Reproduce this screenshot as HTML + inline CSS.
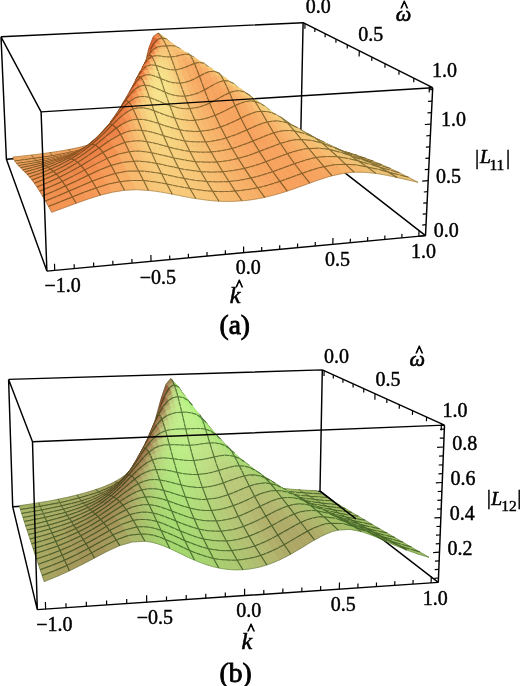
<!DOCTYPE html>
<html><head><meta charset="utf-8"><title>L11 and L12 surface plots</title><style>
html,body{margin:0;padding:0;background:#fff}
svg{display:block}
path{fill:currentColor;stroke:currentColor;stroke-width:.6;stroke-linejoin:round}
path.ma{fill:none;stroke:#3e3206;stroke-opacity:.55;stroke-width:1.05}
path.mb{fill:none;stroke:#16360a;stroke-opacity:.58;stroke-width:1.05}
path.bd{stroke-opacity:.35;stroke-width:.9}
path.bx{fill:none;stroke:#000;stroke-width:1.45}
path.tk{fill:none;stroke:#000;stroke-width:1.2}
text{font-family:"Liberation Serif","Times New Roman",serif;fill:#000;stroke:#000;stroke-width:.45px}
.n{font-size:20px} .ax{font-size:22px;font-style:italic;stroke-width:.6px} .axk{font-size:24px;font-style:italic;stroke-width:.6px}
.h{font-size:15px;stroke-width:.9px} .c{font-size:27.5px;stroke-width:.85px} .br{font-size:21px} .L{font-size:19.5px;font-style:italic;stroke-width:.6px} .s{font-size:15.5px}
</style></head><body>
<svg width="520" height="686" viewBox="0 0 520 686">
<defs><filter id="bl" x="-5%" y="-5%" width="110%" height="110%"><feGaussianBlur stdDeviation="0.45"/></filter></defs>
<path class="bx" d="M6.4 159.3L300.7 138.4M300.7 138.4L425.5 235.6M300.7 138.4L303.1 22.7"/>
<g filter="url(#bl)">
<path d="M77.8 147.7l9.1-2.3 1 1.1-9.2 2.4z" color="#f19b58"/>
<path class="ma" d="M86.9 145.4L87.9 146.5"/>
<path class="ma bd" d="M77.8 147.7L86.9 145.4"/>
<path d="M68.6 149.6l9.2-1.9 .9 1.2-9.2 2z" color="#f19f5b"/>
<path class="ma" d="M68.6 149.6L69.5 150.9"/>
<path class="ma bd" d="M68.6 149.6L77.8 147.7"/>
<path d="M59.4 151.2l9.2-1.6 .9 1.3-9.2 1.6z" color="#f1a25d"/>
<path class="ma" d="M68.6 149.6L69.5 150.9"/>
<path class="ma bd" d="M59.4 151.2L68.6 149.6"/>
<path d="M50.2 152.6l9.2-1.4 .9 1.3-9.3 1.5z" color="#f1a45e"/>
<path class="ma" d="M50.2 152.6L51 154"/>
<path class="ma bd" d="M50.2 152.6L59.4 151.2"/>
<path d="M40.9 153.9l9.3-1.3 .8 1.4-9.3 1.3z" color="#f1a660"/>
<path class="ma" d="M50.2 152.6L51 154"/>
<path class="ma bd" d="M40.9 153.9L50.2 152.6"/>
<path d="M31.6 155l9.3-1.1 .8 1.4-9.4 1.1z" color="#f1a760"/>
<path class="ma" d="M31.6 155L32.3 156.4"/>
<path class="ma bd" d="M31.6 155L40.9 153.9"/>
<path d="M22.2 156.1l9.4-1.1 .7 1.4-9.4 1.1z" color="#f1a861"/>
<path class="ma" d="M31.6 155L32.3 156.4"/>
<path class="ma bd" d="M22.2 156.1L31.6 155"/>
<path d="M12.8 157.1l9.4-1 .7 1.4-9.4 1.1z" color="#f1a861"/>
<path class="ma bd" d="M12.8 157.1L13.5 158.6M12.8 157.1L22.2 156.1"/>
<path d="M78.7 148.9l9.2-2.4 1 .5-9.2 2.6z" color="#ea9554"/>
<path class="ma" d="M87.9 146.5L88.9 147"/>
<path d="M69.5 150.9l9.2-2 1 .7-9.3 2.1z" color="#eb9a57"/>
<path class="ma" d="M69.5 150.9L70.4 151.7"/>
<path d="M60.3 152.5l9.2-1.6 .9 .8-9.3 1.8z" color="#ec9e5a"/>
<path class="ma" d="M69.5 150.9L70.4 151.7"/>
<path d="M51 154l9.3-1.5 .8 1-9.3 1.5z" color="#eca05c"/>
<path class="ma" d="M51 154L51.8 155"/>
<path d="M144.7 65.5l4.3-18 1.3 0-4.3 17.1z" color="#d75a2a"/>
<path class="ma bd" d="M144.7 65.5L149 47.5"/>
<path d="M41.7 155.3l9.3-1.3 .8 1-9.4 1.3z" color="#eda25d"/>
<path class="ma" d="M51 154L51.8 155"/>
<path d="M158 33l4.5 3 1.4 .9-4.6-2.6z" color="#e5d581"/>
<path class="ma" d="M158 33L159.3 34.3"/>
<path class="ma bd" d="M158 33L162.5 36"/>
<path d="M32.3 156.4l9.4-1.1 .7 1-9.4 1.3z" color="#eda45e"/>
<path class="ma" d="M32.3 156.4L33 157.6"/>
<path d="M149 47.5l4.4-11.1 1.4 1-4.5 10.1z" color="#dd612f"/>
<path class="ma bd" d="M149 47.5L153.4 36.4"/>
<path d="M153.4 36.4l4.6-3.4 1.3 1.3-4.5 3.1z" color="#ee8347"/>
<path class="ma" d="M158 33L159.3 34.3"/>
<path class="ma bd" d="M153.4 36.4L158 33"/>
<path d="M22.9 157.5l9.4-1.1 .7 1.2-9.4 1.1z" color="#eea55f"/>
<path class="ma" d="M32.3 156.4L33 157.6"/>
<path d="M13.5 158.6l9.4-1.1 .7 1.2-9.5 1.1z" color="#eea660"/>
<path class="ma bd" d="M13.5 158.6L14.1 159.8"/>
<path d="M79.7 149.6l9.2-2.6 1 .1-9.3 2.8z" color="#e58f4f"/>
<path class="ma" d="M88.9 147L89.9 147.1M80.6 149.9L89.9 147.1"/>
<path d="M70.4 151.7l9.3-2.1 .9 .3-9.3 2.3z" color="#e69554"/>
<path class="ma" d="M70.4 151.7L71.3 152.2M71.3 152.2L80.6 149.9"/>
<path d="M61.1 153.5l9.3-1.8 .9 .5-9.3 1.9z" color="#e89a57"/>
<path class="ma" d="M70.4 151.7L71.3 152.2M62 154.1L71.3 152.2"/>
<path d="M51.8 155l9.3-1.5 .9 .6-9.4 1.7z" color="#e99d59"/>
<path class="ma" d="M51.8 155L52.6 155.8M52.6 155.8L62 154.1"/>
<path d="M146 64.6l4.3-17.1 1.3-1.4-4.4 14.5z" color="#ce5527"/>
<path d="M42.4 156.3l9.4-1.3 .8 .8-9.4 1.4z" color="#ea9f5b"/>
<path class="ma" d="M51.8 155L52.6 155.8M43.2 157.2L52.6 155.8"/>
<path d="M159.3 34.3l4.6 2.6 1.4 .9-4.6-1.9z" color="#e9d17e"/>
<path class="ma" d="M159.3 34.3L160.7 35.9"/>
<path d="M33 157.6l9.4-1.3 .8 .9-9.4 1.3z" color="#eaa15c"/>
<path class="ma" d="M33 157.6L33.8 158.5M33.8 158.5L43.2 157.2"/>
<path d="M150.3 47.5l4.5-10.1 1.3 .8-4.5 7.9z" color="#da602e"/>
<path d="M154.8 37.4l4.5-3.1 1.4 1.6-4.6 2.3z" color="#f18b4d"/>
<path class="ma" d="M159.3 34.3L160.7 35.9"/>
<path d="M23.6 158.7l9.4-1.1 .8 .9-9.5 1.3z" color="#eba35d"/>
<path class="ma" d="M33 157.6L33.8 158.5M24.3 159.8L33.8 158.5"/>
<path d="M14.1 159.8l9.5-1.1 .7 1.1-9.5 1.1z" color="#eca45e"/>
<path class="ma" d="M14.8 160.9L24.3 159.8"/>
<path class="ma bd" d="M14.1 159.8L14.8 160.9"/>
<path d="M71.3 152.2l9.3-2.3 1 0-9.4 2.5z" color="#e39151"/>
<path class="ma" d="M71.3 152.2L72.2 152.4M71.3 152.2L80.6 149.9"/>
<path d="M62 154.1l9.3-1.9 .9 .2-9.4 2.1z" color="#e59654"/>
<path class="ma" d="M71.3 152.2L72.2 152.4M62 154.1L71.3 152.2"/>
<path d="M52.6 155.8l9.4-1.7 .8 .4-9.4 1.8z" color="#e79a57"/>
<path class="ma" d="M52.6 155.8L53.4 156.3M52.6 155.8L62 154.1"/>
<path d="M43.2 157.2l9.4-1.4 .8 .5-9.4 1.6z" color="#e89d59"/>
<path class="ma" d="M52.6 155.8L53.4 156.3M43.2 157.2L52.6 155.8"/>
<path d="M160.7 35.9l4.6 1.9 1.4 1.2-4.6-1.1z" color="#f1cc7b"/>
<path class="ma" d="M160.7 35.9L162.1 37.9M162.1 37.9L166.7 39"/>
<path d="M147.2 60.6l4.4-14.5 1.3-1.2-4.5 11.1z" color="#cc5526"/>
<path class="ma" d="M148.4 56L152.9 44.9"/>
<path d="M33.8 158.5l9.4-1.3 .8 .7-9.5 1.4z" color="#e99f5b"/>
<path class="ma" d="M33.8 158.5L34.5 159.3M33.8 158.5L43.2 157.2"/>
<path d="M156.1 38.2l4.6-2.3 1.4 2-4.6 1.6z" color="#f69756"/>
<path class="ma" d="M160.7 35.9L162.1 37.9M157.5 39.5L162.1 37.9"/>
<path d="M151.6 46.1l4.5-7.9 1.4 1.3-4.6 5.4z" color="#dd6733"/>
<path class="ma" d="M152.9 44.9L157.5 39.5"/>
<path d="M24.3 159.8l9.5-1.3 .7 .8-9.5 1.3z" color="#e9a15c"/>
<path class="ma" d="M33.8 158.5L34.5 159.3M24.3 159.8L33.8 158.5"/>
<path d="M14.8 160.9l9.5-1.1 .7 .8-9.6 1.2z" color="#eaa25d"/>
<path class="ma" d="M14.8 160.9L24.3 159.8"/>
<path class="ma bd" d="M14.8 160.9L15.4 161.8"/>
<path d="M72.2 152.4l9.4-2.5 .9-.2-9.4 2.8z" color="#e28e4e"/>
<path class="ma" d="M72.2 152.4L73.1 152.5"/>
<path d="M166.7 39l4.7 4.9 1.4-.2-4.7-2.9z" color="#d26d37"/>
<path class="ma" d="M166.7 39L171.4 43.9"/>
<path d="M62.8 154.5l9.4-2.1 .9 .1-9.4 2.3z" color="#e49352"/>
<path class="ma" d="M72.2 152.4L73.1 152.5"/>
<path d="M53.4 156.3l9.4-1.8 .9 .3-9.4 2z" color="#e59755"/>
<path class="ma" d="M53.4 156.3L54.3 156.8"/>
<path d="M162.1 37.9l4.6 1.1 1.4 1.8-4.6-.6z" color="#f7c777"/>
<path class="ma" d="M162.1 37.9L163.5 40.2M162.1 37.9L166.7 39"/>
<path d="M44 157.9l9.4-1.6 .9 .5-9.5 1.7z" color="#e69b57"/>
<path class="ma" d="M53.4 156.3L54.3 156.8"/>
<path d="M157.5 39.5l4.6-1.6 1.4 2.3-4.6 1z" color="#f7a660"/>
<path class="ma" d="M162.1 37.9L163.5 40.2M157.5 39.5L162.1 37.9"/>
<path d="M34.5 159.3l9.5-1.4 .8 .6-9.6 1.5z" color="#e79d59"/>
<path class="ma" d="M34.5 159.3L35.2 160"/>
<path d="M148.4 56l4.5-11.1 1.4-.3-4.6 7.7z" color="#cf5a2a"/>
<path class="ma" d="M148.4 56L152.9 44.9"/>
<path d="M152.9 44.9l4.6-5.4 1.4 1.7-4.6 3.4z" color="#e9773f"/>
<path class="ma" d="M152.9 44.9L157.5 39.5"/>
<path d="M25 160.6l9.5-1.3 .7 .7-9.5 1.4z" color="#e89f5b"/>
<path class="ma" d="M34.5 159.3L35.2 160"/>
<path d="M15.4 161.8l9.6-1.2 .7 .8-9.7 1.3z" color="#e9a15c"/>
<path class="ma bd" d="M15.4 161.8L16 162.7"/>
<path d="M73.1 152.5l9.4-2.8 1-.3-9.5 3.1z" color="#e18b4c"/>
<path class="ma" d="M73.1 152.5L74 152.5M74 152.5L83.5 149.4"/>
<path d="M168.1 40.8l4.7 2.9 1.4 .8-4.6-1.4z" color="#ecd37f"/>
<path d="M63.7 154.8l9.4-2.3 .9 0-9.4 2.5z" color="#e39150"/>
<path class="ma" d="M73.1 152.5L74 152.5M64.6 155L74 152.5"/>
<path d="M163.5 40.2l4.6 .6 1.5 2.3-4.7-.2z" color="#f7c375"/>
<path class="ma" d="M163.5 40.2L164.9 42.9"/>
<path d="M54.3 156.8l9.4-2 .9 .2-9.5 2.2z" color="#e49554"/>
<path class="ma" d="M54.3 156.8L55.1 157.2M55.1 157.2L64.6 155"/>
<path d="M44.8 158.5l9.5-1.7 .8 .4-9.6 1.8z" color="#e59956"/>
<path class="ma" d="M54.3 156.8L55.1 157.2M45.5 159L55.1 157.2"/>
<path d="M158.9 41.2l4.6-1 1.4 2.7-4.6 .6z" color="#f7b168"/>
<path class="ma" d="M163.5 40.2L164.9 42.9"/>
<path d="M145.2 65.3l4.5-13 1.3-1.9-4.6 9.7z" color="#dbf396"/>
<path class="ma" d="M145.2 65.3L146.4 60.1"/>
<path d="M35.2 160l9.6-1.5 .7 .5-9.5 1.7z" color="#e69b58"/>
<path class="ma" d="M35.2 160L36 160.7M36 160.7L45.5 159"/>
<path d="M154.3 44.6l4.6-3.4 1.4 2.3-4.7 2z" color="#f28e4f"/>
<path d="M149.7 52.3l4.6-7.7 1.3 .9-4.6 4.9z" color="#d96532"/>
<path d="M25.7 161.4l9.5-1.4 .8 .7-9.7 1.5z" color="#e79e5a"/>
<path class="ma" d="M35.2 160L36 160.7M26.3 162.2L36 160.7"/>
<path d="M16 162.7l9.7-1.3 .6 .8-9.6 1.3z" color="#e89f5b"/>
<path class="ma" d="M16.7 163.5L26.3 162.2"/>
<path class="ma bd" d="M16 162.7L16.7 163.5"/>
<path d="M169.6 43.1l4.6 1.4 1.5 1.8-4.7-.5z" color="#f7c979"/>
<path class="ma" d="M171 45.8L175.7 46.3"/>
<path d="M164.9 42.9l4.7 .2 1.4 2.7-4.6 .2z" color="#f7c173"/>
<path class="ma" d="M164.9 42.9L166.4 46M166.4 46L171 45.8"/>
<path d="M64.6 155l9.4-2.5 1-.1-9.5 2.7z" color="#e28e4f"/>
<path class="ma" d="M74 152.5L75 152.4M64.6 155L74 152.5"/>
<path d="M55.1 157.2l9.5-2.2 .9 .1-9.6 2.4z" color="#e39352"/>
<path class="ma" d="M55.1 157.2L55.9 157.5M55.1 157.2L64.6 155"/>
<path d="M160.3 43.5l4.6-.6 1.5 3.1-4.7 .3z" color="#f7ba6f"/>
<path class="ma" d="M164.9 42.9L166.4 46M161.7 46.3L166.4 46"/>
<path d="M45.5 159l9.6-1.8 .8 .3-9.6 2z" color="#e59755"/>
<path class="ma" d="M55.1 157.2L55.9 157.5M45.5 159L55.1 157.2"/>
<path d="M155.6 45.5l4.7-2 1.4 2.8-4.7 .9z" color="#f7a560"/>
<path class="ma" d="M157 47.2L161.7 46.3"/>
<path d="M146.4 60.1l4.6-9.7 1.3-.3-4.6 6.6z" color="#cf5c2b"/>
<path class="ma" d="M146.4 60.1L147.7 56.7M147.7 56.7L152.3 50.1"/>
<path d="M36 160.7l9.5-1.7 .8 .5-9.6 1.8z" color="#e69a57"/>
<path class="ma" d="M36 160.7L36.7 161.3M36 160.7L45.5 159"/>
<path d="M151 50.4l4.6-4.9 1.4 1.7-4.7 2.9z" color="#ea7a41"/>
<path class="ma" d="M152.3 50.1L157 47.2"/>
<path d="M26.3 162.2l9.7-1.5 .7 .6-9.7 1.5z" color="#e79c59"/>
<path class="ma" d="M36 160.7L36.7 161.3M26.3 162.2L36 160.7"/>
<path d="M175.7 46.3l4.7 2.3 1.5 1-4.7-.9z" color="#f1cd7b"/>
<path class="ma" d="M175.7 46.3L180.4 48.6"/>
<path d="M16.7 163.5l9.6-1.3 .7 .6-9.7 1.5z" color="#e89e5a"/>
<path class="ma" d="M16.7 163.5L26.3 162.2"/>
<path class="ma bd" d="M16.7 163.5L17.3 164.3"/>
<path d="M171 45.8l4.7 .5 1.5 2.4-4.7 .3z" color="#f7c174"/>
<path class="ma" d="M171 45.8L175.7 46.3"/>
<path d="M166.4 46l4.6-.2 1.5 3.2-4.7 .4z" color="#f7c073"/>
<path class="ma" d="M166.4 46L167.8 49.4M166.4 46L171 45.8"/>
<path d="M65.5 155.1l9.5-2.7 .9-.2-9.6 3z" color="#e18c4d"/>
<path class="ma" d="M75 152.4L75.9 152.2"/>
<path d="M161.7 46.3l4.7-.3 1.4 3.4-4.7 .1z" color="#f7c173"/>
<path class="ma" d="M166.4 46L167.8 49.4M161.7 46.3L166.4 46"/>
<path d="M55.9 157.5l9.6-2.4 .8 .1-9.6 2.5z" color="#e39151"/>
<path class="ma" d="M55.9 157.5L56.7 157.7"/>
<path d="M157 47.2l4.7-.9 1.4 3.2-4.7 .2z" color="#f7b86d"/>
<path class="ma" d="M157 47.2L161.7 46.3"/>
<path d="M181.9 49.6l4.7 3.6 1.5 .1-4.7-1.8z" color="#e4d27f"/>
<path class="ma" d="M186.6 53.2L188.1 53.3"/>
<path d="M46.3 159.5l9.6-2 .8 .2-9.6 2.2z" color="#e49554"/>
<path class="ma" d="M55.9 157.5L56.7 157.7"/>
<path d="M143.2 67.8l4.5-11.1 1.3-1.5-4.6 8.3z" color="#dbf194"/>
<path class="ma" d="M147.7 56.7L149 55.2M143.2 67.8L147.7 56.7"/>
<path d="M152.3 50.1l4.7-2.9 1.4 2.5-4.7 1.3z" color="#f69655"/>
<path class="ma" d="M152.3 50.1L157 47.2"/>
<path d="M36.7 161.3l9.6-1.8 .8 .4-9.7 1.9z" color="#e59956"/>
<path class="ma" d="M36.7 161.3L37.4 161.8"/>
<path d="M147.7 56.7l4.6-6.6 1.4 .9-4.7 4.2z" color="#dc6b36"/>
<path class="ma" d="M147.7 56.7L149 55.2M147.7 56.7L152.3 50.1"/>
<path d="M177.2 48.7l4.7 .9 1.5 1.9-4.7 .3z" color="#f7c374"/>
<path d="M27 162.8l9.7-1.5 .7 .5-9.7 1.7z" color="#e69b58"/>
<path class="ma" d="M36.7 161.3L37.4 161.8"/>
<path d="M17.3 164.3l9.7-1.5 .7 .7-9.7 1.5z" color="#e79d59"/>
<path class="ma bd" d="M17.3 164.3L18 165"/>
<path d="M172.5 49l4.7-.3 1.5 3.1-4.7 .8z" color="#f7bc70"/>
<path d="M167.8 49.4l4.7-.4 1.5 3.6-4.7 .5z" color="#f7c072"/>
<path class="ma" d="M167.8 49.4L169.3 53.1"/>
<path d="M163.1 49.5l4.7-.1 1.5 3.7-4.7-.1z" color="#f7c677"/>
<path class="ma" d="M167.8 49.4L169.3 53.1"/>
<path d="M66.3 155.2l9.6-3 .9-.3-9.6 3.3z" color="#e18a4c"/>
<path class="ma" d="M75.9 152.2L76.8 151.9M67.2 155.2L76.8 151.9"/>
<path d="M158.4 49.7l4.7-.2 1.5 3.5-4.8-.3z" color="#f7c576"/>
<path d="M56.7 157.7l9.6-2.5 .9 0-9.6 2.7z" color="#e38f4f"/>
<path class="ma" d="M56.7 157.7L57.6 157.9M57.6 157.9L67.2 155.2"/>
<path d="M183.4 51.5l4.7 1.8 1.5 1.3-4.7-.3z" color="#f7c878"/>
<path class="ma" d="M188.1 53.3L189.6 54.6M184.9 54.3L189.6 54.6"/>
<path d="M153.7 51l4.7-1.3 1.4 3-4.7 .3z" color="#f7b168"/>
<path d="M47.1 159.9l9.6-2.2 .9 .2-9.7 2.3z" color="#e49453"/>
<path class="ma" d="M56.7 157.7L57.6 157.9M47.9 160.2L57.6 157.9"/>
<path d="M178.7 51.8l4.7-.3 1.5 2.8-4.7 1z" color="#f7b96e"/>
<path class="ma" d="M180.2 55.3L184.9 54.3"/>
<path d="M149 55.2l4.7-4.2 1.4 2-4.7 2.2z" color="#ee8347"/>
<path class="ma" d="M149 55.2L150.4 55.2"/>
<path d="M144.4 63.5l4.6-8.3 1.4 0-4.7 5.7z" color="#d3602e"/>
<path class="ma" d="M149 55.2L150.4 55.2"/>
<path d="M37.4 161.8l9.7-1.9 .8 .3-9.7 2.1z" color="#e59755"/>
<path class="ma" d="M37.4 161.8L38.2 162.3M38.2 162.3L47.9 160.2"/>
<path d="M27.7 163.5l9.7-1.7 .8 .5-9.8 1.8z" color="#e69a57"/>
<path class="ma" d="M37.4 161.8L38.2 162.3M28.4 164.1L38.2 162.3"/>
<path d="M174 52.6l4.7-.8 1.5 3.5-4.7 1.1z" color="#f7b86d"/>
<path class="ma" d="M175.5 56.4L180.2 55.3"/>
<path d="M18 165l9.7-1.5 .7 .6-9.8 1.7z" color="#e79c59"/>
<path class="ma" d="M18.6 165.8L28.4 164.1"/>
<path class="ma bd" d="M18 165L18.6 165.8"/>
<path d="M169.3 53.1l4.7-.5 1.5 3.8-4.7 .6z" color="#f7c073"/>
<path class="ma" d="M169.3 53.1L170.8 57M170.8 57L175.5 56.4"/>
<path d="M164.6 53l4.7 .1 1.5 3.9-4.8-.1z" color="#f7c979"/>
<path class="ma" d="M169.3 53.1L170.8 57M166 56.9L170.8 57"/>
<path d="M189.6 54.6l4.8 2.9 1.5 .6-4.7-1.2z" color="#eacf7d"/>
<path class="ma" d="M189.6 54.6L191.2 56.9M189.6 54.6L194.4 57.5"/>
<path d="M159.8 52.7l4.8 .3 1.4 3.9-4.7-.6z" color="#f7cd7c"/>
<path class="ma" d="M161.3 56.3L166 56.9"/>
<path d="M184.9 54.3l4.7 .3 1.6 2.3-4.7 .7z" color="#f7bc70"/>
<path class="ma" d="M189.6 54.6L191.2 56.9M184.9 54.3L189.6 54.6"/>
<path d="M67.2 155.2l9.6-3.3 1-.4-9.7 3.6z" color="#df884a"/>
<path class="ma" d="M76.8 151.9L77.8 151.5M67.2 155.2L76.8 151.9"/>
<path d="M155.1 53l4.7-.3 1.5 3.6-4.8-.5z" color="#f7c476"/>
<path class="ma" d="M156.5 55.8L161.3 56.3"/>
<path d="M57.6 157.9l9.6-2.7 .9-.1-9.7 2.9z" color="#e28e4e"/>
<path class="ma" d="M57.6 157.9L58.4 158M57.6 157.9L67.2 155.2"/>
<path d="M180.2 55.3l4.7-1 1.6 3.3-4.7 1.6z" color="#f7b36a"/>
<path class="ma" d="M180.2 55.3L184.9 54.3"/>
<path d="M47.9 160.2l9.7-2.3 .8 .1-9.7 2.6z" color="#e49251"/>
<path class="ma" d="M57.6 157.9L58.4 158M47.9 160.2L57.6 157.9"/>
<path d="M150.4 55.2l4.7-2.2 1.4 2.8-4.7 .7z" color="#f7a25d"/>
<path class="ma" d="M150.4 55.2L151.8 56.5M151.8 56.5L156.5 55.8"/>
<path d="M141.1 70.6l4.6-9.7 1.3-.9-4.7 7.2z" color="#cd5b2a"/>
<path class="ma" d="M142.3 67.2L147 60"/>
<path d="M145.7 60.9l4.7-5.7 1.4 1.3-4.8 3.5z" color="#e2723b"/>
<path class="ma" d="M150.4 55.2L151.8 56.5M147 60L151.8 56.5"/>
<path d="M175.5 56.4l4.7-1.1 1.6 3.9-4.8 1.3z" color="#f7b66c"/>
<path class="ma" d="M175.5 56.4L180.2 55.3"/>
<path d="M38.2 162.3l9.7-2.1 .8 .4-9.7 2.1z" color="#e59654"/>
<path class="ma" d="M38.2 162.3L39 162.7M38.2 162.3L47.9 160.2"/>
<path d="M28.4 164.1l9.8-1.8 .8 .4-9.8 2z" color="#e69956"/>
<path class="ma" d="M38.2 162.3L39 162.7M28.4 164.1L38.2 162.3"/>
<path d="M170.8 57l4.7-.6 1.5 4.1-4.7 .7z" color="#f7c073"/>
<path class="ma" d="M170.8 57L172.3 61.2M170.8 57L175.5 56.4"/>
<path d="M18.6 165.8l9.8-1.7 .8 .6-9.9 1.8z" color="#e79b58"/>
<path class="ma" d="M18.6 165.8L28.4 164.1"/>
<path class="ma bd" d="M18.6 165.8L19.3 166.5"/>
<path d="M166 56.9l4.8 .1 1.5 4.2-4.8-.2z" color="#f7cb7b"/>
<path class="ma" d="M170.8 57L172.3 61.2M166 56.9L170.8 57"/>
<path d="M191.2 56.9l4.7 1.2 1.7 1.7-4.8 .1z" color="#f7c475"/>
<path class="ma" d="M191.2 56.9L192.8 59.9"/>
<path d="M161.3 56.3l4.7 .6 1.5 4.1-4.7-.8z" color="#f7d280"/>
<path class="ma" d="M161.3 56.3L166 56.9"/>
<path d="M186.5 57.6l4.7-.7 1.6 3-4.7 1.5z" color="#f7b36a"/>
<path class="ma" d="M191.2 56.9L192.8 59.9"/>
<path d="M156.5 55.8l4.8 .5 1.5 3.9-4.8-1.1z" color="#f7d07e"/>
<path class="ma" d="M156.5 55.8L161.3 56.3"/>
<path d="M181.8 59.2l4.7-1.6 1.6 3.8-4.8 1.9z" color="#f7af67"/>
<path d="M68.1 155.1l9.7-3.6 .9-.4-9.7 3.8z" color="#de8548"/>
<path class="ma" d="M77.8 151.5L78.7 151.1"/>
<path d="M58.4 158l9.7-2.9 .9-.2-9.7 3.2z" color="#e28c4d"/>
<path class="ma" d="M58.4 158L59.3 158.1"/>
<path d="M151.8 56.5l4.7-.7 1.5 3.3-4.8-.2z" color="#f7bc70"/>
<path class="ma" d="M151.8 56.5L153.2 58.9M151.8 56.5L156.5 55.8"/>
<path d="M177 60.5l4.8-1.3 1.5 4.1-4.7 1.5z" color="#f7b56b"/>
<path d="M48.7 160.6l9.7-2.6 .9 .1-9.8 2.7z" color="#e49150"/>
<path class="ma" d="M58.4 158L59.3 158.1"/>
<path d="M147 60l4.8-3.5 1.4 2.4-4.8 1.7z" color="#f28e4f"/>
<path class="ma" d="M151.8 56.5L153.2 58.9M147 60L151.8 56.5"/>
<path d="M142.3 67.2l4.7-7.2 1.4 .6-4.8 4.9z" color="#d96633"/>
<path class="ma" d="M142.3 67.2L147 60"/>
<path d="M172.3 61.2l4.7-.7 1.6 4.3-4.8 .7z" color="#f7c073"/>
<path class="ma" d="M172.3 61.2L173.8 65.5"/>
<path d="M39 162.7l9.7-2.1 .8 .2-9.8 2.4z" color="#e59553"/>
<path class="ma" d="M39 162.7L39.7 163.2"/>
<path d="M197.6 59.8l4.7 2.4 1.6 1-4.7-.8z" color="#f1cd7b"/>
<path class="ma" d="M199.2 62.4L203.9 63.2"/>
<path d="M29.2 164.7l9.8-2 .7 .5-9.8 2.1z" color="#e69855"/>
<path class="ma" d="M39 162.7L39.7 163.2"/>
<path d="M167.5 61l4.8 .2 1.5 4.3-4.8-.2z" color="#f7cd7c"/>
<path class="ma" d="M172.3 61.2L173.8 65.5"/>
<path d="M19.3 166.5l9.9-1.8 .7 .6-9.9 1.8z" color="#e79a57"/>
<path class="ma bd" d="M19.3 166.5L20 167.1"/>
<path d="M192.8 59.9l4.8-.1 1.6 2.6-4.8 1.1z" color="#f7b86d"/>
<path class="ma" d="M192.8 59.9L194.4 63.5M194.4 63.5L199.2 62.4"/>
<path d="M162.8 60.2l4.7 .8 1.5 4.3-4.8-1z" color="#f7d582"/>
<path d="M188.1 61.4l4.7-1.5 1.6 3.6-4.7 2.1z" color="#f7ad66"/>
<path class="ma" d="M192.8 59.9L194.4 63.5M189.7 65.6L194.4 63.5"/>
<path d="M158 59.1l4.8 1.1 1.4 4.1-4.8-1.3z" color="#f7d783"/>
<path d="M183.3 63.3l4.8-1.9 1.6 4.2-4.8 2z" color="#f7ad66"/>
<path class="ma" d="M184.9 67.6L189.7 65.6"/>
<path d="M178.6 64.8l4.7-1.5 1.6 4.3-4.8 1.5z" color="#f7b56b"/>
<path class="ma" d="M180.1 69.1L184.9 67.6"/>
<path d="M153.2 58.9l4.8 .2 1.4 3.9-4.8-1.1z" color="#f7cd7c"/>
<path class="ma" d="M153.2 58.9L154.6 61.9"/>
<path d="M69 154.9l9.7-3.8 1-.5-9.8 4.2z" color="#dd8347"/>
<path class="ma" d="M78.7 151.1L79.7 150.6M69.9 154.8L79.7 150.6"/>
<path d="M134.3 84.7l4.6-10.8 1.3-2.4-4.7 9.3z" color="#dcf295"/>
<path class="ma" d="M134.3 84.7L135.5 80.8"/>
<path d="M173.8 65.5l4.8-.7 1.5 4.3-4.8 .8z" color="#f7c173"/>
<path class="ma" d="M173.8 65.5L175.3 69.9M175.3 69.9L180.1 69.1"/>
<path d="M59.3 158.1l9.7-3.2 .9-.1-9.7 3.4z" color="#e28a4c"/>
<path class="ma" d="M59.3 158.1L60.2 158.2M60.2 158.2L69.9 154.8"/>
<path d="M148.4 60.6l4.8-1.7 1.4 3-4.8 .4z" color="#f7ac64"/>
<path class="ma" d="M153.2 58.9L154.6 61.9"/>
<path d="M49.5 160.8l9.8-2.7 .9 .1-9.8 2.9z" color="#e48f4f"/>
<path class="ma" d="M59.3 158.1L60.2 158.2M50.4 161.1L60.2 158.2"/>
<path d="M138.9 73.9l4.7-8.4 1.4-.3-4.8 6.3z" color="#d25f2e"/>
<path d="M143.6 65.5l4.8-4.9 1.4 1.7-4.8 2.9z" color="#e97b41"/>
<path d="M203.9 63.2l4.8 3.7 2.5 1-4.8-1.2z" color="#e9d37f"/>
<path class="ma" d="M203.9 63.2L208.7 66.9"/>
<path d="M169 65.3l4.8 .2 1.5 4.4-4.8-.2z" color="#f7cd7c"/>
<path class="ma" d="M173.8 65.5L175.3 69.9M170.5 69.7L175.3 69.9"/>
<path d="M39.7 163.2l9.8-2.4 .9 .3-9.9 2.5z" color="#e59352"/>
<path class="ma" d="M39.7 163.2L40.5 163.6M40.5 163.6L50.4 161.1"/>
<path d="M29.9 165.3l9.8-2.1 .8 .4-9.9 2.2z" color="#e69755"/>
<path class="ma" d="M39.7 163.2L40.5 163.6M30.6 165.8L40.5 163.6"/>
<path d="M164.2 64.3l4.8 1 1.5 4.4-4.8-1z" color="#f7d783"/>
<path class="ma" d="M165.7 68.7L170.5 69.7"/>
<path d="M20 167.1l9.9-1.8 .7 .5-9.9 2z" color="#e79957"/>
<path class="ma" d="M20.7 167.8L30.6 165.8"/>
<path class="ma bd" d="M20 167.1L20.7 167.8"/>
<path d="M199.2 62.4l4.7 .8 2.5 3.5-4.7 .9z" color="#f7bf72"/>
<path class="ma" d="M199.2 62.4L203.9 63.2"/>
<path d="M194.4 63.5l4.8-1.1 2.5 5.2-4.8 2.1z" color="#f7af67"/>
<path class="ma" d="M194.4 63.5L196.9 69.7M194.4 63.5L199.2 62.4"/>
<path d="M159.4 63l4.8 1.3 1.5 4.4-4.8-1.6z" color="#f7db86"/>
<path class="ma" d="M160.9 67.1L165.7 68.7"/>
<path d="M189.7 65.6l4.7-2.1 2.5 6.2-4.8 2.4z" color="#f7a963"/>
<path class="ma" d="M194.4 63.5L196.9 69.7M189.7 65.6L194.4 63.5"/>
<path d="M154.6 61.9l4.8 1.1 1.5 4.1-4.9-1.5z" color="#f7d883"/>
<path class="ma" d="M154.6 61.9L156 65.6M156 65.6L160.9 67.1"/>
<path d="M184.9 67.6l4.8-2 2.4 6.5-4.8 2.2z" color="#f7ac65"/>
<path class="ma" d="M184.9 67.6L189.7 65.6"/>
<path d="M180.1 69.1l4.8-1.5 2.4 6.7-4.8 1.5z" color="#f7b56b"/>
<path class="ma" d="M180.1 69.1L184.9 67.6"/>
<path d="M149.8 62.3l4.8-.4 1.4 3.7-4.8-.6z" color="#f7c475"/>
<path class="ma" d="M154.6 61.9L156 65.6M151.2 65L156 65.6"/>
<path d="M135.5 80.8l4.7-9.3 1.3-.9-4.7 7.4z" color="#cf5c2b"/>
<path class="ma" d="M135.5 80.8L136.8 78M136.8 78L141.5 70.6"/>
<path d="M175.3 69.9l4.8-.8 2.4 6.7-4.8 .7z" color="#f7c173"/>
<path class="ma" d="M175.3 69.9L177.7 76.5M175.3 69.9L180.1 69.1"/>
<path d="M145 65.2l4.8-2.9 1.4 2.7-4.9 1.3z" color="#f69755"/>
<path class="ma" d="M146.3 66.3L151.2 65"/>
<path d="M140.2 71.5l4.8-6.3 1.3 1.1-4.8 4.3z" color="#df6d38"/>
<path class="ma" d="M141.5 70.6L146.3 66.3"/>
<path d="M170.5 69.7l4.8 .2 2.4 6.6-4.9-.1z" color="#f7cd7c"/>
<path class="ma" d="M175.3 69.9L177.7 76.5M170.5 69.7L175.3 69.9"/>
<path d="M69.9 154.8l9.8-4.2 1.4-.9-9.8 4.7z" color="#dc8145"/>
<path class="ma" d="M79.7 150.6L81.1 149.7M69.9 154.8L79.7 150.6"/>
<path d="M211.2 67.9l4.8 4 2.6 1-4.8-1.7z" color="#e6d681"/>
<path class="ma" d="M216 71.9L218.6 72.9M213.8 71.2L218.6 72.9"/>
<path d="M60.2 158.2l9.7-3.4 1.4-.4-9.8 3.8z" color="#e0884a"/>
<path class="ma" d="M60.2 158.2L61.5 158.2M60.2 158.2L69.9 154.8"/>
<path d="M50.4 161.1l9.8-2.9 1.3 0-9.9 3.3z" color="#e48d4e"/>
<path class="ma" d="M60.2 158.2L61.5 158.2M50.4 161.1L60.2 158.2"/>
<path d="M165.7 68.7l4.8 1 2.3 6.7-4.8-1z" color="#f7d783"/>
<path class="ma" d="M165.7 68.7L170.5 69.7"/>
<path d="M40.5 163.6l9.9-2.5 1.2 .4-9.9 2.7z" color="#e59251"/>
<path class="ma" d="M40.5 163.6L41.7 164.2M40.5 163.6L50.4 161.1"/>
<path d="M337 150.2l9.3 1.8 3.7 1.1-9.3-2z" color="#e1b76b"/>
<path class="ma" d="M340.7 151.1L350 153.1"/>
<path class="ma bd" d="M346.3 152L350 153.1"/>
<path d="M30.6 165.8l9.9-2.2 1.2 .6-10 2.5z" color="#e69554"/>
<path class="ma" d="M40.5 163.6L41.7 164.2M30.6 165.8L40.5 163.6"/>
<path d="M206.4 66.7l4.8 1.2 2.6 3.3-4.8 .5z" color="#f7c475"/>
<path class="ma" d="M209 71.7L213.8 71.2"/>
<path d="M20.7 167.8l9.9-2 1.1 .9-10 2.1z" color="#e79856"/>
<path class="ma" d="M20.7 167.8L30.6 165.8"/>
<path class="ma bd" d="M20.7 167.8L21.7 168.8"/>
<path d="M160.9 67.1l4.8 1.6 2.3 6.7-4.9-1.7z" color="#f7de87"/>
<path class="ma" d="M160.9 67.1L165.7 68.7"/>
<path d="M201.7 67.6l4.7-.9 2.6 5-4.8 2z" color="#f7b168"/>
<path class="ma" d="M204.2 73.7L209 71.7"/>
<path d="M196.9 69.7l4.8-2.1 2.5 6.1-4.8 2.6z" color="#f7a862"/>
<path class="ma" d="M196.9 69.7L199.4 76.3M199.4 76.3L204.2 73.7"/>
<path d="M156 65.6l4.9 1.5 2.2 6.6-4.9-1.9z" color="#f7de88"/>
<path class="ma" d="M156 65.6L158.2 71.8M156 65.6L160.9 67.1"/>
<path d="M192.1 72.1l4.8-2.4 2.5 6.6-4.9 2.6z" color="#f7a762"/>
<path class="ma" d="M196.9 69.7L199.4 76.3M194.5 78.9L199.4 76.3"/>
<path d="M151.2 65l4.8 .6 2.2 6.2-4.9-1.6z" color="#f7d581"/>
<path class="ma" d="M156 65.6L158.2 71.8M151.2 65L156 65.6"/>
<path d="M187.3 74.3l4.8-2.2 2.4 6.8-4.8 2.1z" color="#f7ac65"/>
<path class="ma" d="M189.7 81L194.5 78.9"/>
<path d="M182.5 75.8l4.8-1.5 2.4 6.7-4.8 1.5z" color="#f7b56b"/>
<path class="ma" d="M184.9 82.5L189.7 81"/>
<path d="M146.3 66.3l4.9-1.3 2.1 5.2-4.9-.4z" color="#f7b96d"/>
<path class="ma" d="M146.3 66.3L151.2 65"/>
<path d="M132.1 87.6l4.7-9.6 1.9-1.8-4.8 7.4z" color="#ce5b2b"/>
<path class="ma" d="M136.8 78L138.7 76.2M132.1 87.6L136.8 78"/>
<path d="M141.5 70.6l4.8-4.3 2.1 3.5-4.8 1.8z" color="#f0894b"/>
<path class="ma" d="M141.5 70.6L146.3 66.3"/>
<path d="M177.7 76.5l4.8-.7 2.4 6.7-4.9 .7z" color="#f7c173"/>
<path class="ma" d="M177.7 76.5L180 83.2M180 83.2L184.9 82.5"/>
<path d="M136.8 78l4.7-7.4 2.1 1-4.9 4.6z" color="#db6834"/>
<path class="ma" d="M136.8 78L138.7 76.2M136.8 78L141.5 70.6"/>
<path d="M218.6 72.9l4.7 4.2 2.7 1-4.8-2.1z" color="#e4d782"/>
<path class="ma" d="M218.6 72.9L221.2 76M218.6 72.9L223.3 77.1"/>
<path d="M172.8 76.4l4.9 .1 2.3 6.7-4.8-.1z" color="#f7cd7c"/>
<path class="ma" d="M177.7 76.5L180 83.2M175.2 83.1L180 83.2"/>
<path d="M213.8 71.2l4.8 1.7 2.6 3.1-4.8 .1z" color="#f7c979"/>
<path class="ma" d="M218.6 72.9L221.2 76M213.8 71.2L218.6 72.9"/>
<path d="M168 75.4l4.8 1 2.4 6.7-4.9-.9z" color="#f7d783"/>
<path class="ma" d="M170.3 82.2L175.2 83.1"/>
<path d="M61.5 158.2l9.8-3.8 1.5-.4-10 4.2z" color="#df8548"/>
<path class="ma" d="M61.5 158.2L62.8 158.2M62.8 158.2L72.8 154"/>
<path d="M209 71.7l4.8-.5 2.6 4.9-4.8 1.7z" color="#f7b56b"/>
<path class="ma" d="M209 71.7L213.8 71.2"/>
<path d="M163.1 73.7l4.9 1.7 2.3 6.8-4.9-1.6z" color="#f7de88"/>
<path class="ma" d="M165.4 80.6L170.3 82.2"/>
<path d="M51.6 161.5l9.9-3.3 1.3 0-9.9 3.6z" color="#e38b4c"/>
<path class="ma" d="M61.5 158.2L62.8 158.2M52.9 161.8L62.8 158.2"/>
<path d="M41.7 164.2l9.9-2.7 1.3 .3-10 3z" color="#e59050"/>
<path class="ma" d="M41.7 164.2L42.9 164.8M42.9 164.8L52.9 161.8"/>
<path d="M204.2 73.7l4.8-2 2.6 6.1-4.9 2.6z" color="#f7a963"/>
<path class="ma" d="M204.2 73.7L209 71.7"/>
<path d="M31.7 166.7l10-2.5 1.2 .6-10.1 2.7z" color="#e69453"/>
<path class="ma" d="M41.7 164.2L42.9 164.8M32.8 167.5L42.9 164.8"/>
<path d="M199.4 76.3l4.8-2.6 2.5 6.7-4.8 2.7z" color="#f7a560"/>
<path class="ma" d="M199.4 76.3L201.9 83.1M199.4 76.3L204.2 73.7"/>
<path d="M158.2 71.8l4.9 1.9 2.3 6.9-4.9-2.1z" color="#f7e18a"/>
<path class="ma" d="M158.2 71.8L160.5 78.5M160.5 78.5L165.4 80.6"/>
<path d="M21.7 168.8l10-2.1 1.1 .8-10.1 2.4z" color="#e79755"/>
<path class="ma" d="M22.7 169.9L32.8 167.5"/>
<path class="ma bd" d="M21.7 168.8L22.7 169.9"/>
<path d="M194.5 78.9l4.9-2.6 2.5 6.8-4.9 2.6z" color="#f7a761"/>
<path class="ma" d="M199.4 76.3L201.9 83.1M194.5 78.9L199.4 76.3"/>
<path d="M189.7 81l4.8-2.1 2.5 6.8-4.8 2z" color="#f7ad65"/>
<path class="ma" d="M189.7 81L194.5 78.9"/>
<path d="M153.3 70.2l4.9 1.6 2.3 6.7-5-2.1z" color="#f7df88"/>
<path class="ma" d="M158.2 71.8L160.5 78.5M155.5 76.4L160.5 78.5"/>
<path d="M184.9 82.5l4.8-1.5 2.5 6.7-4.9 1.4z" color="#f7b66c"/>
<path class="ma" d="M184.9 82.5L189.7 81"/>
<path d="M226 78.1l4.8 4.4 2.8 1-4.9-2.4z" color="#e3d983"/>
<path class="ma" d="M228.7 81.1L233.6 83.5"/>
<path d="M148.4 69.8l4.9 .4 2.2 6.2-4.9-1.4z" color="#f7d27f"/>
<path class="ma" d="M150.6 75L155.5 76.4"/>
<path d="M180 83.2l4.9-.7 2.4 6.6-4.9 .7z" color="#f7c073"/>
<path class="ma" d="M180 83.2L182.4 89.8M180 83.2L184.9 82.5"/>
<path d="M340.7 151.1l9.3 2 7.5 2.4-9.4-2.3z" color="#e1b96d"/>
<path class="ma" d="M340.7 151.1L350 153.1M348.1 153.2L357.5 155.5"/>
<path class="ma bd" d="M350 153.1L357.5 155.5"/>
<path d="M129.2 92.6l4.7-9 2-1.5-4.9 7.2z" color="#d05d2c"/>
<path class="ma" d="M131 89.3L135.9 82.1"/>
<path d="M143.6 71.6l4.8-1.8 2.2 5.2-4.9 0z" color="#f7b168"/>
<path class="ma" d="M145.7 75L150.6 75"/>
<path d="M175.2 83.1l4.8 .1 2.4 6.6-4.9-.1z" color="#f7cb7b"/>
<path class="ma" d="M180 83.2L182.4 89.8M175.2 83.1L180 83.2"/>
<path d="M221.2 76l4.8 2.1 2.7 3-4.8-.3z" color="#f7cd7c"/>
<path class="ma" d="M221.2 76L223.9 80.8M223.9 80.8L228.7 81.1"/>
<path d="M133.9 83.6l4.8-7.4 2.1 1-4.9 4.9z" color="#dc6834"/>
<path class="ma" d="M138.7 76.2L140.8 77.2M135.9 82.1L140.8 77.2"/>
<path d="M138.7 76.2l4.9-4.6 2.1 3.4-4.9 2.2z" color="#ee8448"/>
<path class="ma" d="M138.7 76.2L140.8 77.2M140.8 77.2L145.7 75"/>
<path d="M170.3 82.2l4.9 .9 2.3 6.6-4.9-.8z" color="#f7d582"/>
<path class="ma" d="M170.3 82.2L175.2 83.1"/>
<path d="M216.4 76.1l4.8-.1 2.7 4.8-4.9 1.3z" color="#f7ba6f"/>
<path class="ma" d="M221.2 76L223.9 80.8M219 82.1L223.9 80.8"/>
<path d="M211.6 77.8l4.8-1.7 2.6 6-4.8 2.3z" color="#f7ac65"/>
<path class="ma" d="M214.2 84.4L219 82.1"/>
<path d="M165.4 80.6l4.9 1.6 2.3 6.7-4.9-1.5z" color="#f7dd87"/>
<path class="ma" d="M165.4 80.6L170.3 82.2"/>
<path d="M206.7 80.4l4.9-2.6 2.6 6.6-4.9 2.8z" color="#f7a560"/>
<path class="ma" d="M209.3 87.2L214.2 84.4"/>
<path d="M72.8 154l9.8-5.3 1.5-1-9.9 5.8z" color="#da7b41"/>
<path class="ma" d="M82.6 148.7L84.1 147.7M72.8 154L82.6 148.7"/>
<path d="M201.9 83.1l4.8-2.7 2.6 6.8-4.9 2.8z" color="#f7a45f"/>
<path class="ma" d="M201.9 83.1L204.4 90M204.4 90L209.3 87.2"/>
<path d="M62.8 158.2l10-4.2 1.4-.5-10 4.7z" color="#df8246"/>
<path class="ma" d="M62.8 158.2L64.2 158.2M62.8 158.2L72.8 154"/>
<path d="M160.5 78.5l4.9 2.1 2.3 6.8-5-2z" color="#f7e28a"/>
<path class="ma" d="M160.5 78.5L162.7 85.4M160.5 78.5L165.4 80.6"/>
<path d="M52.9 161.8l9.9-3.6 1.4 0-10 3.9z" color="#e3894b"/>
<path class="ma" d="M62.8 158.2L64.2 158.2M52.9 161.8L62.8 158.2"/>
<path d="M197 85.7l4.9-2.6 2.5 6.9-4.9 2.4z" color="#f7a862"/>
<path class="ma" d="M201.9 83.1L204.4 90M199.5 92.4L204.4 90"/>
<path d="M42.9 164.8l10-3 1.3 .3-10.1 3.3z" color="#e68e4f"/>
<path class="ma" d="M42.9 164.8L44.1 165.4M42.9 164.8L52.9 161.8"/>
<path d="M32.8 167.5l10.1-2.7 1.2 .6-10.1 2.9z" color="#e79251"/>
<path class="ma" d="M42.9 164.8L44.1 165.4M32.8 167.5L42.9 164.8"/>
<path d="M233.6 83.5l4.8 4.4 2.8 1.2-4.8-2.6z" color="#e2d984"/>
<path class="ma" d="M233.6 83.5L238.4 87.9"/>
<path d="M192.2 87.7l4.8-2 2.5 6.7-4.9 1.9z" color="#f7ae66"/>
<path class="ma" d="M194.6 94.3L199.5 92.4"/>
<path d="M155.5 76.4l5 2.1 2.2 6.9-4.9-2.2z" color="#f7e28b"/>
<path class="ma" d="M160.5 78.5L162.7 85.4M155.5 76.4L160.5 78.5"/>
<path d="M22.7 169.9l10.1-2.4 1.2 .8-10.2 2.6z" color="#e89654"/>
<path class="ma" d="M22.7 169.9L32.8 167.5"/>
<path class="ma bd" d="M22.7 169.9L23.8 170.9"/>
<path d="M187.3 89.1l4.9-1.4 2.4 6.6-4.9 1.3z" color="#f7b66c"/>
<path class="ma" d="M189.7 95.6L194.6 94.3"/>
<path d="M150.6 75l4.9 1.4 2.3 6.8-5-2z" color="#f7dd87"/>
<path class="ma" d="M150.6 75L155.5 76.4"/>
<path d="M182.4 89.8l4.9-.7 2.4 6.5-4.9 .6z" color="#f7c073"/>
<path class="ma" d="M182.4 89.8L184.8 96.2M184.8 96.2L189.7 95.6"/>
<path d="M228.7 81.1l4.9 2.4 2.8 3-4.9-.8z" color="#f6d17e"/>
<path class="ma" d="M228.7 81.1L233.6 83.5"/>
<path d="M177.5 89.7l4.9 .1 2.4 6.4-4.9 0z" color="#f7ca7a"/>
<path class="ma" d="M182.4 89.8L184.8 96.2M179.9 96.2L184.8 96.2"/>
<path d="M121.4 106.3l4.8-8.6 1.9-2.7-4.9 7.8z" color="#cd5b2b"/>
<path class="ma" d="M121.4 106.3L123.2 102.8M121.4 106.3L126.2 97.7"/>
<path d="M145.7 75l4.9 0 2.2 6.2-5-1.2z" color="#f7cd7c"/>
<path class="ma" d="M145.7 75L150.6 75"/>
<path d="M223.9 80.8l4.8 .3 2.8 4.6-4.9 .8z" color="#f7c072"/>
<path class="ma" d="M223.9 80.8L226.6 86.5M223.9 80.8L228.7 81.1"/>
<path d="M126.2 97.7l4.8-8.4 2-1.1-4.9 6.8z" color="#d25f2d"/>
<path class="ma" d="M126.2 97.7L131 89.3"/>
<path d="M140.8 77.2l4.9-2.2 2.1 5-5 .5z" color="#f7aa63"/>
<path class="ma" d="M140.8 77.2L142.8 80.5M140.8 77.2L145.7 75"/>
<path d="M172.6 88.9l4.9 .8 2.4 6.5-4.9-.7z" color="#f7d380"/>
<path class="ma" d="M175 95.5L179.9 96.2"/>
<path d="M131 89.3l4.9-7.2 2 1-4.9 5.1z" color="#dc6935"/>
<path class="ma" d="M131 89.3L135.9 82.1"/>
<path d="M135.9 82.1l4.9-4.9 2 3.3-4.9 2.6z" color="#ec8146"/>
<path class="ma" d="M140.8 77.2L142.8 80.5M135.9 82.1L140.8 77.2"/>
<path d="M219 82.1l4.9-1.3 2.7 5.7-4.9 2z" color="#f7b067"/>
<path class="ma" d="M223.9 80.8L226.6 86.5M219 82.1L223.9 80.8"/>
<path d="M214.2 84.4l4.8-2.3 2.7 6.4-4.9 2.7z" color="#f7a761"/>
<path class="ma" d="M214.2 84.4L219 82.1"/>
<path d="M167.7 87.4l4.9 1.5 2.4 6.6-5-1.3z" color="#f7db85"/>
<path class="ma" d="M170 94.2L175 95.5"/>
<path d="M209.3 87.2l4.9-2.8 2.6 6.8-4.9 2.8z" color="#f7a45f"/>
<path class="ma" d="M209.3 87.2L214.2 84.4"/>
<path d="M204.4 90l4.9-2.8 2.6 6.8-4.9 2.7z" color="#f7a55f"/>
<path class="ma" d="M204.4 90L207 96.7M204.4 90L209.3 87.2"/>
<path d="M241.2 89.1l4.8 4.3 2.9 1.4-4.8-2.8z" color="#cf6e38"/>
<path class="ma" d="M246 93.4L248.9 94.8M244.1 92L248.9 94.8"/>
<path d="M162.7 85.4l5 2 2.3 6.8-5-1.9z" color="#f7e089"/>
<path class="ma" d="M162.7 85.4L165 92.3M165 92.3L170 94.2"/>
<path d="M199.5 92.4l4.9-2.4 2.6 6.7-4.9 2.2z" color="#f7a862"/>
<path class="ma" d="M204.4 90L207 96.7M199.5 92.4L204.4 90"/>
<path d="M194.6 94.3l4.9-1.9 2.6 6.5-4.9 1.8z" color="#f7af67"/>
<path class="ma" d="M194.6 94.3L199.5 92.4"/>
<path d="M157.8 83.2l4.9 2.2 2.3 6.9-5-2.2z" color="#f7e38b"/>
<path class="ma" d="M162.7 85.4L165 92.3M160 90.1L165 92.3"/>
<path d="M74.2 153.5l9.9-5.8 1.5-1-10 6.3z" color="#d9783f"/>
<path class="ma" d="M84.1 147.7L85.6 146.7M75.6 153L85.6 146.7"/>
<path d="M64.2 158.2l10-4.7 1.4-.5-10 5.2z" color="#de8045"/>
<path class="ma" d="M64.2 158.2L65.6 158.2M65.6 158.2L75.6 153"/>
<path d="M236.4 86.5l4.8 2.6 2.9 2.9-4.9-1.2z" color="#f3d380"/>
<path class="ma" d="M239.2 90.8L244.1 92"/>
<path d="M54.2 162.1l10-3.9 1.4 0-10.1 4.2z" color="#e28749"/>
<path class="ma" d="M64.2 158.2L65.6 158.2M55.5 162.4L65.6 158.2"/>
<path d="M189.7 95.6l4.9-1.3 2.6 6.4-5 1.2z" color="#f7b66c"/>
<path class="ma" d="M189.7 95.6L194.6 94.3"/>
<path d="M44.1 165.4l10.1-3.3 1.3 .3-10.2 3.7z" color="#e68c4d"/>
<path class="ma" d="M44.1 165.4L45.3 166.1M45.3 166.1L55.5 162.4"/>
<path d="M34 168.3l10.1-2.9 1.2 .7-10.2 3.1z" color="#e79150"/>
<path class="ma" d="M44.1 165.4L45.3 166.1M35.1 169.2L45.3 166.1"/>
<path d="M184.8 96.2l4.9-.6 2.5 6.3-4.9 .6z" color="#f7bf72"/>
<path class="ma" d="M184.8 96.2L187.3 102.5M184.8 96.2L189.7 95.6"/>
<path d="M152.8 81.2l5 2 2.2 6.9-5-2.2z" color="#f7e28a"/>
<path class="ma" d="M155 87.9L160 90.1"/>
<path d="M23.8 170.9l10.2-2.6 1.1 .9-10.2 2.8z" color="#e89453"/>
<path class="ma" d="M24.9 172L35.1 169.2"/>
<path class="ma bd" d="M23.8 170.9L24.9 172"/>
<path d="M231.5 85.7l4.9 .8 2.8 4.3-4.9 .4z" color="#f7c576"/>
<path class="ma" d="M234.3 91.2L239.2 90.8"/>
<path d="M179.9 96.2l4.9 0 2.5 6.3-5 0z" color="#f7c879"/>
<path class="ma" d="M184.8 96.2L187.3 102.5M179.9 96.2L184.8 96.2"/>
<path d="M147.8 80l5 1.2 2.2 6.7-5-1.8z" color="#f7da85"/>
<path class="ma" d="M150 86.1L155 87.9"/>
<path d="M226.6 86.5l4.9-.8 2.8 5.5-4.9 1.6z" color="#f7b56b"/>
<path class="ma" d="M226.6 86.5L229.4 92.8M229.4 92.8L234.3 91.2"/>
<path d="M348.1 153.2l9.4 2.3 7.9 2.7-9.6-2.5z" color="#e2bc6f"/>
<path class="ma" d="M348.1 153.2L357.5 155.5M355.8 155.7L365.4 158.2"/>
<path class="ma bd" d="M357.5 155.5L365.4 158.2"/>
<path d="M175 95.5l4.9 .7 2.4 6.3-5-.6z" color="#f7d17e"/>
<path class="ma" d="M175 95.5L179.9 96.2"/>
<path d="M118.4 110.8l4.8-8 1.9-1.9-4.9 7.2z" color="#d05e2d"/>
<path class="ma" d="M123.2 102.8L125.1 100.9M120.2 108.1L125.1 100.9"/>
<path d="M221.7 88.5l4.9-2 2.8 6.3-5 2.4z" color="#f7aa63"/>
<path class="ma" d="M226.6 86.5L229.4 92.8M224.4 95.2L229.4 92.8"/>
<path d="M142.8 80.5l5-.5 2.2 6.1-5-.8z" color="#f7c677"/>
<path class="ma" d="M142.8 80.5L145 85.3M145 85.3L150 86.1"/>
<path d="M123.2 102.8l4.9-7.8 1.9-.7-4.9 6.6z" color="#d5622f"/>
<path class="ma" d="M123.2 102.8L125.1 100.9M125.1 100.9L130 94.3"/>
<path d="M216.8 91.2l4.9-2.7 2.7 6.7-4.9 2.7z" color="#f7a45f"/>
<path class="ma" d="M219.5 97.9L224.4 95.2"/>
<path d="M137.9 83.1l4.9-2.6 2.2 4.8-5 1z" color="#f7a25d"/>
<path class="ma" d="M142.8 80.5L145 85.3M140 86.3L145 85.3"/>
<path d="M170 94.2l5 1.3 2.3 6.4-4.9-1.1z" color="#f7d884"/>
<path class="ma" d="M170 94.2L175 95.5"/>
<path d="M248.9 94.8l4.9 4.1 3 1.6-4.9-2.9z" color="#e2d983"/>
<path class="ma" d="M248.9 94.8L251.9 97.6M248.9 94.8L253.8 98.9"/>
<path d="M128.1 95l4.9-6.8 2 1.1-5 5z" color="#de6b36"/>
<path class="ma" d="M130 94.3L135 89.3"/>
<path d="M133 88.2l4.9-5.1 2.1 3.2-5 3z" color="#ec7f44"/>
<path class="ma" d="M135 89.3L140 86.3"/>
<path d="M211.9 94l4.9-2.8 2.7 6.7-4.9 2.8z" color="#f7a35f"/>
<path class="ma" d="M214.6 100.7L219.5 97.9"/>
<path d="M207 96.7l4.9-2.7 2.7 6.7-5 2.5z" color="#f7a560"/>
<path class="ma" d="M207 96.7L209.6 103.2M209.6 103.2L214.6 100.7"/>
<path d="M165 92.3l5 1.9 2.4 6.6-5-1.7z" color="#f7de88"/>
<path class="ma" d="M165 92.3L167.4 99.1M165 92.3L170 94.2"/>
<path d="M202.1 98.9l4.9-2.2 2.6 6.5-4.9 2.1z" color="#f7a963"/>
<path class="ma" d="M207 96.7L209.6 103.2M204.7 105.3L209.6 103.2"/>
<path d="M244.1 92l4.8 2.8 3 2.8-4.9-1.5z" color="#f1d480"/>
<path class="ma" d="M248.9 94.8L251.9 97.6M244.1 92L248.9 94.8"/>
<path d="M197.2 100.7l4.9-1.8 2.6 6.4-5 1.6z" color="#f7af67"/>
<path class="ma" d="M199.7 106.9L204.7 105.3"/>
<path d="M160 90.1l5 2.2 2.4 6.8-5.1-2.1z" color="#f7e28a"/>
<path class="ma" d="M165 92.3L167.4 99.1M160 90.1L165 92.3"/>
<path d="M192.2 101.9l5-1.2 2.5 6.2-5 1.1z" color="#f7b76c"/>
<path class="ma" d="M194.7 108L199.7 106.9"/>
<path d="M239.2 90.8l4.9 1.2 2.9 4.1-4.9-.1z" color="#f7c979"/>
<path class="ma" d="M239.2 90.8L244.1 92"/>
<path d="M155 87.9l5 2.2 2.3 6.9-5-2.3z" color="#f7e38b"/>
<path class="ma" d="M155 87.9L160 90.1"/>
<path d="M187.3 102.5l4.9-.6 2.5 6.1-4.9 .6z" color="#f7be72"/>
<path class="ma" d="M187.3 102.5L189.8 108.6M189.8 108.6L194.7 108"/>
<path d="M65.6 158.2l10-5.2 1.5-.4-10.1 5.6z" color="#de7e43"/>
<path class="ma" d="M65.6 158.2L67 158.2M65.6 158.2L75.6 153"/>
<path d="M75.6 153l10-6.3 1.6-1-10.1 6.9z" color="#d9763e"/>
<path class="ma" d="M85.6 146.7L87.2 145.7M75.6 153L85.6 146.7"/>
<path d="M234.3 91.2l4.9-.4 2.9 5.2-5 1.2z" color="#f7ba6e"/>
<path class="ma" d="M234.3 91.2L239.2 90.8"/>
<path d="M55.5 162.4l10.1-4.2 1.4 0-10.2 4.6z" color="#e28548"/>
<path class="ma" d="M65.6 158.2L67 158.2M55.5 162.4L65.6 158.2"/>
<path d="M45.3 166.1l10.2-3.7 1.3 .4-10.2 3.9z" color="#e58b4c"/>
<path class="ma" d="M45.3 166.1L46.6 166.7M45.3 166.1L55.5 162.4"/>
<path d="M85.6 146.7l10-8.1 1.6-1.5-10 8.6z" color="#d56e38"/>
<path class="ma" d="M85.6 146.7L87.2 145.7M85.6 146.7L95.6 138.6"/>
<path d="M182.3 102.5l5 0 2.5 6.1-5 .1z" color="#f7c777"/>
<path class="ma" d="M187.3 102.5L189.8 108.6M184.8 108.7L189.8 108.6"/>
<path d="M35.1 169.2l10.2-3.1 1.3 .6-10.3 3.5z" color="#e88f50"/>
<path class="ma" d="M45.3 166.1L46.6 166.7M35.1 169.2L45.3 166.1"/>
<path d="M150 86.1l5 1.8 2.3 6.8-5.1-2.1z" color="#f7e089"/>
<path class="ma" d="M150 86.1L155 87.9"/>
<path d="M24.9 172l10.2-2.8 1.2 1-10.3 3z" color="#e99352"/>
<path class="ma" d="M24.9 172L35.1 169.2"/>
<path class="ma bd" d="M24.9 172L26 173.2"/>
<path d="M95.6 138.6l9.9-10.3 1.7-2-10 10.8z" color="#dae189"/>
<path class="ma" d="M105.5 128.3L107.2 126.3M95.6 138.6L105.5 128.3"/>
<path d="M229.4 92.8l4.9-1.6 2.8 6-4.9 2z" color="#f7ae66"/>
<path class="ma" d="M229.4 92.8L232.2 99.2M229.4 92.8L234.3 91.2"/>
<path d="M256.8 100.5l4.8 3.9 3.1 1.7-4.9-2.9z" color="#e3d883"/>
<path class="ma" d="M259.8 103.2L264.7 106.1"/>
<path d="M177.3 101.9l5 .6 2.5 6.2-5-.5z" color="#f7ce7d"/>
<path class="ma" d="M179.8 108.2L184.8 108.7"/>
<path d="M224.4 95.2l5-2.4 2.8 6.4-5 2.6z" color="#f7a661"/>
<path class="ma" d="M229.4 92.8L232.2 99.2M224.4 95.2L229.4 92.8"/>
<path d="M145 85.3l5 .8 2.2 6.5-5-1.4z" color="#f7d582"/>
<path class="ma" d="M145 85.3L147.2 91.2M145 85.3L150 86.1"/>
<path d="M110.4 122.1l4.9-6.8 1.8-1.9-4.9 6.6z" color="#d1612f"/>
<path class="ma" d="M110.4 122.1L115.3 115.3"/>
<path d="M219.5 97.9l4.9-2.7 2.8 6.6-5 2.7z" color="#f7a35f"/>
<path class="ma" d="M219.5 97.9L224.4 95.2"/>
<path d="M172.4 100.8l4.9 1.1 2.5 6.3-5.1-1.1z" color="#f7d582"/>
<path class="ma" d="M174.7 107.1L179.8 108.2"/>
<path d="M115.3 115.3l4.9-7.2 1.9-1.3-5 6.6z" color="#d3612f"/>
<path class="ma" d="M115.3 115.3L120.2 108.1"/>
<path d="M140 86.3l5-1 2.2 5.9-5.1-.3z" color="#f7be71"/>
<path class="ma" d="M145 85.3L147.2 91.2M140 86.3L145 85.3"/>
<path d="M214.6 100.7l4.9-2.8 2.7 6.6-4.9 2.6z" color="#f7a45f"/>
<path class="ma" d="M214.6 100.7L219.5 97.9"/>
<path d="M251.9 97.6l4.9 2.9 3 2.7-4.9-1.7z" color="#efd581"/>
<path class="ma" d="M251.9 97.6L254.9 101.5M254.9 101.5L259.8 103.2"/>
<path d="M120.2 108.1l4.9-7.2 1.9-.3-4.9 6.2z" color="#d76531"/>
<path class="ma" d="M125.1 100.9L127 100.6M120.2 108.1L125.1 100.9"/>
<path d="M135 89.3l5-3 2.1 4.6-5 1.4z" color="#f79c59"/>
<path class="ma" d="M135 89.3L140 86.3"/>
<path d="M209.6 103.2l5-2.5 2.7 6.4-5 2.3z" color="#f7a661"/>
<path class="ma" d="M209.6 103.2L212.3 109.4M209.6 103.2L214.6 100.7"/>
<path d="M125.1 100.9l4.9-6.6 2 1.3-5 5z" color="#e06d37"/>
<path class="ma" d="M125.1 100.9L127 100.6M125.1 100.9L130 94.3"/>
<path d="M130 94.3l5-5 2.1 3-5.1 3.3z" color="#eb7e43"/>
<path class="ma" d="M130 94.3L135 89.3"/>
<path d="M167.4 99.1l5 1.7 2.3 6.3-5-1.5z" color="#f7db86"/>
<path class="ma" d="M167.4 99.1L169.7 105.6M169.7 105.6L174.7 107.1"/>
<path d="M204.7 105.3l4.9-2.1 2.7 6.2-5 2z" color="#f7aa64"/>
<path class="ma" d="M209.6 103.2L212.3 109.4M204.7 105.3L209.6 103.2"/>
<path d="M247 96.1l4.9 1.5 3 3.9-5-.5z" color="#f7cc7b"/>
<path class="ma" d="M251.9 97.6L254.9 101.5M249.9 101L254.9 101.5"/>
<path d="M199.7 106.9l5-1.6 2.6 6.1-5 1.5z" color="#f7b067"/>
<path class="ma" d="M199.7 106.9L204.7 105.3"/>
<path d="M162.3 97l5.1 2.1 2.3 6.5-5-1.9z" color="#f7e089"/>
<path class="ma" d="M167.4 99.1L169.7 105.6M164.7 103.7L169.7 105.6"/>
<path d="M194.7 108l5-1.1 2.6 6-5 1.1z" color="#f7b76c"/>
<path class="ma" d="M194.7 108L199.7 106.9"/>
<path d="M242.1 96l4.9 .1 2.9 4.9-4.9 .7z" color="#f7bf72"/>
<path class="ma" d="M245 101.7L249.9 101"/>
<path d="M157.3 94.7l5 2.3 2.4 6.7-5.1-2.1z" color="#f7e28a"/>
<path class="ma" d="M159.6 101.6L164.7 103.7"/>
<path d="M189.8 108.6l4.9-.6 2.6 6-5 .5z" color="#f7be71"/>
<path class="ma" d="M189.8 108.6L192.3 114.5M189.8 108.6L194.7 108"/>
<path d="M237.1 97.2l5-1.2 2.9 5.7-5 1.7z" color="#f7b269"/>
<path class="ma" d="M240 103.4L245 101.7"/>
<path d="M184.8 108.7l5-.1 2.5 5.9-5 .1z" color="#f7c576"/>
<path class="ma" d="M189.8 108.6L192.3 114.5M184.8 108.7L189.8 108.6"/>
<path d="M152.2 92.6l5.1 2.1 2.3 6.9-5.1-2.2z" color="#f7e18a"/>
<path class="ma" d="M154.5 99.4L159.6 101.6"/>
<path d="M232.2 99.2l4.9-2 2.9 6.2-5 2.3z" color="#f7a963"/>
<path class="ma" d="M232.2 99.2L235 105.7M235 105.7L240 103.4"/>
<path d="M67 158.2l10.1-5.6 1.6-.3-10.2 6z" color="#de7d42"/>
<path class="ma" d="M67 158.2L68.5 158.3M68.5 158.3L78.7 152.3"/>
<path d="M56.8 162.8l10.2-4.6 1.5 .1-10.3 5z" color="#e28447"/>
<path class="ma" d="M67 158.2L68.5 158.3M58.2 163.3L68.5 158.3"/>
<path d="M179.8 108.2l5 .5 2.5 5.9-5.1-.4z" color="#f7cc7b"/>
<path class="ma" d="M179.8 108.2L184.8 108.7"/>
<path d="M227.2 101.8l5-2.6 2.8 6.5-5 2.6z" color="#f7a560"/>
<path class="ma" d="M232.2 99.2L235 105.7M230 108.3L235 105.7"/>
<path d="M77.1 152.6l10.1-6.9 1.6-.8-10.1 7.4z" color="#da753d"/>
<path class="ma" d="M87.2 145.7L88.8 144.9M78.7 152.3L88.8 144.9"/>
<path d="M46.6 166.7l10.2-3.9 1.4 .5-10.3 4.2z" color="#e5894b"/>
<path class="ma" d="M46.6 166.7L47.9 167.5M47.9 167.5L58.2 163.3"/>
<path d="M36.3 170.2l10.3-3.5 1.3 .8-10.4 3.7z" color="#e88e4f"/>
<path class="ma" d="M46.6 166.7L47.9 167.5M37.5 171.2L47.9 167.5"/>
<path d="M87.2 145.7l10-8.6 1.7-1.3-10.1 9.1z" color="#d66d37"/>
<path class="ma" d="M87.2 145.7L88.8 144.9M88.8 144.9L98.9 135.8"/>
<path d="M147.2 91.2l5 1.4 2.3 6.8-5.1-1.8z" color="#f7dc86"/>
<path class="ma" d="M147.2 91.2L149.4 97.6M149.4 97.6L154.5 99.4"/>
<path d="M26 173.2l10.3-3 1.2 1-10.4 3.2z" color="#e99252"/>
<path class="ma" d="M27.1 174.4L37.5 171.2"/>
<path class="ma bd" d="M26 173.2L27.1 174.4"/>
<path d="M222.2 104.5l5-2.7 2.8 6.5-5 2.6z" color="#f7a35e"/>
<path class="ma" d="M225 110.9L230 108.3"/>
<path d="M355.8 155.7l9.6 2.5 8 3.1-9.7-2.7z" color="#e2be70"/>
<path class="ma" d="M355.8 155.7L365.4 158.2M363.7 158.6L373.4 161.3"/>
<path class="ma bd" d="M365.4 158.2L373.4 161.3"/>
<path d="M97.2 137.1l10-10.8 1.7-1.4-10 10.9z" color="#d46733"/>
<path class="ma" d="M107.2 126.3L108.9 124.9M98.9 135.8L108.9 124.9"/>
<path d="M174.7 107.1l5.1 1.1 2.4 6-5-.9z" color="#f7d380"/>
<path class="ma" d="M174.7 107.1L179.8 108.2"/>
<path d="M217.3 107.1l4.9-2.6 2.8 6.4-5 2.4z" color="#f7a45f"/>
<path class="ma" d="M220 113.3L225 110.9"/>
<path d="M142.1 90.9l5.1 .3 2.2 6.4-5.1-1z" color="#f7cf7d"/>
<path class="ma" d="M147.2 91.2L149.4 97.6M144.3 96.6L149.4 97.6"/>
<path d="M107.2 126.3l5-6.3 1.8-1.2-5.1 6.1z" color="#d46531"/>
<path class="ma" d="M107.2 126.3L108.9 124.9M108.9 124.9L114 118.8"/>
<path d="M212.3 109.4l5-2.3 2.7 6.2-5 2.2z" color="#f7a761"/>
<path class="ma" d="M212.3 109.4L215 115.5M215 115.5L220 113.3"/>
<path d="M112.2 120l4.9-6.6 1.9-.7-5 6.1z" color="#d66532"/>
<path class="ma" d="M114 118.8L119 112.7"/>
<path d="M169.7 105.6l5 1.5 2.5 6.2-5.1-1.3z" color="#f7d884"/>
<path class="ma" d="M169.7 105.6L172.1 112M169.7 105.6L174.7 107.1"/>
<path d="M264.7 106.1l4.8 3.7 6.4 4.6-4.9-2z" color="#e8d681"/>
<path class="ma" d="M264.7 106.1L269.5 109.8M271 112.4L275.9 114.4"/>
<path d="M137.1 92.3l5-1.4 2.2 5.7-5.1 .2z" color="#f7b66b"/>
<path class="ma" d="M139.2 96.8L144.3 96.6"/>
<path d="M207.3 111.4l5-2 2.7 6.1-5.1 1.8z" color="#f7ab64"/>
<path class="ma" d="M212.3 109.4L215 115.5M209.9 117.3L215 115.5"/>
<path d="M117.1 113.4l5-6.6 1.9 .1-5 5.8z" color="#da6834"/>
<path class="ma" d="M119 112.7L124 106.9"/>
<path d="M132 95.6l5.1-3.3 2.1 4.5-5.1 1.8z" color="#f59655"/>
<path class="ma" d="M134.1 98.6L139.2 96.8"/>
<path d="M122.1 106.8l4.9-6.2 2 1.5-5 4.8z" color="#e26f39"/>
<path class="ma" d="M127 100.6L129 102.1M124 106.9L129 102.1"/>
<path d="M127 100.6l5-5 2.1 3-5.1 3.5z" color="#eb7d43"/>
<path class="ma" d="M127 100.6L129 102.1M129 102.1L134.1 98.6"/>
<path d="M202.3 112.9l5-1.5 2.6 5.9-5 1.4z" color="#f7b068"/>
<path class="ma" d="M204.9 118.7L209.9 117.3"/>
<path d="M164.7 103.7l5 1.9 2.4 6.4-5.1-1.7z" color="#f7dd87"/>
<path class="ma" d="M169.7 105.6L172.1 112M164.7 103.7L169.7 105.6"/>
<path d="M259.8 103.2l4.9 2.9 6.3 6.3-5-1z" color="#f2d27f"/>
<path class="ma" d="M259.8 103.2L264.7 106.1M266 111.4L271 112.4"/>
<path d="M197.3 114l5-1.1 2.6 5.8-5 1z" color="#f7b66c"/>
<path class="ma" d="M199.9 119.7L204.9 118.7"/>
<path d="M346.2 152.6l9.6 3.1 7.9 2.9-9.7-3.2z" color="#e1c072"/>
<path class="ma" d="M346.2 152.6L354 155.4M346.2 152.6L355.8 155.7M354 155.4L363.7 158.6"/>
<path d="M159.6 101.6l5.1 2.1 2.3 6.6-5.1-2z" color="#f7e089"/>
<path class="ma" d="M159.6 101.6L164.7 103.7"/>
<path d="M192.3 114.5l5-.5 2.6 5.7-5.1 .6z" color="#f7bd70"/>
<path class="ma" d="M192.3 114.5L194.8 120.3M194.8 120.3L199.9 119.7"/>
<path d="M254.9 101.5l4.9 1.7 6.2 8.2-5-.1z" color="#f7cb7a"/>
<path class="ma" d="M254.9 101.5L261 111.3M254.9 101.5L259.8 103.2M261 111.3L266 111.4"/>
<path d="M187.3 114.6l5-.1 2.5 5.8-5 .1z" color="#f7c375"/>
<path class="ma" d="M192.3 114.5L194.8 120.3M189.8 120.4L194.8 120.3"/>
<path d="M154.5 99.4l5.1 2.2 2.3 6.7-5.1-2.1z" color="#f7e18a"/>
<path class="ma" d="M154.5 99.4L159.6 101.6"/>
<path d="M249.9 101l5 .5 6.1 9.8-5.1 .8z" color="#f7c072"/>
<path class="ma" d="M254.9 101.5L261 111.3M249.9 101L254.9 101.5M255.9 112.1L261 111.3"/>
<path d="M182.2 114.2l5.1 .4 2.5 5.8-5.1-.3z" color="#f7ca7a"/>
<path class="ma" d="M184.7 120.1L189.8 120.4"/>
<path d="M149.4 97.6l5.1 1.8 2.3 6.8-5.1-2z" color="#f7de88"/>
<path class="ma" d="M149.4 97.6L151.7 104.2M149.4 97.6L154.5 99.4"/>
<path d="M245 101.7l4.9-.7 6 11.1-5 1.6z" color="#f7b46b"/>
<path class="ma" d="M245 101.7L249.9 101M250.9 113.7L255.9 112.1"/>
<path d="M177.2 113.3l5 .9 2.5 5.9-5.1-.8z" color="#f7d07e"/>
<path class="ma" d="M179.6 119.3L184.7 120.1"/>
<path d="M58.2 163.3l10.3-5 1.4 .2-10.3 5.3z" color="#e28246"/>
<path class="ma" d="M68.5 158.3L69.9 158.5M58.2 163.3L68.5 158.3"/>
<path d="M68.5 158.3l10.2-6 1.5-.2-10.3 6.4z" color="#df7c42"/>
<path class="ma" d="M68.5 158.3L69.9 158.5M68.5 158.3L78.7 152.3"/>
<path d="M47.9 167.5l10.3-4.2 1.4 .5-10.4 4.5z" color="#e6884a"/>
<path class="ma" d="M47.9 167.5L49.2 168.3M47.9 167.5L58.2 163.3"/>
<path d="M78.7 152.3l10.1-7.4 1.6-.5-10.2 7.7z" color="#db743c"/>
<path class="ma" d="M88.8 144.9L90.4 144.4M78.7 152.3L88.8 144.9"/>
<path d="M37.5 171.2l10.4-3.7 1.3 .8-10.4 3.9z" color="#e88d4e"/>
<path class="ma" d="M47.9 167.5L49.2 168.3M37.5 171.2L47.9 167.5"/>
<path d="M144.3 96.6l5.1 1 2.3 6.6-5.2-1.5z" color="#f7d783"/>
<path class="ma" d="M149.4 97.6L151.7 104.2M144.3 96.6L149.4 97.6"/>
<path d="M27.1 174.4l10.4-3.2 1.3 1-10.5 3.5z" color="#ea9151"/>
<path class="ma" d="M27.1 174.4L37.5 171.2"/>
<path class="ma bd" d="M27.1 174.4L28.3 175.7"/>
<path d="M240 103.4l5-1.7 5.9 12-5.1 2.1z" color="#f7ac64"/>
<path class="ma" d="M240 103.4L245 101.7M245.8 115.8L250.9 113.7"/>
<path d="M88.8 144.9l10.1-9.1 1.7-.8-10.2 9.4z" color="#d86e38"/>
<path class="ma" d="M88.8 144.9L90.4 144.4M88.8 144.9L98.9 135.8"/>
<path d="M172.1 112l5.1 1.3 2.4 6-5.1-1.2z" color="#f7d582"/>
<path class="ma" d="M172.1 112L174.5 118.1M174.5 118.1L179.6 119.3"/>
<path d="M98.9 135.8l10-10.9 1.9-.6-10.2 10.7z" color="#d86935"/>
<path class="ma" d="M108.9 124.9L110.8 124.3M98.9 135.8L108.9 124.9"/>
<path d="M139.2 96.8l5.1-.2 2.2 6.1-5.1-.5z" color="#f7c778"/>
<path class="ma" d="M139.2 96.8L144.3 96.6"/>
<path d="M235 105.7l5-2.3 5.8 12.4-5 2.4z" color="#f7a661"/>
<path class="ma" d="M235 105.7L240.8 118.2M235 105.7L240 103.4M240.8 118.2L245.8 115.8"/>
<path d="M108.9 124.9l5.1-6.1 1.8-.2-5 5.7z" color="#d96935"/>
<path class="ma" d="M108.9 124.9L110.8 124.3M108.9 124.9L114 118.8"/>
<path d="M230 108.3l5-2.6 5.8 12.5-5.1 2.5z" color="#f7a45f"/>
<path class="ma" d="M235 105.7L240.8 118.2M230 108.3L235 105.7M235.7 120.7L240.8 118.2"/>
<path d="M134.1 98.6l5.1-1.8 2.2 5.4-5.2 .7z" color="#f7ae66"/>
<path class="ma" d="M134.1 98.6L139.2 96.8"/>
<path d="M167 110.3l5.1 1.7 2.4 6.1-5.1-1.5z" color="#f7da85"/>
<path class="ma" d="M172.1 112L174.5 118.1M169.4 116.6L174.5 118.1"/>
<path d="M114 118.8l5-6.1 1.9 .6-5.1 5.3z" color="#dd6c36"/>
<path class="ma" d="M114 118.8L119 112.7"/>
<path d="M129 102.1l5.1-3.5 2.1 4.3-5.1 2.1z" color="#f39252"/>
<path class="ma" d="M129 102.1L131.1 105M129 102.1L134.1 98.6"/>
<path d="M119 112.7l5-5.8 2 1.7-5.1 4.7z" color="#e4723b"/>
<path class="ma" d="M119 112.7L124 106.9"/>
<path d="M124 106.9l5-4.8 2.1 2.9-5.1 3.6z" color="#eb7e44"/>
<path class="ma" d="M129 102.1L131.1 105M124 106.9L129 102.1"/>
<path d="M225 110.9l5-2.6 5.7 12.4-5.1 2.3z" color="#f7a45f"/>
<path class="ma" d="M225 110.9L230 108.3M230.6 123L235.7 120.7"/>
<path d="M220 113.3l5-2.4 5.6 12.1-5 2.2z" color="#f7a560"/>
<path class="ma" d="M220 113.3L225 110.9M225.6 125.2L230.6 123"/>
<path d="M161.9 108.3l5.1 2 2.4 6.3-5.1-1.8z" color="#f7dd87"/>
<path class="ma" d="M164.3 114.8L169.4 116.6"/>
<path d="M215 115.5l5-2.2 5.6 11.9-5.1 1.9z" color="#f7a862"/>
<path class="ma" d="M215 115.5L220.5 127.1M215 115.5L220 113.3M220.5 127.1L225.6 125.2"/>
<path d="M280.8 117.2l9.8 6.7 6.8 3.8-9.9-4.6z" color="#e5d380"/>
<path class="ma" d="M280.8 117.2L287.5 123.1M280.8 117.2L290.6 123.9M287.5 123.1L297.4 127.7"/>
<path d="M209.9 117.3l5.1-1.8 5.5 11.6-5.1 1.6z" color="#f7ac65"/>
<path class="ma" d="M215 115.5L220.5 127.1M209.9 117.3L215 115.5M215.4 128.7L220.5 127.1"/>
<path d="M156.8 106.2l5.1 2.1 2.4 6.5-5.2-2z" color="#f7df88"/>
<path class="ma" d="M159.1 112.8L164.3 114.8"/>
<path d="M204.9 118.7l5-1.4 5.5 11.4-5.1 1.2z" color="#f7b168"/>
<path class="ma" d="M204.9 118.7L209.9 117.3M210.3 129.9L215.4 128.7"/>
<path d="M151.7 104.2l5.1 2 2.3 6.6-5.2-2z" color="#f7de88"/>
<path class="ma" d="M151.7 104.2L153.9 110.8M153.9 110.8L159.1 112.8"/>
<path d="M199.9 119.7l5-1 5.4 11.2-5.1 .9z" color="#f7b66c"/>
<path class="ma" d="M199.9 119.7L204.9 118.7M205.2 130.8L210.3 129.9"/>
<path d="M275.9 114.4l4.9 2.8 6.7 5.9-5.1-1.4z" color="#eed17e"/>
<path class="ma" d="M280.8 117.2L287.5 123.1M275.9 114.4L280.8 117.2M282.4 121.7L287.5 123.1"/>
<path d="M194.8 120.3l5.1-.6 5.3 11.1-5.1 .5z" color="#f7bc6f"/>
<path class="ma" d="M194.8 120.3L200.1 131.3M194.8 120.3L199.9 119.7M200.1 131.3L205.2 130.8"/>
<path d="M146.5 102.7l5.2 1.5 2.2 6.6-5.1-1.7z" color="#f7da85"/>
<path class="ma" d="M151.7 104.2L153.9 110.8M148.8 109.1L153.9 110.8"/>
<path d="M363.7 158.6l9.7 2.7 8.4 3.4-9.9-2.8z" color="#e3bf71"/>
<path class="ma" d="M363.7 158.6L373.4 161.3M371.9 161.9L381.8 164.7"/>
<path class="ma bd" d="M373.4 161.3L381.8 164.7"/>
<path d="M189.8 120.4l5-.1 5.3 11-5.2 .2z" color="#f7c173"/>
<path class="ma" d="M194.8 120.3L200.1 131.3M189.8 120.4L194.8 120.3M194.9 131.5L200.1 131.3"/>
<path d="M59.6 163.8l10.3-5.3 1.5 .3-10.4 5.6z" color="#e38146"/>
<path class="ma" d="M69.9 158.5L71.4 158.8M61 164.4L71.4 158.8"/>
<path d="M49.2 168.3l10.4-4.5 1.4 .6-10.5 4.8z" color="#e6874a"/>
<path class="ma" d="M49.2 168.3L50.5 169.2M50.5 169.2L61 164.4"/>
<path d="M69.9 158.5l10.3-6.4 1.6 0-10.4 6.7z" color="#e07b41"/>
<path class="ma" d="M69.9 158.5L71.4 158.8M71.4 158.8L81.8 152.1"/>
<path d="M141.4 102.2l5.1 .5 2.3 6.4-5.2-1z" color="#f7d17e"/>
<path class="ma" d="M143.6 108.1L148.8 109.1"/>
<path d="M38.8 172.2l10.4-3.9 1.3 .9-10.5 4.2z" color="#e98c4d"/>
<path class="ma" d="M49.2 168.3L50.5 169.2M40 173.4L50.5 169.2"/>
<path d="M80.2 152.1l10.2-7.7 1.7-.2-10.3 7.9z" color="#dd753d"/>
<path class="ma" d="M90.4 144.4L92.1 144.2M81.8 152.1L92.1 144.2"/>
<path d="M28.3 175.7l10.5-3.5 1.2 1.2-10.5 3.6z" color="#eb9050"/>
<path class="ma" d="M29.5 177L40 173.4"/>
<path class="ma bd" d="M28.3 175.7L29.5 177"/>
<path d="M271 112.4l4.9 2 6.5 7.3-5-.6z" color="#f7cd7b"/>
<path class="ma" d="M271 112.4L275.9 114.4M277.4 121.1L282.4 121.7"/>
<path d="M90.4 144.4l10.2-9.4 1.8-.2-10.3 9.4z" color="#db6f39"/>
<path class="ma" d="M90.4 144.4L92.1 144.2M92.1 144.2L102.4 134.8"/>
<path d="M184.7 120.1l5.1 .3 5.1 11.1-5.1-.2z" color="#f7c777"/>
<path class="ma" d="M184.7 120.1L189.8 120.4M189.8 131.3L194.9 131.5"/>
<path d="M136.2 102.9l5.2-.7 2.2 5.9-5.2-.1z" color="#f7bf72"/>
<path class="ma" d="M138.4 108L143.6 108.1"/>
<path d="M100.6 135l10.2-10.7 1.8 .3-10.2 10.2z" color="#dc6d37"/>
<path class="ma" d="M110.8 124.3L112.6 124.6M102.4 134.8L112.6 124.6"/>
<path d="M131.1 105l5.1-2.1 2.2 5.1-5.2 1.1z" color="#f7a761"/>
<path class="ma" d="M131.1 105L133.2 109.1M133.2 109.1L138.4 108"/>
<path d="M110.8 124.3l5-5.7 2 1-5.2 5z" color="#e06f39"/>
<path class="ma" d="M110.8 124.3L112.6 124.6M112.6 124.6L117.8 119.6"/>
<path d="M266 111.4l5 1 6.4 8.7-5.1 .1z" color="#f7c576"/>
<path class="ma" d="M266 111.4L271 112.4M272.3 121.2L277.4 121.1"/>
<path d="M126 108.6l5.1-3.6 2.1 4.1-5.2 2.4z" color="#f29050"/>
<path class="ma" d="M131.1 105L133.2 109.1M128 111.5L133.2 109.1"/>
<path d="M115.8 118.6l5.1-5.3 2 1.8-5.1 4.5z" color="#e6753d"/>
<path class="ma" d="M117.8 119.6L122.9 115.1"/>
<path d="M179.6 119.3l5.1 .8 5.1 11.2-5.2-.6z" color="#f7cc7b"/>
<path class="ma" d="M179.6 119.3L184.7 120.1M184.6 130.7L189.8 131.3"/>
<path d="M120.9 113.3l5.1-4.7 2 2.9-5.1 3.6z" color="#ec7f44"/>
<path class="ma" d="M122.9 115.1L128 111.5"/>
<path d="M354 155.4l9.7 3.2 8.2 3.3-9.9-3.2z" color="#e2c273"/>
<path class="ma" d="M354 155.4L362 158.7M354 155.4L363.7 158.6M362 158.7L371.9 161.9"/>
<path d="M261 111.3l5 .1 6.3 9.8-5.1 .9z" color="#f7bc70"/>
<path class="ma" d="M261 111.3L267.2 122.1M261 111.3L266 111.4M267.2 122.1L272.3 121.2"/>
<path d="M174.5 118.1l5.1 1.2 5 11.4-5.1-.9z" color="#f7d17f"/>
<path class="ma" d="M174.5 118.1L179.5 129.8M174.5 118.1L179.6 119.3M179.5 129.8L184.6 130.7"/>
<path d="M307.3 133.4l9.8 5.8 7.3 3.2-9.9-4.8z" color="#d57940"/>
<path class="ma" d="M307.3 133.4L314.5 137.6M307.3 133.4L317.1 139.2M314.5 137.6L324.4 142.4"/>
<path d="M255.9 112.1l5.1-.8 6.2 10.8-5.1 1.5z" color="#f7b369"/>
<path class="ma" d="M261 111.3L267.2 122.1M255.9 112.1L261 111.3M262.1 123.6L267.2 122.1"/>
<path d="M169.4 116.6l5.1 1.5 5 11.7-5.2-1.2z" color="#f7d682"/>
<path class="ma" d="M174.5 118.1L179.5 129.8M169.4 116.6L174.5 118.1M174.3 128.6L179.5 129.8"/>
<path d="M250.9 113.7l5-1.6 6.2 11.5-5.1 1.9z" color="#f7ac64"/>
<path class="ma" d="M250.9 113.7L255.9 112.1M257 125.5L262.1 123.6"/>
<path d="M164.3 114.8l5.1 1.8 4.9 12-5.2-1.5z" color="#f7d984"/>
<path class="ma" d="M164.3 114.8L169.4 116.6M169.1 127.1L174.3 128.6"/>
<path d="M245.8 115.8l5.1-2.1 6.1 11.8-5.1 2.2z" color="#f7a761"/>
<path class="ma" d="M245.8 115.8L250.9 113.7M251.9 127.7L257 125.5"/>
<path d="M344.2 151.6l9.8 3.8 8 3.3-9.9-3.7z" color="#e2c575"/>
<path class="ma" d="M354 155.4L362 158.7M344.2 151.6L354 155.4M352.1 155L362 158.7"/>
<path d="M240.8 118.2l5-2.4 6.1 11.9-5.1 2.3z" color="#f7a45f"/>
<path class="ma" d="M240.8 118.2L246.8 130M240.8 118.2L245.8 115.8M246.8 130L251.9 127.7"/>
<path d="M159.1 112.8l5.2 2 4.8 12.3-5.2-1.7z" color="#f7dc86"/>
<path class="ma" d="M159.1 112.8L164.3 114.8M163.9 125.4L169.1 127.1"/>
<path d="M297.4 127.7l9.9 5.7 7.2 4.2-10.1-4.2z" color="#e6d07d"/>
<path class="ma" d="M307.3 133.4L314.5 137.6M297.4 127.7L307.3 133.4M304.4 133.4L314.5 137.6"/>
<path d="M235.7 120.7l5.1-2.5 6 11.8-5.2 2.2z" color="#f7a45f"/>
<path class="ma" d="M240.8 118.2L246.8 130M235.7 120.7L240.8 118.2M241.6 132.2L246.8 130"/>
<path d="M230.6 123l5.1-2.3 5.9 11.5-5.1 2.2z" color="#f7a45f"/>
<path class="ma" d="M230.6 123L235.7 120.7M236.5 134.4L241.6 132.2"/>
<path d="M153.9 110.8l5.2 2 4.8 12.6-5.3-1.8z" color="#f7dc86"/>
<path class="ma" d="M153.9 110.8L158.6 123.6M153.9 110.8L159.1 112.8M158.6 123.6L163.9 125.4"/>
<path d="M225.6 125.2l5-2.2 5.9 11.4-5.2 1.9z" color="#f7a660"/>
<path class="ma" d="M225.6 125.2L230.6 123M231.3 136.3L236.5 134.4"/>
<path d="M148.8 109.1l5.1 1.7 4.7 12.8-5.2-1.7z" color="#f7db85"/>
<path class="ma" d="M153.9 110.8L158.6 123.6M148.8 109.1L153.9 110.8M153.4 121.9L158.6 123.6"/>
<path d="M220.5 127.1l5.1-1.9 5.7 11.1-5.1 1.7z" color="#f7a963"/>
<path class="ma" d="M220.5 127.1L226.2 138M220.5 127.1L225.6 125.2M226.2 138L231.3 136.3"/>
<path d="M215.4 128.7l5.1-1.6 5.7 10.9-5.2 1.4z" color="#f7ad65"/>
<path class="ma" d="M220.5 127.1L226.2 138M215.4 128.7L220.5 127.1M221 139.4L226.2 138"/>
<path d="M143.6 108.1l5.2 1 4.6 12.8-5.3-1.5z" color="#f7d682"/>
<path class="ma" d="M143.6 108.1L148.8 109.1M148.1 120.4L153.4 121.9"/>
<path d="M334.3 147.2l9.9 4.4 7.9 3.4-10-4z" color="#e2c877"/>
<path class="ma" d="M334.3 147.2L342.1 151M334.3 147.2L344.2 151.6M342.1 151L352.1 155"/>
<path d="M287.5 123.1l9.9 4.6 7 5.7-10.1-2.5z" color="#efcd7c"/>
<path class="ma" d="M287.5 123.1L294.3 130.9M287.5 123.1L297.4 127.7M294.3 130.9L304.4 133.4"/>
<path d="M210.3 129.9l5.1-1.2 5.6 10.7-5.2 1.2z" color="#f7b168"/>
<path class="ma" d="M210.3 129.9L215.4 128.7M215.8 140.6L221 139.4"/>
<path d="M138.4 108l5.2 .1 4.5 12.3-5.3-1z" color="#f7cc7b"/>
<path class="ma" d="M138.4 108L143.6 108.1M142.8 119.4L148.1 120.4"/>
<path d="M205.2 130.8l5.1-.9 5.5 10.7-5.2 .8z" color="#f7b56b"/>
<path class="ma" d="M205.2 130.8L210.3 129.9M210.6 141.4L215.8 140.6"/>
<path d="M50.5 169.2l10.5-4.8 2.9 1.8-10.6 5.2z" color="#e78649"/>
<path class="ma" d="M50.5 169.2L53.3 171.4M50.5 169.2L61 164.4M53.3 171.4L63.9 166.2"/>
<path d="M61 164.4l10.4-5.6 3.1 1.3-10.6 6.1z" color="#e48146"/>
<path class="ma" d="M71.4 158.8L74.5 160.1M61 164.4L71.4 158.8M63.9 166.2L74.5 160.1"/>
<path d="M40 173.4l10.5-4.2 2.8 2.2-10.7 4.6z" color="#e98b4d"/>
<path class="ma" d="M50.5 169.2L53.3 171.4M40 173.4L50.5 169.2M42.6 176L53.3 171.4"/>
<path d="M71.4 158.8l10.4-6.7 3.3 1-10.6 7z" color="#e27b42"/>
<path class="ma" d="M71.4 158.8L74.5 160.1M71.4 158.8L81.8 152.1M74.5 160.1L85.1 153.1"/>
<path d="M133.2 109.1l5.2-1.1 4.4 11.4-5.2-.2z" color="#f7bc70"/>
<path class="ma" d="M133.2 109.1L137.6 119.2M133.2 109.1L138.4 108M137.6 119.2L142.8 119.4"/>
<path d="M29.5 177l10.5-3.6 2.6 2.6-10.7 4z" color="#eb8f50"/>
<path class="ma" d="M29.5 177L40 173.4M31.9 180L42.6 176"/>
<path class="ma bd" d="M29.5 177L31.9 180"/>
<path d="M81.8 152.1l10.3-7.9 3.5 .9-10.5 8z" color="#e0773e"/>
<path class="ma" d="M92.1 144.2L95.6 145.1M81.8 152.1L92.1 144.2M85.1 153.1L95.6 145.1"/>
<path d="M200.1 131.3l5.1-.5 5.4 10.6-5.1 .5z" color="#f7ba6e"/>
<path class="ma" d="M200.1 131.3L205.5 141.9M200.1 131.3L205.2 130.8M205.5 141.9L210.6 141.4"/>
<path d="M92.1 144.2l10.3-9.4 3.6 1.6-10.4 8.7z" color="#e0743c"/>
<path class="ma" d="M92.1 144.2L95.6 145.1M92.1 144.2L102.4 134.8M95.6 145.1L106 136.4"/>
<path d="M128 111.5l5.2-2.4 4.4 10.1-5.3 .8z" color="#f7a861"/>
<path class="ma" d="M133.2 109.1L137.6 119.2M128 111.5L133.2 109.1M132.3 120L137.6 119.2"/>
<path d="M282.4 121.7l5.1 1.4 6.8 7.8-5.1-.4z" color="#f7c777"/>
<path class="ma" d="M287.5 123.1L294.3 130.9M282.4 121.7L287.5 123.1M289.2 130.5L294.3 130.9"/>
<path d="M102.4 134.8l10.2-10.2 3.9 3.4-10.5 8.4z" color="#e5753e"/>
<path class="ma" d="M112.6 124.6L116.5 128M102.4 134.8L112.6 124.6M106 136.4L116.5 128"/>
<path d="M122.9 115.1l5.1-3.6 4.3 8.5-5.3 1.8z" color="#f49554"/>
<path class="ma" d="M122.9 115.1L128 111.5M127 121.8L132.3 120"/>
<path d="M117.8 119.6l5.1-4.5 4.1 6.7-5.2 2.7z" color="#ee8649"/>
<path class="ma" d="M117.8 119.6L122.9 115.1M121.8 124.5L127 121.8"/>
<path d="M112.6 124.6l5.2-5 4 4.9-5.3 3.5z" color="#eb7c42"/>
<path class="ma" d="M112.6 124.6L116.5 128M112.6 124.6L117.8 119.6M116.5 128L121.8 124.5"/>
<path d="M371.9 161.9l9.9 2.8 8.6 3.8-10-2.7z" color="#e4c072"/>
<path class="ma" d="M371.9 161.9L381.8 164.7M380.4 165.8L390.4 168.5"/>
<path class="ma bd" d="M381.8 164.7L390.4 168.5"/>
<path d="M194.9 131.5l5.2-.2 5.4 10.6-5.2 .2z" color="#f7bf72"/>
<path class="ma" d="M200.1 131.3L205.5 141.9M194.9 131.5L200.1 131.3M200.3 142.1L205.5 141.9"/>
<path d="M324.4 142.4l9.9 4.8 7.8 3.8-10.1-4.1z" color="#e3cb79"/>
<path class="ma" d="M334.3 147.2L342.1 151M324.4 142.4L334.3 147.2M332 146.9L342.1 151"/>
<path d="M277.4 121.1l5 .6 6.8 8.8-5.2 .2z" color="#f7c173"/>
<path class="ma" d="M277.4 121.1L282.4 121.7M284 130.7L289.2 130.5"/>
<path d="M189.8 131.3l5.1 .2 5.4 10.6-5.3-.1z" color="#f7c375"/>
<path class="ma" d="M189.8 131.3L194.9 131.5M195 142L200.3 142.1"/>
<path d="M272.3 121.2l5.1-.1 6.6 9.6-5.1 .9z" color="#f7b96e"/>
<path class="ma" d="M272.3 121.2L277.4 121.1M278.9 131.6L284 130.7"/>
<path d="M184.6 130.7l5.2 .6 5.2 10.7-5.2-.4z" color="#f7c878"/>
<path class="ma" d="M184.6 130.7L189.8 131.3M189.8 141.6L195 142"/>
<path d="M267.2 122.1l5.1-.9 6.6 10.4-5.2 1.4z" color="#f7b268"/>
<path class="ma" d="M267.2 122.1L273.7 133M267.2 122.1L272.3 121.2M273.7 133L278.9 131.6"/>
<path d="M179.5 129.8l5.1 .9 5.2 10.9-5.2-.7z" color="#f7cc7b"/>
<path class="ma" d="M179.5 129.8L184.6 140.9M179.5 129.8L184.6 130.7M184.6 140.9L189.8 141.6"/>
<path d="M362 158.7l9.9 3.2 8.5 3.9-10.1-3.2z" color="#e4c273"/>
<path class="ma" d="M362 158.7L370.3 162.6M362 158.7L371.9 161.9M370.3 162.6L380.4 165.8"/>
<path d="M262.1 123.6l5.1-1.5 6.5 10.9-5.2 1.7z" color="#f7ac64"/>
<path class="ma" d="M267.2 122.1L273.7 133M262.1 123.6L267.2 122.1M268.5 134.7L273.7 133"/>
<path d="M314.5 137.6l9.9 4.8 7.6 4.5-10.1-3.8z" color="#e7cc7a"/>
<path class="ma" d="M314.5 137.6L321.9 143.1M314.5 137.6L324.4 142.4M321.9 143.1L332 146.9"/>
<path d="M174.3 128.6l5.2 1.2 5.1 11.1-5.3-1z" color="#f7d07e"/>
<path class="ma" d="M179.5 129.8L184.6 140.9M174.3 128.6L179.5 129.8M179.3 139.9L184.6 140.9"/>
<path d="M257 125.5l5.1-1.9 6.4 11.1-5.1 2.1z" color="#f7a761"/>
<path class="ma" d="M257 125.5L262.1 123.6M263.4 136.8L268.5 134.7"/>
<path d="M169.1 127.1l5.2 1.5 5 11.3-5.3-1.2z" color="#f7d480"/>
<path class="ma" d="M169.1 127.1L174.3 128.6M174 138.7L179.3 139.9"/>
<path d="M251.9 127.7l5.1-2.2 6.4 11.3-5.2 2.1z" color="#f7a55f"/>
<path class="ma" d="M251.9 127.7L257 125.5M258.2 138.9L263.4 136.8"/>
<path d="M246.8 130l5.1-2.3 6.3 11.2-5.3 2.2z" color="#f7a35f"/>
<path class="ma" d="M246.8 130L252.9 141.1M246.8 130L251.9 127.7M252.9 141.1L258.2 138.9"/>
<path d="M163.9 125.4l5.2 1.7 4.9 11.6-5.3-1.4z" color="#f7d782"/>
<path class="ma" d="M163.9 125.4L169.1 127.1M168.7 137.3L174 138.7"/>
<path d="M241.6 132.2l5.2-2.2 6.1 11.1-5.2 2.1z" color="#f7a45f"/>
<path class="ma" d="M246.8 130L252.9 141.1M241.6 132.2L246.8 130M247.7 143.2L252.9 141.1"/>
<path d="M352.1 155l9.9 3.7 8.3 3.9-10.1-3.4z" color="#e4c575"/>
<path class="ma" d="M362 158.7L370.3 162.6M352.1 155L362 158.7M360.2 159.2L370.3 162.6"/>
<path d="M304.4 133.4l10.1 4.2 7.4 5.5-10.3-2.7z" color="#edcb7a"/>
<path class="ma" d="M314.5 137.6L321.9 143.1M304.4 133.4L314.5 137.6M311.6 140.4L321.9 143.1"/>
<path d="M236.5 134.4l5.1-2.2 6.1 11-5.2 1.9z" color="#f7a560"/>
<path class="ma" d="M236.5 134.4L241.6 132.2M242.5 145.1L247.7 143.2"/>
<path d="M158.6 123.6l5.3 1.8 4.8 11.9-5.3-1.6z" color="#f7d883"/>
<path class="ma" d="M158.6 123.6L163.4 135.7M158.6 123.6L163.9 125.4M163.4 135.7L168.7 137.3"/>
<path d="M231.3 136.3l5.2-1.9 6 10.7-5.2 1.8z" color="#f7a761"/>
<path class="ma" d="M231.3 136.3L236.5 134.4M237.3 146.9L242.5 145.1"/>
<path d="M153.4 121.9l5.2 1.7 4.8 12.1-5.3-1.6z" color="#f7d884"/>
<path class="ma" d="M158.6 123.6L163.4 135.7M153.4 121.9L158.6 123.6M158.1 134.1L163.4 135.7"/>
<path d="M226.2 138l5.1-1.7 6 10.6-5.3 1.5z" color="#f7aa63"/>
<path class="ma" d="M226.2 138L232 148.4M226.2 138L231.3 136.3M232 148.4L237.3 146.9"/>
<path d="M221 139.4l5.2-1.4 5.8 10.4-5.2 1.3z" color="#f7ad65"/>
<path class="ma" d="M226.2 138L232 148.4M221 139.4L226.2 138M226.8 149.7L232 148.4"/>
<path d="M148.1 120.4l5.3 1.5 4.7 12.2-5.3-1.6z" color="#f7d782"/>
<path class="ma" d="M148.1 120.4L153.4 121.9M152.8 132.5L158.1 134.1"/>
<path d="M294.3 130.9l10.1 2.5 7.2 7-10.3-.9z" color="#f6c576"/>
<path class="ma" d="M294.3 130.9L301.3 139.5M294.3 130.9L304.4 133.4M301.3 139.5L311.6 140.4"/>
<path d="M215.8 140.6l5.2-1.2 5.8 10.3-5.3 1.1z" color="#f7b168"/>
<path class="ma" d="M215.8 140.6L221 139.4M221.5 150.8L226.8 149.7"/>
<path d="M342.1 151l10 4 8.1 4.2-10.1-3.6z" color="#e5c777"/>
<path class="ma" d="M342.1 151L350.1 155.6M342.1 151L352.1 155M350.1 155.6L360.2 159.2"/>
<path d="M142.8 119.4l5.3 1 4.7 12.1-5.4-1.2z" color="#f7d27f"/>
<path class="ma" d="M142.8 119.4L148.1 120.4M147.4 131.3L152.8 132.5"/>
<path d="M210.6 141.4l5.2-.8 5.7 10.2-5.2 .8z" color="#f7b46a"/>
<path class="ma" d="M210.6 141.4L215.8 140.6M216.3 151.6L221.5 150.8"/>
<path d="M137.6 119.2l5.2 .2 4.6 11.9-5.4-.8z" color="#f7ca79"/>
<path class="ma" d="M137.6 119.2L142 130.5M137.6 119.2L142.8 119.4M142 130.5L147.4 131.3"/>
<path d="M205.5 141.9l5.1-.5 5.7 10.2-5.3 .5z" color="#f7b86d"/>
<path class="ma" d="M205.5 141.9L211 152.1M205.5 141.9L210.6 141.4M211 152.1L216.3 151.6"/>
<path d="M289.2 130.5l5.1 .4 7 8.6-5.2 .3z" color="#f7bd70"/>
<path class="ma" d="M294.3 130.9L301.3 139.5M289.2 130.5L294.3 130.9M296.1 139.8L301.3 139.5"/>
<path d="M132.3 120l5.3-.8 4.4 11.3-5.3-.2z" color="#f7be71"/>
<path class="ma" d="M137.6 119.2L142 130.5M132.3 120L137.6 119.2M136.7 130.3L142 130.5"/>
<path d="M200.3 142.1l5.2-.2 5.5 10.2-5.3 .2z" color="#f7bd70"/>
<path class="ma" d="M205.5 141.9L211 152.1M200.3 142.1L205.5 141.9M205.7 152.3L211 152.1"/>
<path d="M127 121.8l5.3-1.8 4.4 10.3-5.4 .5z" color="#f7ae66"/>
<path class="ma" d="M127 121.8L132.3 120M131.3 130.8L136.7 130.3"/>
<path d="M53.3 171.4l10.6-5.2 3.1 2.5-10.8 5.5z" color="#e88649"/>
<path class="ma" d="M53.3 171.4L56.2 174.2M53.3 171.4L63.9 166.2M56.2 174.2L67 168.7"/>
<path d="M42.6 176l10.7-4.6 2.9 2.8-10.9 4.8z" color="#ea8b4c"/>
<path class="ma" d="M53.3 171.4L56.2 174.2M42.6 176L53.3 171.4M45.3 179L56.2 174.2"/>
<path d="M63.9 166.2l10.6-6.1 3.3 2.3-10.8 6.3z" color="#e78246"/>
<path class="ma" d="M74.5 160.1L77.8 162.4M63.9 166.2L74.5 160.1M67 168.7L77.8 162.4"/>
<path d="M380.4 165.8l10 2.7 8.9 4.2-10.2-2.7z" color="#e5c072"/>
<path class="ma" d="M380.4 165.8L390.4 168.5M389.1 170L399.3 172.7"/>
<path class="ma bd" d="M390.4 168.5L399.3 172.7"/>
<path d="M31.9 180l10.7-4 2.7 3-10.9 4.3z" color="#ec8f4f"/>
<path class="ma" d="M31.9 180L42.6 176M34.4 183.3L45.3 179"/>
<path class="ma bd" d="M31.9 180L34.4 183.3"/>
<path d="M74.5 160.1l10.6-7 3.4 2.3-10.7 7z" color="#e67e43"/>
<path class="ma" d="M74.5 160.1L77.8 162.4M74.5 160.1L85.1 153.1M77.8 162.4L88.5 155.4"/>
<path d="M284 130.7l5.2-.2 6.9 9.3-5.2 .8z" color="#f7b76c"/>
<path class="ma" d="M284 130.7L289.2 130.5M290.9 140.6L296.1 139.8"/>
<path d="M121.8 124.5l5.2-2.7 4.3 9-5.4 1.4z" color="#f79f5b"/>
<path class="ma" d="M121.8 124.5L127 121.8M125.9 132.2L131.3 130.8"/>
<path d="M85.1 153.1l10.5-8 3.6 2.8-10.7 7.5z" color="#e67b42"/>
<path class="ma" d="M95.6 145.1L99.2 147.9M85.1 153.1L95.6 145.1M88.5 155.4L99.2 147.9"/>
<path d="M116.5 128l5.3-3.5 4.1 7.7-5.3 2.2z" color="#f39151"/>
<path class="ma" d="M116.5 128L120.6 134.4M116.5 128L121.8 124.5M120.6 134.4L125.9 132.2"/>
<path d="M95.6 145.1l10.4-8.7 3.9 4.1-10.7 7.4z" color="#e97c42"/>
<path class="ma" d="M95.6 145.1L99.2 147.9M95.6 145.1L106 136.4M99.2 147.9L109.9 140.5"/>
<path d="M195 142l5.3 .1 5.4 10.2-5.3 0z" color="#f7c173"/>
<path class="ma" d="M195 142L200.3 142.1M200.4 152.3L205.7 152.3"/>
<path d="M106 136.4l10.5-8.4 4.1 6.4-10.7 6.1z" color="#ee8448"/>
<path class="ma" d="M116.5 128L120.6 134.4M106 136.4L116.5 128M109.9 140.5L120.6 134.4"/>
<path d="M332 146.9l10.1 4.1 8 4.6-10.3-3.3z" color="#e7c978"/>
<path class="ma" d="M342.1 151L350.1 155.6M332 146.9L342.1 151M339.8 152.3L350.1 155.6"/>
<path d="M278.9 131.6l5.1-.9 6.9 9.9-5.2 1.3z" color="#f7b168"/>
<path class="ma" d="M278.9 131.6L284 130.7M285.7 141.9L290.9 140.6"/>
<path d="M189.8 141.6l5.2 .4 5.4 10.3-5.3-.3z" color="#f7c576"/>
<path class="ma" d="M189.8 141.6L195 142M195.1 152L200.4 152.3"/>
<path d="M273.7 133l5.2-1.4 6.8 10.3-5.3 1.6z" color="#f7ab64"/>
<path class="ma" d="M273.7 133L280.4 143.5M273.7 133L278.9 131.6M280.4 143.5L285.7 141.9"/>
<path d="M184.6 140.9l5.2 .7 5.3 10.4-5.3-.5z" color="#f7c878"/>
<path class="ma" d="M184.6 140.9L189.8 151.5M184.6 140.9L189.8 141.6M189.8 151.5L195.1 152"/>
<path d="M268.5 134.7l5.2-1.7 6.7 10.5-5.2 1.9z" color="#f7a761"/>
<path class="ma" d="M273.7 133L280.4 143.5M268.5 134.7L273.7 133M275.2 145.4L280.4 143.5"/>
<path d="M370.3 162.6l10.1 3.2 8.7 4.2-10.2-2.9z" color="#e5c273"/>
<path class="ma" d="M370.3 162.6L378.9 167.1M370.3 162.6L380.4 165.8M378.9 167.1L389.1 170"/>
<path d="M179.3 139.9l5.3 1 5.2 10.6-5.3-.8z" color="#f7cc7b"/>
<path class="ma" d="M184.6 140.9L189.8 151.5M179.3 139.9L184.6 140.9M184.5 150.7L189.8 151.5"/>
<path d="M263.4 136.8l5.1-2.1 6.7 10.7-5.3 2.1z" color="#f7a55f"/>
<path class="ma" d="M263.4 136.8L268.5 134.7M269.9 147.5L275.2 145.4"/>
<path d="M321.9 143.1l10.1 3.8 7.8 5.4-10.3-2.7z" color="#ecc878"/>
<path class="ma" d="M321.9 143.1L329.5 149.6M321.9 143.1L332 146.9M329.5 149.6L339.8 152.3"/>
<path d="M258.2 138.9l5.2-2.1 6.5 10.7-5.3 2.1z" color="#f7a35e"/>
<path class="ma" d="M258.2 138.9L263.4 136.8M264.6 149.6L269.9 147.5"/>
<path d="M174 138.7l5.3 1.2 5.2 10.8-5.4-1.1z" color="#f7cf7d"/>
<path class="ma" d="M174 138.7L179.3 139.9M179.1 149.6L184.5 150.7"/>
<path d="M252.9 141.1l5.3-2.2 6.4 10.7-5.3 2z" color="#f7a35e"/>
<path class="ma" d="M252.9 141.1L259.3 151.6M252.9 141.1L258.2 138.9M259.3 151.6L264.6 149.6"/>
<path d="M168.7 137.3l5.3 1.4 5.1 10.9-5.3-1.2z" color="#f7d27f"/>
<path class="ma" d="M168.7 137.3L174 138.7M173.8 148.4L179.1 149.6"/>
<path d="M247.7 143.2l5.2-2.1 6.4 10.5-5.3 2z" color="#f7a45f"/>
<path class="ma" d="M252.9 141.1L259.3 151.6M247.7 143.2L252.9 141.1M254 153.6L259.3 151.6"/>
<path d="M242.5 145.1l5.2-1.9 6.3 10.4-5.3 1.8z" color="#f7a560"/>
<path class="ma" d="M242.5 145.1L247.7 143.2M248.7 155.4L254 153.6"/>
<path d="M163.4 135.7l5.3 1.6 5.1 11.1-5.4-1.4z" color="#f7d480"/>
<path class="ma" d="M163.4 135.7L168.4 147M163.4 135.7L168.7 137.3M168.4 147L173.8 148.4"/>
<path d="M360.2 159.2l10.1 3.4 8.6 4.5-10.2-3.1z" color="#e6c475"/>
<path class="ma" d="M370.3 162.6L378.9 167.1M360.2 159.2L370.3 162.6M368.7 164L378.9 167.1"/>
<path d="M311.6 140.4l10.3 2.7 7.6 6.5-10.4-1.4z" color="#f2c575"/>
<path class="ma" d="M321.9 143.1L329.5 149.6M311.6 140.4L321.9 143.1M319.1 148.2L329.5 149.6"/>
<path d="M237.3 146.9l5.2-1.8 6.2 10.3-5.3 1.7z" color="#f7a761"/>
<path class="ma" d="M237.3 146.9L242.5 145.1M243.4 157.1L248.7 155.4"/>
<path d="M158.1 134.1l5.3 1.6 5 11.3-5.4-1.4z" color="#f7d581"/>
<path class="ma" d="M163.4 135.7L168.4 147M158.1 134.1L163.4 135.7M163 145.6L168.4 147"/>
<path d="M232 148.4l5.3-1.5 6.1 10.2-5.3 1.4z" color="#f7aa63"/>
<path class="ma" d="M232 148.4L238.1 158.5M232 148.4L237.3 146.9M238.1 158.5L243.4 157.1"/>
<path d="M226.8 149.7l5.2-1.3 6.1 10.1-5.3 1.2z" color="#f7ad65"/>
<path class="ma" d="M232 148.4L238.1 158.5M226.8 149.7L232 148.4M232.8 159.7L238.1 158.5"/>
<path d="M152.8 132.5l5.3 1.6 4.9 11.5-5.4-1.5z" color="#f7d481"/>
<path class="ma" d="M152.8 132.5L158.1 134.1M157.6 144.1L163 145.6"/>
<path d="M221.5 150.8l5.3-1.1 6 10-5.3 1z" color="#f7b067"/>
<path class="ma" d="M221.5 150.8L226.8 149.7M227.5 160.7L232.8 159.7"/>
<path d="M301.3 139.5l10.3 .9 7.5 7.8-10.5 .2z" color="#f7bd70"/>
<path class="ma" d="M301.3 139.5L308.6 148.4M301.3 139.5L311.6 140.4M308.6 148.4L319.1 148.2"/>
<path d="M147.4 131.3l5.4 1.2 4.8 11.6-5.5-1.3z" color="#f7d27f"/>
<path class="ma" d="M147.4 131.3L152.8 132.5M152.1 142.8L157.6 144.1"/>
<path d="M350.1 155.6l10.1 3.6 8.5 4.8-10.4-3z" color="#e8c676"/>
<path class="ma" d="M350.1 155.6L358.3 161M350.1 155.6L360.2 159.2M358.3 161L368.7 164"/>
<path d="M216.3 151.6l5.2-.8 6 9.9-5.4 .8z" color="#f7b46a"/>
<path class="ma" d="M216.3 151.6L221.5 150.8M222.1 161.5L227.5 160.7"/>
<path d="M142 130.5l5.4 .8 4.7 11.5-5.4-1z" color="#f7ce7c"/>
<path class="ma" d="M142 130.5L146.7 141.8M142 130.5L147.4 131.3M146.7 141.8L152.1 142.8"/>
<path d="M211 152.1l5.3-.5 5.8 9.9-5.3 .5z" color="#f7b76c"/>
<path class="ma" d="M211 152.1L216.8 162M211 152.1L216.3 151.6M216.8 162L222.1 161.5"/>
<path d="M296.1 139.8l5.2-.3 7.3 8.9-5.3 .9z" color="#f7b56b"/>
<path class="ma" d="M301.3 139.5L308.6 148.4M296.1 139.8L301.3 139.5M303.3 149.3L308.6 148.4"/>
<path d="M136.7 130.3l5.3 .2 4.7 11.3-5.5-.7z" color="#f7c777"/>
<path class="ma" d="M142 130.5L146.7 141.8M136.7 130.3L142 130.5M141.2 141.1L146.7 141.8"/>
<path d="M205.7 152.3l5.3-.2 5.8 9.9-5.4 .3z" color="#f7bb6f"/>
<path class="ma" d="M211 152.1L216.8 162M205.7 152.3L211 152.1M211.4 162.3L216.8 162"/>
<path d="M290.9 140.6l5.2-.8 7.2 9.5-5.3 1.2z" color="#f7b067"/>
<path class="ma" d="M290.9 140.6L296.1 139.8M298 150.5L303.3 149.3"/>
<path d="M131.3 130.8l5.4-.5 4.5 10.8-5.4-.1z" color="#f7bd71"/>
<path class="ma" d="M131.3 130.8L136.7 130.3M135.8 141L141.2 141.1"/>
<path d="M389.1 170l10.2 2.7 9.2 4.6-10.3-2.6z" color="#e6c072"/>
<path class="ma" d="M389.1 170L399.3 172.7M398.2 174.7L408.5 177.3"/>
<path class="ma bd" d="M399.3 172.7L408.5 177.3"/>
<path d="M200.4 152.3l5.3 0 5.7 10-5.4 0z" color="#f7be71"/>
<path class="ma" d="M200.4 152.3L205.7 152.3M206 162.3L211.4 162.3"/>
<path d="M125.9 132.2l5.4-1.4 4.5 10.2-5.5 .4z" color="#f7b168"/>
<path class="ma" d="M125.9 132.2L131.3 130.8M130.3 141.4L135.8 141"/>
<path d="M285.7 141.9l5.2-1.3 7.1 9.9-5.3 1.5z" color="#f7ab64"/>
<path class="ma" d="M285.7 141.9L290.9 140.6M292.7 152L298 150.5"/>
<path d="M339.8 152.3l10.3 3.3 8.2 5.4-10.4-2.6z" color="#ebc676"/>
<path class="ma" d="M350.1 155.6L358.3 161M339.8 152.3L350.1 155.6M347.9 158.4L358.3 161"/>
<path d="M120.6 134.4l5.3-2.2 4.4 9.2-5.5 1.2z" color="#f7a55f"/>
<path class="ma" d="M120.6 134.4L124.8 142.6M120.6 134.4L125.9 132.2M124.8 142.6L130.3 141.4"/>
<path d="M195.1 152l5.3 .3 5.6 10-5.4-.2z" color="#f7c274"/>
<path class="ma" d="M195.1 152L200.4 152.3M200.6 162.1L206 162.3"/>
<path d="M109.9 140.5l10.7-6.1 4.2 8.2-10.9 4.1z" color="#f59554"/>
<path class="ma" d="M120.6 134.4L124.8 142.6M109.9 140.5L120.6 134.4M113.9 146.7L124.8 142.6"/>
<path d="M56.2 174.2l10.8-5.5 3.2 3.2-11 5.6z" color="#ea874a"/>
<path class="ma" d="M56.2 174.2L59.2 177.5M56.2 174.2L67 168.7M59.2 177.5L70.2 171.9"/>
<path d="M45.3 179l10.9-4.8 3 3.3-11.1 5.1z" color="#ec8b4c"/>
<path class="ma" d="M56.2 174.2L59.2 177.5M45.3 179L56.2 174.2M48.1 182.6L59.2 177.5"/>
<path d="M67 168.7l10.8-6.3 3.3 3.3-10.9 6.2z" color="#ea8448"/>
<path class="ma" d="M77.8 162.4L81.1 165.7M67 168.7L77.8 162.4M70.2 171.9L81.1 165.7"/>
<path d="M34.4 183.3l10.9-4.3 2.8 3.6-11.1 4.5z" color="#ed8e4f"/>
<path class="ma" d="M34.4 183.3L45.3 179M37 187.1L48.1 182.6"/>
<path class="ma bd" d="M34.4 183.3L37 187.1"/>
<path d="M77.8 162.4l10.7-7 3.6 3.7-11 6.6z" color="#ea8246"/>
<path class="ma" d="M77.8 162.4L81.1 165.7M77.8 162.4L88.5 155.4M81.1 165.7L92.1 159.1"/>
<path d="M280.4 143.5l5.3-1.6 7 10.1-5.3 1.8z" color="#f7a761"/>
<path class="ma" d="M280.4 143.5L287.4 153.8M280.4 143.5L285.7 141.9M287.4 153.8L292.7 152"/>
<path d="M99.2 147.9l10.7-7.4 4 6.2-10.9 5.8z" color="#f0884a"/>
<path class="ma" d="M99.2 147.9L103 152.5M99.2 147.9L109.9 140.5M103 152.5L113.9 146.7"/>
<path d="M88.5 155.4l10.7-7.5 3.8 4.6-10.9 6.6z" color="#ec8247"/>
<path class="ma" d="M99.2 147.9L103 152.5M88.5 155.4L99.2 147.9M92.1 159.1L103 152.5"/>
<path d="M189.8 151.5l5.3 .5 5.5 10.1-5.4-.4z" color="#f7c576"/>
<path class="ma" d="M189.8 151.5L195.2 161.7M189.8 151.5L195.1 152M195.2 161.7L200.6 162.1"/>
<path d="M275.2 145.4l5.2-1.9 7 10.3-5.4 1.9z" color="#f7a55f"/>
<path class="ma" d="M280.4 143.5L287.4 153.8M275.2 145.4L280.4 143.5M282 155.7L287.4 153.8"/>
<path d="M269.9 147.5l5.3-2.1 6.8 10.3-5.3 2.1z" color="#f7a35e"/>
<path class="ma" d="M269.9 147.5L275.2 145.4M276.7 157.8L282 155.7"/>
<path d="M184.5 150.7l5.3 .8 5.4 10.2-5.4-.7z" color="#f7c978"/>
<path class="ma" d="M189.8 151.5L195.2 161.7M184.5 150.7L189.8 151.5M189.8 161L195.2 161.7"/>
<path d="M378.9 167.1l10.2 2.9 9.1 4.7-10.4-2.7z" color="#e7c273"/>
<path class="ma" d="M378.9 167.1L387.8 172M378.9 167.1L389.1 170M387.8 172L398.2 174.7"/>
<path d="M329.5 149.6l10.3 2.7 8.1 6.1-10.5-1.7z" color="#f0c374"/>
<path class="ma" d="M329.5 149.6L337.4 156.7M329.5 149.6L339.8 152.3M337.4 156.7L347.9 158.4"/>
<path d="M264.6 149.6l5.3-2.1 6.8 10.3-5.4 2z" color="#f7a35e"/>
<path class="ma" d="M264.6 149.6L269.9 147.5M271.3 159.8L276.7 157.8"/>
<path d="M179.1 149.6l5.4 1.1 5.3 10.3-5.4-.9z" color="#f7cb7a"/>
<path class="ma" d="M179.1 149.6L184.5 150.7M184.4 160.1L189.8 161"/>
<path d="M259.3 151.6l5.3-2 6.7 10.2-5.4 2z" color="#f7a35e"/>
<path class="ma" d="M259.3 151.6L265.9 161.8M259.3 151.6L264.6 149.6M265.9 161.8L271.3 159.8"/>
<path d="M173.8 148.4l5.3 1.2 5.3 10.5-5.5-1z" color="#f7ce7c"/>
<path class="ma" d="M173.8 148.4L179.1 149.6M178.9 159.1L184.4 160.1"/>
<path d="M254 153.6l5.3-2 6.6 10.2-5.3 1.9z" color="#f7a45f"/>
<path class="ma" d="M259.3 151.6L265.9 161.8M254 153.6L259.3 151.6M260.6 163.7L265.9 161.8"/>
<path d="M248.7 155.4l5.3-1.8 6.6 10.1-5.4 1.7z" color="#f7a660"/>
<path class="ma" d="M248.7 155.4L254 153.6M255.2 165.4L260.6 163.7"/>
<path d="M168.4 147l5.4 1.4 5.1 10.7-5.4-1.2z" color="#f7d07e"/>
<path class="ma" d="M168.4 147L173.5 157.9M168.4 147L173.8 148.4M173.5 157.9L178.9 159.1"/>
<path d="M319.1 148.2l10.4 1.4 7.9 7.1-10.6-.3z" color="#f6be71"/>
<path class="ma" d="M329.5 149.6L337.4 156.7M319.1 148.2L329.5 149.6M326.8 156.4L337.4 156.7"/>
<path d="M243.4 157.1l5.3-1.7 6.5 10-5.4 1.6z" color="#f7a861"/>
<path class="ma" d="M243.4 157.1L248.7 155.4M249.8 167L255.2 165.4"/>
<path d="M368.7 164l10.2 3.1 8.9 4.9-10.4-2.7z" color="#e8c374"/>
<path class="ma" d="M378.9 167.1L387.8 172M368.7 164L378.9 167.1M377.4 169.3L387.8 172"/>
<path d="M163 145.6l5.4 1.4 5.1 10.9-5.5-1.3z" color="#f7d17e"/>
<path class="ma" d="M168.4 147L173.5 157.9M163 145.6L168.4 147M168 156.6L173.5 157.9"/>
<path d="M238.1 158.5l5.3-1.4 6.4 9.9-5.4 1.4z" color="#f7aa63"/>
<path class="ma" d="M238.1 158.5L244.4 168.4M238.1 158.5L243.4 157.1M244.4 168.4L249.8 167"/>
<path d="M232.8 159.7l5.3-1.2 6.3 9.9-5.4 1.1z" color="#f7ad65"/>
<path class="ma" d="M238.1 158.5L244.4 168.4M232.8 159.7L238.1 158.5M239 169.5L244.4 168.4"/>
<path d="M157.6 144.1l5.4 1.5 5 11-5.5-1.4z" color="#f7d27f"/>
<path class="ma" d="M157.6 144.1L163 145.6M162.5 155.2L168 156.6"/>
<path d="M227.5 160.7l5.3-1 6.2 9.8-5.4 1z" color="#f7b067"/>
<path class="ma" d="M227.5 160.7L232.8 159.7M233.6 170.5L239 169.5"/>
<path d="M308.6 148.4l10.5-.2 7.7 8.2-10.7 1.1z" color="#f7b66b"/>
<path class="ma" d="M308.6 148.4L316.1 157.5M308.6 148.4L319.1 148.2M316.1 157.5L326.8 156.4"/>
<path d="M152.1 142.8l5.5 1.3 4.9 11.1-5.5-1.3z" color="#f7d17e"/>
<path class="ma" d="M152.1 142.8L157.6 144.1M157 153.9L162.5 155.2"/>
<path d="M222.1 161.5l5.4-.8 6.1 9.8-5.5 .8z" color="#f7b369"/>
<path class="ma" d="M222.1 161.5L227.5 160.7M228.1 171.3L233.6 170.5"/>
<path d="M358.3 161l10.4 3 8.7 5.3-10.5-2.4z" color="#eac374"/>
<path class="ma" d="M358.3 161L366.9 166.9M358.3 161L368.7 164M366.9 166.9L377.4 169.3"/>
<path d="M146.7 141.8l5.4 1 4.9 11.1-5.5-1.1z" color="#f7ce7d"/>
<path class="ma" d="M146.7 141.8L151.5 152.8M146.7 141.8L152.1 142.8M151.5 152.8L157 153.9"/>
<path d="M216.8 162l5.3-.5 6 9.8-5.4 .5z" color="#f7b66b"/>
<path class="ma" d="M216.8 162L222.7 171.8M216.8 162L222.1 161.5M222.7 171.8L228.1 171.3"/>
<path d="M303.3 149.3l5.3-.9 7.5 9.1-5.4 1.2z" color="#f7af66"/>
<path class="ma" d="M308.6 148.4L316.1 157.5M303.3 149.3L308.6 148.4M310.7 158.7L316.1 157.5"/>
<path d="M141.2 141.1l5.5 .7 4.8 11-5.6-.9z" color="#f7ca7a"/>
<path class="ma" d="M146.7 141.8L151.5 152.8M141.2 141.1L146.7 141.8M145.9 151.9L151.5 152.8"/>
<path d="M211.4 162.3l5.4-.3 5.9 9.8-5.4 .3z" color="#f7b96e"/>
<path class="ma" d="M216.8 162L222.7 171.8M211.4 162.3L216.8 162M217.3 172.1L222.7 171.8"/>
<path d="M298 150.5l5.3-1.2 7.4 9.4-5.4 1.5z" color="#f7ab63"/>
<path class="ma" d="M298 150.5L303.3 149.3M305.3 160.2L310.7 158.7"/>
<path d="M135.8 141l5.4 .1 4.7 10.8-5.5-.6z" color="#f7c475"/>
<path class="ma" d="M135.8 141L141.2 141.1M140.4 151.3L145.9 151.9"/>
<path d="M206 162.3l5.4 0 5.9 9.8-5.5 .1z" color="#f7bd70"/>
<path class="ma" d="M206 162.3L211.4 162.3M211.8 172.2L217.3 172.1"/>
<path d="M398.2 174.7l10.3 2.6 9.6 5-10.5-2.4z" color="#e8c072"/>
<path class="ma" d="M398.2 174.7L408.5 177.3"/>
<path class="ma bd" d="M408.5 177.3L418.1 182.3M407.6 179.9L418.1 182.3"/>
<path d="M292.7 152l5.3-1.5 7.3 9.7-5.4 1.7z" color="#f7a761"/>
<path class="ma" d="M292.7 152L298 150.5M299.9 161.9L305.3 160.2"/>
<path d="M130.3 141.4l5.5-.4 4.6 10.3-5.6-.1z" color="#f7bc6f"/>
<path class="ma" d="M130.3 141.4L135.8 141M134.8 151.2L140.4 151.3"/>
<path d="M347.9 158.4l10.4 2.6 8.6 5.9-10.6-1.8z" color="#eec273"/>
<path class="ma" d="M358.3 161L366.9 166.9M347.9 158.4L358.3 161M356.3 165.1L366.9 166.9"/>
<path d="M200.6 162.1l5.4 .2 5.8 9.9-5.5-.2z" color="#f7c072"/>
<path class="ma" d="M200.6 162.1L206 162.3M206.3 172L211.8 172.2"/>
<path d="M124.8 142.6l5.5-1.2 4.5 9.8-5.6 .5z" color="#f7b269"/>
<path class="ma" d="M124.8 142.6L129.2 151.7M124.8 142.6L130.3 141.4M129.2 151.7L134.8 151.2"/>
<path d="M287.4 153.8l5.3-1.8 7.2 9.9-5.4 1.8z" color="#f7a55f"/>
<path class="ma" d="M287.4 153.8L294.5 163.7M287.4 153.8L292.7 152M294.5 163.7L299.9 161.9"/>
<path d="M113.9 146.7l10.9-4.1 4.4 9.1-11.1 2.5z" color="#f7a35e"/>
<path class="ma" d="M124.8 142.6L129.2 151.7M113.9 146.7L124.8 142.6M118.1 154.2L129.2 151.7"/>
<path d="M282 155.7l5.4-1.9 7.1 9.9-5.4 2z" color="#f7a35e"/>
<path class="ma" d="M287.4 153.8L294.5 163.7M282 155.7L287.4 153.8M289.1 165.7L294.5 163.7"/>
<path d="M195.2 161.7l5.4 .4 5.7 9.9-5.5-.3z" color="#f7c374"/>
<path class="ma" d="M195.2 161.7L200.8 171.7M195.2 161.7L200.6 162.1M200.8 171.7L206.3 172"/>
<path d="M103 152.5l10.9-5.8 4.2 7.5-11.1 4.4z" color="#f59353"/>
<path class="ma" d="M103 152.5L107 158.6M103 152.5L113.9 146.7M107 158.6L118.1 154.2"/>
<path d="M92.1 159.1l10.9-6.6 4 6.1-11.2 5.5z" color="#f28b4d"/>
<path class="ma" d="M103 152.5L107 158.6M92.1 159.1L103 152.5M95.8 164.1L107 158.6"/>
<path d="M276.7 157.8l5.3-2.1 7.1 10-5.4 2z" color="#f7a25d"/>
<path class="ma" d="M276.7 157.8L282 155.7M283.7 167.7L289.1 165.7"/>
<path d="M81.1 165.7l11-6.6 3.7 5-11.1 6z" color="#ef874a"/>
<path class="ma" d="M81.1 165.7L84.7 170.1M81.1 165.7L92.1 159.1M84.7 170.1L95.8 164.1"/>
<path d="M70.2 171.9l10.9-6.2 3.6 4.4-11.2 5.8z" color="#ed874a"/>
<path class="ma" d="M81.1 165.7L84.7 170.1M70.2 171.9L81.1 165.7M73.5 175.9L84.7 170.1"/>
<path d="M59.2 177.5l11-5.6 3.3 4-11.2 5.6z" color="#ed894b"/>
<path class="ma" d="M59.2 177.5L62.3 181.5M59.2 177.5L70.2 171.9M62.3 181.5L73.5 175.9"/>
<path d="M48.1 182.6l11.1-5.1 3.1 4-11.3 5.1z" color="#ed8c4d"/>
<path class="ma" d="M59.2 177.5L62.3 181.5M48.1 182.6L59.2 177.5M51 186.6L62.3 181.5"/>
<path d="M37 187.1l11.1-4.5 2.9 4-11.3 4.6z" color="#ee8f4f"/>
<path class="ma" d="M37 187.1L48.1 182.6M39.7 191.2L51 186.6"/>
<path class="ma bd" d="M37 187.1L39.7 191.2"/>
<path d="M189.8 161l5.4 .7 5.6 10-5.5-.6z" color="#f7c676"/>
<path class="ma" d="M195.2 161.7L200.8 171.7M189.8 161L195.2 161.7M195.3 171.1L200.8 171.7"/>
<path d="M271.3 159.8l5.4-2 7 9.9-5.5 2z" color="#f7a25d"/>
<path class="ma" d="M271.3 159.8L276.7 157.8M278.2 169.7L283.7 167.7"/>
<path d="M387.8 172l10.4 2.7 9.4 5.2-10.6-2.4z" color="#e8c172"/>
<path class="ma" d="M387.8 172L397 177.5M387.8 172L398.2 174.7"/>
<path class="ma bd" d="M397 177.5L407.6 179.9"/>
<path d="M337.4 156.7l10.5 1.7 8.4 6.7-10.7-.8z" color="#f3be71"/>
<path class="ma" d="M337.4 156.7L345.6 164.3M337.4 156.7L347.9 158.4M345.6 164.3L356.3 165.1"/>
<path d="M184.4 160.1l5.4 .9 5.5 10.1-5.5-.8z" color="#f7c878"/>
<path class="ma" d="M184.4 160.1L189.8 161M189.8 170.3L195.3 171.1"/>
<path d="M265.9 161.8l5.4-2 6.9 9.9-5.4 2z" color="#f7a35e"/>
<path class="ma" d="M265.9 161.8L272.8 171.7M265.9 161.8L271.3 159.8M272.8 171.7L278.2 169.7"/>
<path d="M260.6 163.7l5.3-1.9 6.9 9.9-5.5 1.8z" color="#f7a45f"/>
<path class="ma" d="M265.9 161.8L272.8 171.7M260.6 163.7L265.9 161.8M267.3 173.5L272.8 171.7"/>
<path d="M178.9 159.1l5.5 1 5.4 10.2-5.5-.9z" color="#f7cb7a"/>
<path class="ma" d="M178.9 159.1L184.4 160.1M184.3 169.4L189.8 170.3"/>
<path d="M255.2 165.4l5.4-1.7 6.7 9.8-5.5 1.7z" color="#f7a660"/>
<path class="ma" d="M255.2 165.4L260.6 163.7M261.8 175.2L267.3 173.5"/>
<path d="M173.5 157.9l5.4 1.2 5.4 10.3-5.6-1.1z" color="#f7cd7b"/>
<path class="ma" d="M173.5 157.9L178.7 168.3M173.5 157.9L178.9 159.1M178.7 168.3L184.3 169.4"/>
<path d="M326.8 156.4l10.6 .3 8.2 7.6-10.8 .5z" color="#f7b86d"/>
<path class="ma" d="M337.4 156.7L345.6 164.3M326.8 156.4L337.4 156.7M334.8 164.8L345.6 164.3"/>
<path d="M249.8 167l5.4-1.6 6.6 9.8-5.4 1.5z" color="#f7a861"/>
<path class="ma" d="M249.8 167L255.2 165.4M256.4 176.7L261.8 175.2"/>
<path d="M377.4 169.3l10.4 2.7 9.2 5.5-10.6-2.3z" color="#eac173"/>
<path class="ma" d="M387.8 172L397 177.5M377.4 169.3L387.8 172"/>
<path class="ma bd" d="M386.4 175.2L397 177.5"/>
<path d="M168 156.6l5.5 1.3 5.2 10.4-5.5-1.2z" color="#f7ce7c"/>
<path class="ma" d="M173.5 157.9L178.7 168.3M168 156.6L173.5 157.9M173.2 167.1L178.7 168.3"/>
<path d="M244.4 168.4l5.4-1.4 6.6 9.7-5.5 1.4z" color="#f7aa63"/>
<path class="ma" d="M244.4 168.4L250.9 178.1M244.4 168.4L249.8 167M250.9 178.1L256.4 176.7"/>
<path d="M239 169.5l5.4-1.1 6.5 9.7-5.5 1.1z" color="#f7ac65"/>
<path class="ma" d="M244.4 168.4L250.9 178.1M239 169.5L244.4 168.4M245.4 179.2L250.9 178.1"/>
<path d="M162.5 155.2l5.5 1.4 5.2 10.5-5.6-1.2z" color="#f7cf7d"/>
<path class="ma" d="M162.5 155.2L168 156.6M167.6 165.9L173.2 167.1"/>
<path d="M316.1 157.5l10.7-1.1 8 8.4-10.9 1.9z" color="#f7b067"/>
<path class="ma" d="M316.1 157.5L323.9 166.7M316.1 157.5L326.8 156.4M323.9 166.7L334.8 164.8"/>
<path d="M233.6 170.5l5.4-1 6.4 9.7-5.5 1z" color="#f7af67"/>
<path class="ma" d="M233.6 170.5L239 169.5M239.9 180.2L245.4 179.2"/>
<path d="M157 153.9l5.5 1.3 5.1 10.7-5.6-1.3z" color="#f7cf7d"/>
<path class="ma" d="M157 153.9L162.5 155.2M162 164.6L167.6 165.9"/>
<path d="M228.1 171.3l5.5-.8 6.3 9.7-5.5 .7z" color="#f7b269"/>
<path class="ma" d="M228.1 171.3L233.6 170.5M234.4 180.9L239.9 180.2"/>
<path d="M366.9 166.9l10.5 2.4 9 5.9-10.7-1.8z" color="#ecc072"/>
<path class="ma" d="M366.9 166.9L375.7 173.4M366.9 166.9L377.4 169.3"/>
<path class="ma bd" d="M375.7 173.4L386.4 175.2"/>
<path d="M151.5 152.8l5.5 1.1 5 10.7-5.6-1.2z" color="#f7cd7c"/>
<path class="ma" d="M151.5 152.8L156.4 163.4M151.5 152.8L157 153.9M156.4 163.4L162 164.6"/>
<path d="M310.7 158.7l5.4-1.2 7.8 9.2-5.5 1.4z" color="#f7aa63"/>
<path class="ma" d="M316.1 157.5L323.9 166.7M310.7 158.7L316.1 157.5M318.4 168.1L323.9 166.7"/>
<path d="M222.7 171.8l5.4-.5 6.3 9.6-5.5 .6z" color="#f7b56b"/>
<path class="ma" d="M222.7 171.8L228.9 181.5M222.7 171.8L228.1 171.3M228.9 181.5L234.4 180.9"/>
<path d="M145.9 151.9l5.6 .9 4.9 10.6-5.6-1z" color="#f7cb7a"/>
<path class="ma" d="M151.5 152.8L156.4 163.4M145.9 151.9L151.5 152.8M150.8 162.4L156.4 163.4"/>
<path d="M305.3 160.2l5.4-1.5 7.7 9.4-5.4 1.6z" color="#f7a761"/>
<path class="ma" d="M305.3 160.2L310.7 158.7M313 169.7L318.4 168.1"/>
<path d="M217.3 172.1l5.4-.3 6.2 9.7-5.6 .3z" color="#f7b86d"/>
<path class="ma" d="M222.7 171.8L228.9 181.5M217.3 172.1L222.7 171.8M223.3 181.8L228.9 181.5"/>
<path d="M140.4 151.3l5.5 .6 4.9 10.5-5.7-.7z" color="#f7c777"/>
<path class="ma" d="M140.4 151.3L145.9 151.9M145.1 161.7L150.8 162.4"/>
<path d="M299.9 161.9l5.4-1.7 7.7 9.5-5.5 1.8z" color="#f7a55f"/>
<path class="ma" d="M299.9 161.9L305.3 160.2M307.5 171.5L313 169.7"/>
<path d="M211.8 172.2l5.5-.1 6 9.7-5.5 .1z" color="#f7bb6f"/>
<path class="ma" d="M211.8 172.2L217.3 172.1M217.8 181.9L223.3 181.8"/>
<path d="M134.8 151.2l5.6 .1 4.7 10.4-5.6-.5z" color="#f7c173"/>
<path class="ma" d="M134.8 151.2L140.4 151.3M139.5 161.2L145.1 161.7"/>
<path d="M294.5 163.7l5.4-1.8 7.6 9.6-5.5 2z" color="#f7a35e"/>
<path class="ma" d="M294.5 163.7L302 173.5M294.5 163.7L299.9 161.9M302 173.5L307.5 171.5"/>
<path d="M356.3 165.1l10.6 1.8 8.8 6.5-10.8-1.1z" color="#f0be71"/>
<path class="ma" d="M366.9 166.9L375.7 173.4M356.3 165.1L366.9 166.9"/>
<path class="ma bd" d="M364.9 172.3L375.7 173.4"/>
<path d="M206.3 172l5.5 .2 6 9.7-5.6-.1z" color="#f7be71"/>
<path class="ma" d="M206.3 172L211.8 172.2M212.2 181.8L217.8 181.9"/>
<path d="M129.2 151.7l5.6-.5 4.7 10-5.7 0z" color="#f7ba6e"/>
<path class="ma" d="M129.2 151.7L133.8 161.2M129.2 151.7L134.8 151.2M133.8 161.2L139.5 161.2"/>
<path d="M289.1 165.7l5.4-2 7.5 9.8-5.6 2z" color="#f7a25d"/>
<path class="ma" d="M294.5 163.7L302 173.5M289.1 165.7L294.5 163.7M296.4 175.5L302 173.5"/>
<path d="M200.8 171.7l5.5 .3 5.9 9.8-5.6-.3z" color="#f7c173"/>
<path class="ma" d="M200.8 171.7L206.6 181.5M200.8 171.7L206.3 172M206.6 181.5L212.2 181.8"/>
<path d="M118.1 154.2l11.1-2.5 4.6 9.5-11.3 1.3z" color="#f7ae65"/>
<path class="ma" d="M129.2 151.7L133.8 161.2M118.1 154.2L129.2 151.7M122.5 162.5L133.8 161.2"/>
<path d="M283.7 167.7l5.4-2 7.3 9.8-5.5 2z" color="#f7a15d"/>
<path class="ma" d="M283.7 167.7L289.1 165.7M290.9 177.5L296.4 175.5"/>
<path d="M195.3 171.1l5.5 .6 5.8 9.8-5.5-.5z" color="#f7c375"/>
<path class="ma" d="M200.8 171.7L206.6 181.5M195.3 171.1L200.8 171.7M201.1 181L206.6 181.5"/>
<path d="M107 158.6l11.1-4.4 4.4 8.3-11.4 3.1z" color="#f79e5a"/>
<path class="ma" d="M107 158.6L111.1 165.6M107 158.6L118.1 154.2M111.1 165.6L122.5 162.5"/>
<path d="M278.2 169.7l5.5-2 7.2 9.8-5.5 2z" color="#f7a25d"/>
<path class="ma" d="M278.2 169.7L283.7 167.7M285.4 179.5L290.9 177.5"/>
<path d="M95.8 164.1l11.2-5.5 4.1 7-11.4 4.5z" color="#f59353"/>
<path class="ma" d="M107 158.6L111.1 165.6M95.8 164.1L107 158.6M99.7 170.1L111.1 165.6"/>
<path d="M345.6 164.3l10.7 .8 8.6 7.2-10.9-.1z" color="#f5b96d"/>
<path class="ma" d="M345.6 164.3L354 172.2M345.6 164.3L356.3 165.1"/>
<path class="ma bd" d="M354 172.2L364.9 172.3"/>
<path d="M84.7 170.1l11.1-6 3.9 6-11.3 5.2z" color="#f38d4e"/>
<path class="ma" d="M84.7 170.1L88.4 175.3M84.7 170.1L95.8 164.1M88.4 175.3L99.7 170.1"/>
<path d="M272.8 171.7l5.4-2 7.2 9.8-5.6 1.9z" color="#f7a25e"/>
<path class="ma" d="M272.8 171.7L279.8 181.4M272.8 171.7L278.2 169.7M279.8 181.4L285.4 179.5"/>
<path d="M73.5 175.9l11.2-5.8 3.7 5.2-11.4 5.4z" color="#f08b4d"/>
<path class="ma" d="M84.7 170.1L88.4 175.3M73.5 175.9L84.7 170.1M77 180.7L88.4 175.3"/>
<path d="M189.8 170.3l5.5 .8 5.8 9.9-5.7-.6z" color="#f7c676"/>
<path class="ma" d="M189.8 170.3L195.3 171.1M195.4 180.4L201.1 181"/>
<path d="M62.3 181.5l11.2-5.6 3.5 4.8-11.5 5.4z" color="#ef8c4d"/>
<path class="ma" d="M62.3 181.5L65.5 186.1M62.3 181.5L73.5 175.9M65.5 186.1L77 180.7"/>
<path d="M51 186.6l11.3-5.1 3.2 4.6-11.5 5.1z" color="#ef8d4e"/>
<path class="ma" d="M62.3 181.5L65.5 186.1M51 186.6L62.3 181.5M54 191.2L65.5 186.1"/>
<path d="M39.7 191.2l11.3-4.6 3 4.6-11.5 4.7z" color="#ef8f50"/>
<path class="ma" d="M39.7 191.2L51 186.6M42.5 195.9L54 191.2"/>
<path class="ma bd" d="M39.7 191.2L42.5 195.9"/>
<path d="M267.3 173.5l5.5-1.8 7 9.7-5.5 1.8z" color="#f7a45e"/>
<path class="ma" d="M272.8 171.7L279.8 181.4M267.3 173.5L272.8 171.7M274.3 183.2L279.8 181.4"/>
<path d="M184.3 169.4l5.5 .9 5.6 10.1-5.6-.9z" color="#f7c878"/>
<path class="ma" d="M184.3 169.4L189.8 170.3M189.8 179.5L195.4 180.4"/>
<path d="M261.8 175.2l5.5-1.7 7 9.7-5.6 1.7z" color="#f7a560"/>
<path class="ma" d="M261.8 175.2L267.3 173.5M268.7 184.9L274.3 183.2"/>
<path d="M178.7 168.3l5.6 1.1 5.5 10.1-5.6-1z" color="#f7ca79"/>
<path class="ma" d="M178.7 168.3L184.2 178.5M178.7 168.3L184.3 169.4M184.2 178.5L189.8 179.5"/>
<path d="M334.8 164.8l10.8-.5 8.4 7.9-11 1.2z" color="#f7b369"/>
<path class="ma" d="M345.6 164.3L354 172.2M334.8 164.8L345.6 164.3"/>
<path class="ma bd" d="M343 173.4L354 172.2"/>
<path d="M256.4 176.7l5.4-1.5 6.9 9.7-5.5 1.5z" color="#f7a761"/>
<path class="ma" d="M256.4 176.7L261.8 175.2M263.2 186.4L268.7 184.9"/>
<path d="M250.9 178.1l5.5-1.4 6.8 9.7-5.6 1.3z" color="#f7aa63"/>
<path class="ma" d="M250.9 178.1L257.6 187.7M250.9 178.1L256.4 176.7M257.6 187.7L263.2 186.4"/>
<path d="M173.2 167.1l5.5 1.2 5.5 10.2-5.7-1.1z" color="#f7cb7a"/>
<path class="ma" d="M178.7 168.3L184.2 178.5M173.2 167.1L178.7 168.3M178.5 177.4L184.2 178.5"/>
<path d="M245.4 179.2l5.5-1.1 6.7 9.6-5.6 1.2z" color="#f7ac64"/>
<path class="ma" d="M250.9 178.1L257.6 187.7M245.4 179.2L250.9 178.1M252 188.9L257.6 187.7"/>
<path d="M167.6 165.9l5.6 1.2 5.3 10.3-5.6-1.2z" color="#f7cc7b"/>
<path class="ma" d="M167.6 165.9L173.2 167.1M172.9 176.2L178.5 177.4"/>
<path d="M323.9 166.7l10.9-1.9 8.2 8.6-11 2.4z" color="#f7ac64"/>
<path class="ma" d="M323.9 166.7L332 175.8M323.9 166.7L334.8 164.8"/>
<path class="ma bd" d="M332 175.8L343 173.4"/>
<path d="M239.9 180.2l5.5-1 6.6 9.7-5.6 .9z" color="#f7af66"/>
<path class="ma" d="M239.9 180.2L245.4 179.2M246.4 189.8L252 188.9"/>
<path d="M162 164.6l5.6 1.3 5.3 10.3-5.7-1.2z" color="#f7cd7b"/>
<path class="ma" d="M162 164.6L167.6 165.9M167.2 175L172.9 176.2"/>
<path d="M234.4 180.9l5.5-.7 6.5 9.6-5.6 .8z" color="#f7b168"/>
<path class="ma" d="M234.4 180.9L239.9 180.2M240.8 190.6L246.4 189.8"/>
<path d="M318.4 168.1l5.5-1.4 8.1 9.1-5.6 1.6z" color="#f7a761"/>
<path class="ma" d="M323.9 166.7L332 175.8M318.4 168.1L323.9 166.7"/>
<path class="ma bd" d="M326.4 177.4L332 175.8"/>
<path d="M156.4 163.4l5.6 1.2 5.2 10.4-5.7-1.2z" color="#f7cc7b"/>
<path class="ma" d="M156.4 163.4L161.5 173.8M156.4 163.4L162 164.6M161.5 173.8L167.2 175"/>
<path d="M228.9 181.5l5.5-.6 6.4 9.7-5.6 .5z" color="#f7b46a"/>
<path class="ma" d="M228.9 181.5L235.2 191.1M228.9 181.5L234.4 180.9M235.2 191.1L240.8 190.6"/>
<path d="M313 169.7l5.4-1.6 8 9.3-5.6 1.8z" color="#f7a45f"/>
<path class="ma" d="M313 169.7L318.4 168.1"/>
<path class="ma bd" d="M320.8 179.2L326.4 177.4"/>
<path d="M150.8 162.4l5.6 1 5.1 10.4-5.7-1z" color="#f7cb7a"/>
<path class="ma" d="M156.4 163.4L161.5 173.8M150.8 162.4L156.4 163.4M155.8 172.8L161.5 173.8"/>
<path d="M223.3 181.8l5.6-.3 6.3 9.6-5.6 .4z" color="#f7b76c"/>
<path class="ma" d="M228.9 181.5L235.2 191.1M223.3 181.8L228.9 181.5M229.6 191.5L235.2 191.1"/>
<path d="M307.5 171.5l5.5-1.8 7.8 9.5-5.5 1.9z" color="#f7a35e"/>
<path class="ma" d="M307.5 171.5L313 169.7"/>
<path class="ma bd" d="M315.3 181.1L320.8 179.2"/>
<path d="M145.1 161.7l5.7 .7 5 10.4-5.8-.9z" color="#f7c878"/>
<path class="ma" d="M145.1 161.7L150.8 162.4M150 171.9L155.8 172.8"/>
<path d="M217.8 181.9l5.5-.1 6.3 9.7-5.6 .1z" color="#f7ba6e"/>
<path class="ma" d="M217.8 181.9L223.3 181.8M224 191.6L229.6 191.5"/>
<path d="M302 173.5l5.5-2 7.8 9.6-5.6 2z" color="#f7a15d"/>
<path class="ma" d="M302 173.5L309.7 183.1M302 173.5L307.5 171.5"/>
<path class="ma bd" d="M309.7 183.1L315.3 181.1"/>
<path d="M139.5 161.2l5.6 .5 4.9 10.2-5.7-.7z" color="#f7c475"/>
<path class="ma" d="M139.5 161.2L145.1 161.7M144.3 171.2L150 171.9"/>
<path d="M212.2 181.8l5.6 .1 6.2 9.7-5.7 0z" color="#f7bd70"/>
<path class="ma" d="M212.2 181.8L217.8 181.9M218.3 191.6L224 191.6"/>
<path d="M296.4 175.5l5.6-2 7.7 9.6-5.6 2.1z" color="#f7a15c"/>
<path class="ma" d="M302 173.5L309.7 183.1M296.4 175.5L302 173.5"/>
<path class="ma bd" d="M304.1 185.2L309.7 183.1"/>
<path d="M133.8 161.2l5.7 0 4.8 10-5.8-.3z" color="#f7bf71"/>
<path class="ma" d="M133.8 161.2L138.5 170.9M133.8 161.2L139.5 161.2M138.5 170.9L144.3 171.2"/>
<path d="M206.6 181.5l5.6 .3 6.1 9.8-5.7-.3z" color="#f7bf72"/>
<path class="ma" d="M206.6 181.5L212.6 191.3M206.6 181.5L212.2 181.8M212.6 191.3L218.3 191.6"/>
<path d="M290.9 177.5l5.5-2 7.7 9.7-5.7 2z" color="#f7a15c"/>
<path class="ma" d="M290.9 177.5L296.4 175.5"/>
<path class="ma bd" d="M298.4 187.2L304.1 185.2"/>
<path d="M122.5 162.5l11.3-1.3 4.7 9.7-11.5 .4z" color="#f7b56b"/>
<path class="ma" d="M133.8 161.2L138.5 170.9M122.5 162.5L133.8 161.2M127 171.3L138.5 170.9"/>
<path d="M285.4 179.5l5.5-2 7.5 9.7-5.6 2z" color="#f7a15d"/>
<path class="ma" d="M285.4 179.5L290.9 177.5"/>
<path class="ma bd" d="M292.8 189.2L298.4 187.2"/>
<path d="M201.1 181l5.5 .5 6 9.8-5.6-.4z" color="#f7c274"/>
<path class="ma" d="M206.6 181.5L212.6 191.3M201.1 181L206.6 181.5M207 190.9L212.6 191.3"/>
<path d="M111.1 165.6l11.4-3.1 4.5 8.8-11.6 2.1z" color="#f7a761"/>
<path class="ma" d="M111.1 165.6L115.4 173.4M111.1 165.6L122.5 162.5M115.4 173.4L127 171.3"/>
<path d="M279.8 181.4l5.6-1.9 7.4 9.7-5.6 1.9z" color="#f7a25d"/>
<path class="ma" d="M279.8 181.4L287.2 191.1M279.8 181.4L285.4 179.5"/>
<path class="ma bd" d="M287.2 191.1L292.8 189.2"/>
<path d="M195.4 180.4l5.7 .6 5.9 9.9-5.7-.6z" color="#f7c475"/>
<path class="ma" d="M195.4 180.4L201.1 181M201.3 190.3L207 190.9"/>
<path d="M99.7 170.1l11.4-4.5 4.3 7.8-11.6 3.5z" color="#f79b58"/>
<path class="ma" d="M111.1 165.6L115.4 173.4M99.7 170.1L111.1 165.6M103.8 176.9L115.4 173.4"/>
<path d="M274.3 183.2l5.5-1.8 7.4 9.7-5.7 1.8z" color="#f7a35e"/>
<path class="ma" d="M279.8 181.4L287.2 191.1M274.3 183.2L279.8 181.4"/>
<path class="ma bd" d="M281.5 192.9L287.2 191.1"/>
<path d="M88.4 175.3l11.3-5.2 4.1 6.8-11.6 4.4z" color="#f69453"/>
<path class="ma" d="M88.4 175.3L92.2 181.3M88.4 175.3L99.7 170.1M92.2 181.3L103.8 176.9"/>
<path d="M189.8 179.5l5.6 .9 5.9 9.9-5.7-.8z" color="#f7c677"/>
<path class="ma" d="M189.8 179.5L195.4 180.4M195.6 189.5L201.3 190.3"/>
<path d="M77 180.7l11.4-5.4 3.8 6-11.6 4.9z" color="#f39050"/>
<path class="ma" d="M88.4 175.3L92.2 181.3M77 180.7L88.4 175.3M80.6 186.2L92.2 181.3"/>
<path d="M65.5 186.1l11.5-5.4 3.6 5.5-11.7 5.1z" color="#f18f4f"/>
<path class="ma" d="M65.5 186.1L68.9 191.3M65.5 186.1L77 180.7M68.9 191.3L80.6 186.2"/>
<path d="M268.7 184.9l5.6-1.7 7.2 9.7-5.6 1.6z" color="#f7a55f"/>
<path class="ma" d="M268.7 184.9L274.3 183.2"/>
<path class="ma bd" d="M275.9 194.5L281.5 192.9"/>
<path d="M54 191.2l11.5-5.1 3.4 5.2-11.7 4.9z" color="#f18f50"/>
<path class="ma" d="M65.5 186.1L68.9 191.3M54 191.2L65.5 186.1M57.2 196.2L68.9 191.3"/>
<path d="M42.5 195.9l11.5-4.7 3.2 5-11.7 4.7z" color="#f19151"/>
<path class="ma" d="M42.5 195.9L54 191.2M45.5 200.9L57.2 196.2"/>
<path class="ma bd" d="M42.5 195.9L45.5 200.9"/>
<path d="M184.2 178.5l5.6 1 5.8 10-5.8-.9z" color="#f7c878"/>
<path class="ma" d="M184.2 178.5L189.8 188.6M184.2 178.5L189.8 179.5M189.8 188.6L195.6 189.5"/>
<path d="M263.2 186.4l5.5-1.5 7.2 9.6-5.7 1.5z" color="#f7a761"/>
<path class="ma" d="M263.2 186.4L268.7 184.9"/>
<path class="ma bd" d="M270.2 196L275.9 194.5"/>
<path d="M257.6 187.7l5.6-1.3 7 9.6-5.6 1.4z" color="#f7a962"/>
<path class="ma" d="M257.6 187.7L264.6 197.4M257.6 187.7L263.2 186.4"/>
<path class="ma bd" d="M264.6 197.4L270.2 196"/>
<path d="M178.5 177.4l5.7 1.1 5.6 10.1-5.7-1.1z" color="#f7c979"/>
<path class="ma" d="M184.2 178.5L189.8 188.6M178.5 177.4L184.2 178.5M184.1 187.5L189.8 188.6"/>
<path d="M252 188.9l5.6-1.2 7 9.7-5.7 1.1z" color="#f7ac64"/>
<path class="ma" d="M257.6 187.7L264.6 197.4M252 188.9L257.6 187.7"/>
<path class="ma bd" d="M258.9 198.5L264.6 197.4"/>
<path d="M172.9 176.2l5.6 1.2 5.6 10.1-5.8-1.1z" color="#f7ca7a"/>
<path class="ma" d="M172.9 176.2L178.5 177.4M178.3 186.4L184.1 187.5"/>
<path d="M246.4 189.8l5.6-.9 6.9 9.6-5.7 1z" color="#f7ae66"/>
<path class="ma" d="M246.4 189.8L252 188.9"/>
<path class="ma bd" d="M253.2 199.5L258.9 198.5"/>
<path d="M167.2 175l5.7 1.2 5.4 10.2-5.8-1.2z" color="#f7cb7a"/>
<path class="ma" d="M167.2 175L172.9 176.2M172.5 185.2L178.3 186.4"/>
<path d="M240.8 190.6l5.6-.8 6.8 9.7-5.7 .8z" color="#f7b168"/>
<path class="ma" d="M240.8 190.6L246.4 189.8"/>
<path class="ma bd" d="M247.5 200.3L253.2 199.5"/>
<path d="M161.5 173.8l5.7 1.2 5.3 10.2-5.8-1.1z" color="#f7cb7a"/>
<path class="ma" d="M161.5 173.8L166.7 184.1M161.5 173.8L167.2 175M166.7 184.1L172.5 185.2"/>
<path d="M235.2 191.1l5.6-.5 6.7 9.7-5.7 .5z" color="#f7b46a"/>
<path class="ma" d="M235.2 191.1L241.8 200.8M235.2 191.1L240.8 190.6"/>
<path class="ma bd" d="M241.8 200.8L247.5 200.3"/>
<path d="M155.8 172.8l5.7 1 5.2 10.3-5.8-1.2z" color="#f7ca79"/>
<path class="ma" d="M161.5 173.8L166.7 184.1M155.8 172.8L161.5 173.8M160.9 182.9L166.7 184.1"/>
<path d="M229.6 191.5l5.6-.4 6.6 9.7-5.7 .4z" color="#f7b66b"/>
<path class="ma" d="M235.2 191.1L241.8 200.8M229.6 191.5L235.2 191.1"/>
<path class="ma bd" d="M236.1 201.2L241.8 200.8"/>
<path d="M150 171.9l5.8 .9 5.1 10.1-5.8-.9z" color="#f7c878"/>
<path class="ma" d="M150 171.9L155.8 172.8M155.1 182L160.9 182.9"/>
<path d="M224 191.6l5.6-.1 6.5 9.7-5.7 .2z" color="#f7b96d"/>
<path class="ma" d="M224 191.6L229.6 191.5"/>
<path class="ma bd" d="M230.4 201.4L236.1 201.2"/>
<path d="M144.3 171.2l5.7 .7 5.1 10.1-5.9-.8z" color="#f7c576"/>
<path class="ma" d="M144.3 171.2L150 171.9M149.2 181.2L155.1 182"/>
<path d="M218.3 191.6l5.7 0 6.4 9.8-5.8 0z" color="#f7bb6f"/>
<path class="ma" d="M218.3 191.6L224 191.6"/>
<path class="ma bd" d="M224.6 201.4L230.4 201.4"/>
<path d="M138.5 170.9l5.8 .3 4.9 10-5.8-.6z" color="#f7c173"/>
<path class="ma" d="M138.5 170.9L143.4 180.6M138.5 170.9L144.3 171.2M143.4 180.6L149.2 181.2"/>
<path d="M212.6 191.3l5.7 .3 6.3 9.8-5.7-.2z" color="#f7be71"/>
<path class="ma" d="M212.6 191.3L218.9 201.2M212.6 191.3L218.3 191.6"/>
<path class="ma bd" d="M218.9 201.2L224.6 201.4"/>
<path d="M127 171.3l11.5-.4 4.9 9.7-11.8-.2z" color="#f7ba6e"/>
<path class="ma" d="M138.5 170.9L143.4 180.6M127 171.3L138.5 170.9M131.6 180.4L143.4 180.6"/>
<path d="M207 190.9l5.6 .4 6.3 9.9-5.8-.4z" color="#f7c073"/>
<path class="ma" d="M212.6 191.3L218.9 201.2M207 190.9L212.6 191.3"/>
<path class="ma bd" d="M213.1 200.8L218.9 201.2"/>
<path d="M201.3 190.3l5.7 .6 6.1 9.9-5.8-.6z" color="#f7c374"/>
<path class="ma" d="M201.3 190.3L207 190.9"/>
<path class="ma bd" d="M207.3 200.2L213.1 200.8"/>
<path d="M115.4 173.4l11.6-2.1 4.6 9.1-11.8 1.3z" color="#f7ae65"/>
<path class="ma" d="M115.4 173.4L119.8 181.7M115.4 173.4L127 171.3M119.8 181.7L131.6 180.4"/>
<path d="M103.8 176.9l11.6-3.5 4.4 8.3-11.8 2.6z" color="#f7a25d"/>
<path class="ma" d="M115.4 173.4L119.8 181.7M103.8 176.9L115.4 173.4M108 184.3L119.8 181.7"/>
<path d="M195.6 189.5l5.7 .8 6 9.9-5.8-.8z" color="#f7c575"/>
<path class="ma" d="M195.6 189.5L201.3 190.3"/>
<path class="ma bd" d="M201.5 199.4L207.3 200.2"/>
<path d="M92.2 181.3l11.6-4.4 4.2 7.4-11.8 3.7z" color="#f79a57"/>
<path class="ma" d="M92.2 181.3L96.2 188M92.2 181.3L103.8 176.9M96.2 188L108 184.3"/>
<path d="M80.6 186.2l11.6-4.9 4 6.7-11.9 4.3z" color="#f69554"/>
<path class="ma" d="M92.2 181.3L96.2 188M80.6 186.2L92.2 181.3M84.3 192.3L96.2 188"/>
<path d="M189.8 188.6l5.8 .9 5.9 9.9-5.8-.8z" color="#f7c677"/>
<path class="ma" d="M189.8 188.6L195.7 198.6M189.8 188.6L195.6 189.5"/>
<path class="ma bd" d="M195.7 198.6L201.5 199.4"/>
<path d="M68.9 191.3l11.7-5.1 3.7 6.1-11.9 4.7z" color="#f49252"/>
<path class="ma" d="M68.9 191.3L72.4 197M68.9 191.3L80.6 186.2M72.4 197L84.3 192.3"/>
<path d="M57.2 196.2l11.7-4.9 3.5 5.7-11.9 4.8z" color="#f29151"/>
<path class="ma" d="M68.9 191.3L72.4 197M57.2 196.2L68.9 191.3M60.5 201.8L72.4 197"/>
<path d="M45.5 200.9l11.7-4.7 3.3 5.6-12 4.6z" color="#f29252"/>
<path class="ma" d="M45.5 200.9L57.2 196.2M48.5 206.4L60.5 201.8"/>
<path class="ma bd" d="M45.5 200.9L48.5 206.4"/>
<path d="M184.1 187.5l5.7 1.1 5.9 10-5.9-1z" color="#f7c878"/>
<path class="ma" d="M189.8 188.6L195.7 198.6M184.1 187.5L189.8 188.6"/>
<path class="ma bd" d="M189.8 197.6L195.7 198.6"/>
<path d="M178.3 186.4l5.8 1.1 5.7 10.1-5.8-1.1z" color="#f7c978"/>
<path class="ma" d="M178.3 186.4L184.1 187.5"/>
<path class="ma bd" d="M184 196.5L189.8 197.6"/>
<path d="M172.5 185.2l5.8 1.2 5.7 10.1-5.9-1.2z" color="#f7c979"/>
<path class="ma" d="M172.5 185.2L178.3 186.4"/>
<path class="ma bd" d="M178.1 195.3L184 196.5"/>
<path d="M166.7 184.1l5.8 1.1 5.6 10.1-5.9-1.1z" color="#f7ca79"/>
<path class="ma" d="M166.7 184.1L172.2 194.2M166.7 184.1L172.5 185.2"/>
<path class="ma bd" d="M172.2 194.2L178.1 195.3"/>
<path d="M160.9 182.9l5.8 1.2 5.5 10.1-5.9-1.2z" color="#f7c979"/>
<path class="ma" d="M166.7 184.1L172.2 194.2M160.9 182.9L166.7 184.1"/>
<path class="ma bd" d="M166.3 193L172.2 194.2"/>
<path d="M155.1 182l5.8 .9 5.4 10.1-5.9-1z" color="#f7c878"/>
<path class="ma" d="M155.1 182L160.9 182.9"/>
<path class="ma bd" d="M160.4 192L166.3 193"/>
<path d="M149.2 181.2l5.9 .8 5.3 10-6-.9z" color="#f7c676"/>
<path class="ma" d="M149.2 181.2L155.1 182"/>
<path class="ma bd" d="M154.4 191.1L160.4 192"/>
<path d="M143.4 180.6l5.8 .6 5.2 9.9-6-.7z" color="#f7c374"/>
<path class="ma" d="M143.4 180.6L148.4 190.4M143.4 180.6L149.2 181.2"/>
<path class="ma bd" d="M148.4 190.4L154.4 191.1"/>
<path d="M131.6 180.4l11.8 .2 5 9.8-11.9-.7z" color="#f7bd70"/>
<path class="ma" d="M143.4 180.6L148.4 190.4M131.6 180.4L143.4 180.6"/>
<path class="ma bd" d="M136.5 189.7L148.4 190.4"/>
<path d="M119.8 181.7l11.8-1.3 4.9 9.3-12 .6z" color="#f7b369"/>
<path class="ma" d="M119.8 181.7L124.5 190.3M119.8 181.7L131.6 180.4"/>
<path class="ma bd" d="M124.5 190.3L136.5 189.7"/>
<path d="M108 184.3l11.8-2.6 4.7 8.6-12.1 1.9z" color="#f7a862"/>
<path class="ma" d="M119.8 181.7L124.5 190.3M108 184.3L119.8 181.7"/>
<path class="ma bd" d="M112.4 192.2L124.5 190.3"/>
<path d="M96.2 188l11.8-3.7 4.4 7.9-12.1 3z" color="#f79f5b"/>
<path class="ma" d="M96.2 188L100.3 195.2M96.2 188L108 184.3"/>
<path class="ma bd" d="M100.3 195.2L112.4 192.2"/>
<path d="M84.3 192.3l11.9-4.3 4.1 7.2-12.1 3.8z" color="#f79957"/>
<path class="ma" d="M96.2 188L100.3 195.2M84.3 192.3L96.2 188"/>
<path class="ma bd" d="M88.2 199L100.3 195.2"/>
<path d="M72.4 197l11.9-4.7 3.9 6.7-12.1 4.3z" color="#f59654"/>
<path class="ma" d="M72.4 197L76.1 203.3M72.4 197L84.3 192.3"/>
<path class="ma bd" d="M76.1 203.3L88.2 199"/>
<path d="M60.5 201.8l11.9-4.8 3.7 6.3-12.1 4.5z" color="#f49453"/>
<path class="ma" d="M72.4 197L76.1 203.3M60.5 201.8L72.4 197"/>
<path class="ma bd" d="M64 207.8L76.1 203.3"/>
<path d="M48.5 206.4l12-4.6 3.5 6-12.3 4.5z" color="#f39453"/>
<path class="ma" d="M48.5 206.4L60.5 201.8"/>
<path class="ma bd" d="M48.5 206.4L51.7 212.3M51.7 212.3L64 207.8"/>
</g>
<path class="bx" d="M1 36.8L303.1 22.7M1 36.8L41.1 111.9M303.1 22.7L432.7 87.7M41.1 111.9L432.7 87.7M6.4 159.3L1 36.8M46.9 271.1L41.1 111.9M425.5 235.6L432.7 87.7M6.4 159.3L46.9 271.1M46.9 271.1L425.5 235.6"/>
<path class="tk" d="M54.7 270.3L54.5 263.8M74.3 268.5L74.1 264.3M93.7 266.7L93.6 262.5M112.9 264.9L112.8 260.7M132 263.1L131.9 258.9M151 261.3L150.9 254.9M169.8 259.6L169.7 255.4M188.4 257.8L188.4 253.7M207 256.1L207 252M225.3 254.4L225.4 250.3M243.6 252.7L243.6 246.4M261.7 251L261.7 246.9M279.7 249.3L279.7 245.2M297.5 247.6L297.6 243.6M315.2 246L315.3 241.9M332.8 244.3L333 238.1M350.2 242.7L350.4 238.7M367.6 241.1L367.7 237.1M384.8 239.5L384.9 235.5M401.8 237.9L402 233.9M418.8 236.3L419.1 230.2M305 23.7L304.9 28.7M314.9 28.6L314.8 32M325.2 33.8L325.1 37.2M336 39.2L335.9 42.7M347.3 44.9L347.2 48.5M359.3 50.9L359.1 56.6M371.9 57.2L371.7 60.9M385.1 63.8L384.9 67.7M399.1 70.8L398.9 74.8M413.8 78.2L413.7 82.3M429.5 86.1L429.2 92.5M426 224.7L422.2 225.1M426.6 213.8L422.7 214.1M427.1 202.8L423.2 203.1M427.7 191.7L423.8 192M428.7 169.4L424.8 169.7M429.3 158.1L425.4 158.4M429.8 146.9L425.9 147.1M430.4 135.5L426.4 135.8M431.5 112.6L427.5 112.9M432.1 101.1L428.1 101.4M432.6 89.5L428.6 89.8M425.5 235.6L419.5 236.2M428.2 180.6L422.2 181.1M430.9 124.1L424.8 124.5"/>
<path class="bx" d="M12.7 506.7L320 491.1M320 491.1L438.3 582.4M320 491.1L322.3 369.9"/>
<g filter="url(#bl)">
<path d="M307.3 490.3l8.9 .4 1.8 1.1-8.9-.4z" color="#a4b965"/>
<path class="mb bd" d="M316.2 490.7L318 491.8M307.3 490.3L316.2 490.7"/>
<path d="M298.5 489.8l8.8 .5 1.8 1.1-8.9-.6z" color="#a4b965"/>
<path class="mb" d="M298.5 489.8L300.2 490.8"/>
<path class="mb bd" d="M298.5 489.8L307.3 490.3"/>
<path d="M289.6 489.1l8.9 .7 1.7 1-8.9-.7z" color="#a3ba64"/>
<path class="mb" d="M298.5 489.8L300.2 490.8"/>
<path class="mb bd" d="M289.6 489.1L298.5 489.8"/>
<path d="M309.1 491.4l8.9 .4 1.8 1.1-8.9-.4z" color="#a4b965"/>
<path class="mb bd" d="M318 491.8L319.8 492.9"/>
<path d="M280.7 488.2l8.9 .9 1.7 1-9-.9z" color="#a3ba64"/>
<path class="mb" d="M280.7 488.2L282.3 489.2"/>
<path class="mb bd" d="M280.7 488.2L289.6 489.1"/>
<path d="M300.2 490.8l8.9 .6 1.8 1.1-8.9-.6z" color="#a4ba65"/>
<path class="mb" d="M300.2 490.8L302 491.9"/>
<path d="M291.3 490.1l8.9 .7 1.8 1.1-9-.7z" color="#a3ba64"/>
<path class="mb" d="M300.2 490.8L302 491.9"/>
<path d="M310.9 492.5l8.9 .4 1.9 1.2-9-.5z" color="#a4b965"/>
<path class="mb" d="M312.7 493.6L321.7 494.1"/>
<path class="mb bd" d="M319.8 492.9L321.7 494.1"/>
<path d="M282.3 489.2l9 .9 1.7 1.1-9-1z" color="#a2ba64"/>
<path class="mb" d="M282.3 489.2L284 490.2"/>
<path d="M302 491.9l8.9 .6 1.8 1.1-9-.6z" color="#a3ba64"/>
<path class="mb" d="M302 491.9L303.7 493M303.7 493L312.7 493.6"/>
<path d="M293 491.2l9 .7 1.7 1.1-9-.8z" color="#a3ba64"/>
<path class="mb" d="M302 491.9L303.7 493M294.7 492.2L303.7 493"/>
<path d="M312.7 493.6l9 .5 1.8 1.1-9-.5z" color="#a4ba65"/>
<path class="mb" d="M312.7 493.6L321.7 494.1"/>
<path class="mb bd" d="M321.7 494.1L323.5 495.2"/>
<path d="M284 490.2l9 1 1.7 1-9-.9z" color="#a2ba64"/>
<path class="mb" d="M284 490.2L285.7 491.3M285.7 491.3L294.7 492.2"/>
<path d="M303.7 493l9 .6 1.8 1.1-9-.6z" color="#a3ba64"/>
<path class="mb" d="M303.7 493L305.5 494.1M303.7 493L312.7 493.6"/>
<path d="M294.7 492.2l9 .8 1.8 1.1-9-.8z" color="#a3ba64"/>
<path class="mb" d="M303.7 493L305.5 494.1M294.7 492.2L303.7 493"/>
<path d="M314.5 494.7l9 .5 1.9 1.2-9-.5z" color="#a4ba65"/>
<path class="mb bd" d="M323.5 495.2L325.4 496.4"/>
<path d="M285.7 491.3l9 .9 1.8 1.1-9.1-1z" color="#a2ba64"/>
<path class="mb" d="M285.7 491.3L287.4 492.3M285.7 491.3L294.7 492.2"/>
<path d="M305.5 494.1l9 .6 1.9 1.2-9.1-.7z" color="#a3ba64"/>
<path class="mb" d="M305.5 494.1L307.3 495.2"/>
<path d="M316.4 495.9l9 .5 1.9 1.2-9-.6z" color="#a4ba65"/>
<path class="mb" d="M318.3 497L327.3 497.6"/>
<path class="mb bd" d="M325.4 496.4L327.3 497.6"/>
<path d="M296.5 493.3l9 .8 1.8 1.1-9.1-.9z" color="#a3ba64"/>
<path class="mb" d="M305.5 494.1L307.3 495.2"/>
<path d="M287.4 492.3l9.1 1 1.7 1-9.1-1z" color="#a2ba64"/>
<path class="mb" d="M287.4 492.3L289.1 493.3"/>
<path d="M307.3 495.2l9.1 .7 1.9 1.1-9.1-.7z" color="#a3ba64"/>
<path class="mb" d="M307.3 495.2L309.2 496.3M309.2 496.3L318.3 497"/>
<path d="M318.3 497l9 .6 1.9 1.1-9.1-.6z" color="#a4ba65"/>
<path class="mb" d="M318.3 497L327.3 497.6"/>
<path class="mb bd" d="M327.3 497.6L329.2 498.7"/>
<path d="M298.2 494.3l9.1 .9 1.9 1.1-9.2-.9z" color="#a3ba64"/>
<path class="mb" d="M307.3 495.2L309.2 496.3M300 495.4L309.2 496.3"/>
<path d="M289.1 493.3l9.1 1 1.8 1.1-9.1-1.1z" color="#a2ba63"/>
<path class="mb" d="M289.1 493.3L290.9 494.3M290.9 494.3L300 495.4"/>
<path d="M309.2 496.3l9.1 .7 1.8 1.1-9.1-.7z" color="#a3ba64"/>
<path class="mb" d="M309.2 496.3L311 497.4M309.2 496.3L318.3 497"/>
<path d="M320.1 498.1l9.1 .6 2 1.2-9.2-.6z" color="#a4ba65"/>
<path class="mb bd" d="M329.2 498.7L331.2 499.9"/>
<path d="M300 495.4l9.2 .9 1.8 1.1-9.2-1z" color="#a2ba64"/>
<path class="mb" d="M309.2 496.3L311 497.4M300 495.4L309.2 496.3"/>
<path d="M311 497.4l9.1 .7 1.9 1.2-9.1-.8z" color="#a3ba64"/>
<path class="mb" d="M311 497.4L312.9 498.5"/>
<path d="M290.9 494.3l9.1 1.1 1.8 1-9.2-1.1z" color="#a2ba63"/>
<path class="mb" d="M290.9 494.3L292.6 495.3M290.9 494.3L300 495.4"/>
<path d="M119.6 479l4.7-3.2 .9 .7-4.7 3.3z" color="#a08953"/>
<path class="mb bd" d="M119.6 479L124.3 475.8"/>
<path d="M114.9 481.7l4.7-2.7 .9 .8-4.7 2.7z" color="#a39257"/>
<path class="mb" d="M114.9 481.7L115.8 482.5"/>
<path class="mb bd" d="M114.9 481.7L119.6 479"/>
<path d="M124.3 475.8l4.7-3.8 .9 .6-4.7 3.9z" color="#9d7f4d"/>
<path class="mb bd" d="M124.3 475.8L129 472"/>
<path d="M110.2 484l4.7-2.3 .9 .8-4.7 2.4z" color="#a5985b"/>
<path class="mb" d="M114.9 481.7L115.8 482.5"/>
<path class="mb bd" d="M110.2 484L114.9 481.7"/>
<path d="M105.5 486l4.7-2 .9 .9-4.8 2.1z" color="#a69e5e"/>
<path class="mb bd" d="M105.5 486L110.2 484"/>
<path d="M322 499.3l9.2 .6 2 1.2-9.2-.7z" color="#a3ba65"/>
<path class="mb" d="M324 500.4L333.2 501.1"/>
<path class="mb bd" d="M331.2 499.9L333.2 501.1"/>
<path d="M100.8 487.9l4.7-1.9 .8 1-4.7 1.8z" color="#a7a260"/>
<path class="mb bd" d="M100.8 487.9L105.5 486"/>
<path d="M301.8 496.4l9.2 1 1.9 1.1-9.3-1z" color="#a2ba64"/>
<path class="mb" d="M311 497.4L312.9 498.5"/>
<path d="M96 489.5l4.8-1.6 .8 .9-4.8 1.7z" color="#a8a662"/>
<path class="mb" d="M96 489.5L96.8 490.5"/>
<path class="mb bd" d="M96 489.5L100.8 487.9"/>
<path d="M86.5 492.5l9.5-3 .8 1-9.5 3z" color="#a8a862"/>
<path class="mb" d="M96 489.5L96.8 490.5"/>
<path class="mb bd" d="M86.5 492.5L96 489.5"/>
<path d="M77 495l9.5-2.5 .8 1-9.6 2.6z" color="#a8aa63"/>
<path class="mb" d="M77 495L77.7 496.1"/>
<path class="mb bd" d="M77 495L86.5 492.5"/>
<path d="M67.5 497.3l9.5-2.3 .7 1.1-9.6 2.3z" color="#a7ab63"/>
<path class="mb" d="M77 495L77.7 496.1"/>
<path class="mb bd" d="M67.5 497.3L77 495"/>
<path d="M57.9 499.3l9.6-2 .6 1.1-9.6 2.1z" color="#a7ad63"/>
<path class="mb" d="M57.9 499.3L58.5 500.5"/>
<path class="mb bd" d="M57.9 499.3L67.5 497.3"/>
<path d="M48.3 501.2l9.6-1.9 .6 1.2-9.7 1.8z" color="#a7ae64"/>
<path class="mb" d="M57.9 499.3L58.5 500.5"/>
<path class="mb bd" d="M48.3 501.2L57.9 499.3"/>
<path d="M38.6 502.8l9.7-1.6 .5 1.1-9.7 1.7z" color="#a7af64"/>
<path class="mb" d="M38.6 502.8L39.1 504"/>
<path class="mb bd" d="M38.6 502.8L48.3 501.2"/>
<path d="M312.9 498.5l9.1 .8 2 1.1-9.3-.8z" color="#a3ba64"/>
<path class="mb" d="M312.9 498.5L314.7 499.6M314.7 499.6L324 500.4"/>
<path d="M292.6 495.3l9.2 1.1 1.8 1.1-9.2-1.3z" color="#a1ba63"/>
<path class="mb" d="M292.6 495.3L294.4 496.2"/>
<path d="M28.9 504.3l9.7-1.5 .5 1.2-9.7 1.6z" color="#a7b064"/>
<path class="mb" d="M38.6 502.8L39.1 504"/>
<path class="mb bd" d="M28.9 504.3L38.6 502.8"/>
<path d="M19.2 505.7l9.7-1.4 .5 1.3-9.8 1.4z" color="#a7b165"/>
<path class="mb bd" d="M19.2 505.7L19.6 507M19.2 505.7L28.9 504.3"/>
<path d="M152.1 430.4l4.6-15.6 1.1-.6-4.6 15.5z" color="#915536"/>
<path class="mb" d="M152.1 430.4L153.2 429.7"/>
<path class="mb bd" d="M152.1 430.4L156.7 414.8"/>
<path d="M115.8 482.5l4.7-2.7 .9 .3-4.7 2.9z" color="#9f8952"/>
<path class="mb" d="M115.8 482.5L116.7 483"/>
<path d="M120.5 479.8l4.7-3.3 .9 .1-4.7 3.5z" color="#9b7e4c"/>
<path d="M324 500.4l9.2 .7 1.9 1.2-9.2-.7z" color="#a3ba65"/>
<path class="mb" d="M324 500.4L333.2 501.1"/>
<path class="mb bd" d="M333.2 501.1L335.1 502.3"/>
<path d="M111.1 484.9l4.7-2.4 .9 .5-4.8 2.5z" color="#a29256"/>
<path class="mb" d="M115.8 482.5L116.7 483"/>
<path d="M106.3 487l4.8-2.1 .8 .6-4.8 2.2z" color="#a4995a"/>
<path d="M303.6 497.5l9.3 1 1.8 1.1-9.2-1.1z" color="#a2ba64"/>
<path class="mb" d="M312.9 498.5L314.7 499.6M305.5 498.5L314.7 499.6"/>
<path d="M101.6 488.8l4.7-1.8 .8 .7-4.7 1.9z" color="#a69e5e"/>
<path d="M96.8 490.5l4.8-1.7 .8 .8-4.8 1.8z" color="#a7a360"/>
<path class="mb" d="M96.8 490.5L97.6 491.4"/>
<path d="M87.3 493.5l9.5-3 .8 .9-9.6 3z" color="#a7a661"/>
<path class="mb" d="M96.8 490.5L97.6 491.4"/>
<path d="M77.7 496.1l9.6-2.6 .7 .9-9.6 2.7z" color="#a7a962"/>
<path class="mb" d="M77.7 496.1L78.4 497.1"/>
<path d="M156.7 414.8l4.6-16.8 1.1 0-4.6 16.2z" color="#915737"/>
<path class="mb bd" d="M156.7 414.8L161.3 398"/>
<path d="M68.1 498.4l9.6-2.3 .7 1-9.7 2.3z" color="#a7ab63"/>
<path class="mb" d="M77.7 496.1L78.4 497.1"/>
<path d="M58.5 500.5l9.6-2.1 .6 1-9.6 2.2z" color="#a7ac63"/>
<path class="mb" d="M58.5 500.5L59.1 501.6"/>
<path d="M48.8 502.3l9.7-1.8 .6 1.1-9.7 1.9z" color="#a7ae63"/>
<path class="mb" d="M58.5 500.5L59.1 501.6"/>
<path d="M314.7 499.6l9.3 .8 1.9 1.2-9.3-.9z" color="#a3ba64"/>
<path class="mb" d="M314.7 499.6L316.6 500.7M314.7 499.6L324 500.4"/>
<path d="M39.1 504l9.7-1.7 .6 1.2-9.8 1.7z" color="#a7af64"/>
<path class="mb" d="M39.1 504L39.6 505.2"/>
<path d="M161.3 398l4.7-13.8 1.1 .8-4.7 13z" color="#945d3b"/>
<path class="mb bd" d="M161.3 398L166 384.2"/>
<path d="M294.4 496.2l9.2 1.3 1.9 1-9.3-1.3z" color="#a1ba63"/>
<path class="mb" d="M294.4 496.2L296.2 497.2M296.2 497.2L305.5 498.5"/>
<path d="M29.4 505.6l9.7-1.6 .5 1.2-9.8 1.6z" color="#a7b064"/>
<path class="mb" d="M39.1 504L39.6 505.2"/>
<path d="M166 384.2l4.7-5.7 1.1 1.3-4.7 5.2z" color="#9f7d4e"/>
<path class="mb" d="M170.7 378.5L171.8 379.8"/>
<path class="mb bd" d="M166 384.2L170.7 378.5"/>
<path d="M19.6 507l9.8-1.4 .4 1.2-9.8 1.4z" color="#a7b165"/>
<path class="mb bd" d="M19.6 507L20 508.2"/>
<path d="M325.9 501.6l9.2 .7 2 1.3-9.2-.8z" color="#a3ba65"/>
<path class="mb bd" d="M335.1 502.3L337.1 503.6"/>
<path d="M305.5 498.5l9.2 1.1 1.9 1.1-9.3-1.1z" color="#a2ba64"/>
<path class="mb" d="M314.7 499.6L316.6 500.7M305.5 498.5L314.7 499.6"/>
<path d="M116.7 483l4.7-2.9 .9-.2-4.8 3.3z" color="#9b804c"/>
<path class="mb" d="M116.7 483L117.5 483.2M117.5 483.2L122.3 479.9"/>
<path d="M111.9 485.5l4.8-2.5 .8 .2-4.7 2.7z" color="#9e8a52"/>
<path class="mb" d="M116.7 483L117.5 483.2M112.8 485.9L117.5 483.2"/>
<path d="M107.1 487.7l4.8-2.2 .9 .4-4.8 2.4z" color="#a19357"/>
<path class="mb" d="M108 488.3L112.8 485.9"/>
<path d="M102.4 489.6l4.7-1.9 .9 .6-4.8 2z" color="#a49a5b"/>
<path class="mb" d="M103.2 490.3L108 488.3"/>
<path d="M97.6 491.4l4.8-1.8 .8 .7-4.8 1.9z" color="#a59f5e"/>
<path class="mb" d="M97.6 491.4L98.4 492.2M98.4 492.2L103.2 490.3"/>
<path d="M88 494.4l9.6-3 .8 .8-9.7 3.1z" color="#a7a460"/>
<path class="mb" d="M97.6 491.4L98.4 492.2M88.7 495.3L98.4 492.2"/>
<path d="M78.4 497.1l9.6-2.7 .7 .9-9.6 2.8z" color="#a7a862"/>
<path class="mb" d="M78.4 497.1L79.1 498.1M79.1 498.1L88.7 495.3"/>
<path d="M68.7 499.4l9.7-2.3 .7 1-9.7 2.4z" color="#a7aa62"/>
<path class="mb" d="M78.4 497.1L79.1 498.1M69.4 500.5L79.1 498.1"/>
<path d="M157.8 414.2l4.6-16.2 1.2-1.3-4.7 14.6z" color="#8d4f32"/>
<path d="M59.1 501.6l9.6-2.2 .7 1.1-9.7 2.2z" color="#a7ac63"/>
<path class="mb" d="M59.1 501.6L59.7 502.7M59.7 502.7L69.4 500.5"/>
<path d="M49.4 503.5l9.7-1.9 .6 1.1-9.8 1.9z" color="#a7ad63"/>
<path class="mb" d="M59.1 501.6L59.7 502.7M49.9 504.6L59.7 502.7"/>
<path d="M171.8 379.8l4.8 4.9 1.2 1-4.8-3.8z" color="#9ed96a"/>
<path class="mb" d="M171.8 379.8L173 381.9"/>
<path d="M316.6 500.7l9.3 .9 2 1.2-9.3-1z" color="#a3ba64"/>
<path class="mb" d="M316.6 500.7L318.6 501.8"/>
<path d="M296.2 497.2l9.3 1.3 1.8 1.1-9.3-1.4z" color="#a1ba63"/>
<path class="mb" d="M296.2 497.2L298 498.2M296.2 497.2L305.5 498.5"/>
<path d="M39.6 505.2l9.8-1.7 .5 1.1-9.8 1.8z" color="#a7af64"/>
<path class="mb" d="M39.6 505.2L40.1 506.4M40.1 506.4L49.9 504.6"/>
<path d="M162.4 398l4.7-13 1.2 1-4.7 10.7z" color="#935c3a"/>
<path d="M29.8 506.8l9.8-1.6 .5 1.2-9.8 1.6z" color="#a7b064"/>
<path class="mb" d="M39.6 505.2L40.1 506.4M30.3 508L40.1 506.4"/>
<path d="M167.1 385l4.7-5.2 1.2 2.1-4.7 4.1z" color="#a48a56"/>
<path class="mb" d="M171.8 379.8L173 381.9"/>
<path d="M20 508.2l9.8-1.4 .5 1.2-9.9 1.5z" color="#a7b164"/>
<path class="mb" d="M20.4 509.5L30.3 508"/>
<path class="mb bd" d="M20 508.2L20.4 509.5"/>
<path d="M327.9 502.8l9.2 .8 2.1 1.2-9.4-.8z" color="#a3ba64"/>
<path class="mb" d="M329.8 504L339.2 504.8"/>
<path class="mb bd" d="M337.1 503.6L339.2 504.8"/>
<path d="M307.3 499.6l9.3 1.1 2 1.1-9.4-1.2z" color="#a2ba63"/>
<path class="mb" d="M316.6 500.7L318.6 501.8"/>
<path d="M112.8 485.9l4.7-2.7 .9-.3-4.8 3.1z" color="#9b824d"/>
<path class="mb" d="M117.5 483.2L118.4 482.9M112.8 485.9L117.5 483.2"/>
<path d="M117.5 483.2l4.8-3.3 .9-.6-4.8 3.6z" color="#977646"/>
<path class="mb" d="M117.5 483.2L118.4 482.9M117.5 483.2L122.3 479.9"/>
<path d="M108 488.3l4.8-2.4 .8 .1-4.8 2.6z" color="#9f8c52"/>
<path class="mb" d="M108 488.3L112.8 485.9"/>
<path d="M103.2 490.3l4.8-2 .8 .3-4.8 2.2z" color="#a29457"/>
<path class="mb" d="M103.2 490.3L108 488.3"/>
<path d="M98.4 492.2l4.8-1.9 .8 .5-4.8 2z" color="#a49b5b"/>
<path class="mb" d="M98.4 492.2L99.2 492.8M98.4 492.2L103.2 490.3"/>
<path d="M88.7 495.3l9.7-3.1 .8 .6-9.7 3.4z" color="#a6a25f"/>
<path class="mb" d="M98.4 492.2L99.2 492.8M88.7 495.3L98.4 492.2"/>
<path d="M79.1 498.1l9.6-2.8 .8 .9-9.7 2.8z" color="#a7a661"/>
<path class="mb" d="M79.1 498.1L79.8 499M79.1 498.1L88.7 495.3"/>
<path d="M69.4 500.5l9.7-2.4 .7 .9-9.8 2.5z" color="#a7a962"/>
<path class="mb" d="M79.1 498.1L79.8 499M69.4 500.5L79.1 498.1"/>
<path d="M59.7 502.7l9.7-2.2 .6 1-9.7 2.3z" color="#a7ab63"/>
<path class="mb" d="M59.7 502.7L60.3 503.8M59.7 502.7L69.4 500.5"/>
<path d="M158.9 411.3l4.7-14.6 1.1-.8-4.7 12.2z" color="#8d5032"/>
<path class="mb" d="M160 408.1L164.7 395.9"/>
<path d="M318.6 501.8l9.3 1 1.9 1.2-9.3-1.1z" color="#a2ba64"/>
<path class="mb" d="M318.6 501.8L320.5 502.9M320.5 502.9L329.8 504"/>
<path d="M173 381.9l4.8 3.8 1.2 1.7-4.8-2.7z" color="#a5df71"/>
<path class="mb" d="M173 381.9L174.2 384.7M174.2 384.7L179 387.4"/>
<path d="M49.9 504.6l9.8-1.9 .6 1.1-9.8 2z" color="#a7ad63"/>
<path class="mb" d="M59.7 502.7L60.3 503.8M49.9 504.6L59.7 502.7"/>
<path d="M298 498.2l9.3 1.4 1.9 1-9.4-1.5z" color="#a1ba63"/>
<path class="mb" d="M298 498.2L299.8 499.1"/>
<path d="M40.1 506.4l9.8-1.8 .6 1.2-9.9 1.8z" color="#a7ae64"/>
<path class="mb" d="M40.1 506.4L40.6 507.6M40.1 506.4L49.9 504.6"/>
<path d="M163.6 396.7l4.7-10.7 1.1 1.7-4.7 8.2z" color="#96643f"/>
<path class="mb" d="M164.7 395.9L169.4 387.7"/>
<path d="M30.3 508l9.8-1.6 .5 1.2-9.8 1.7z" color="#a7b064"/>
<path class="mb" d="M40.1 506.4L40.6 507.6M30.3 508L40.1 506.4"/>
<path d="M168.3 386l4.7-4.1 1.2 2.8-4.8 3z" color="#ada264"/>
<path class="mb" d="M173 381.9L174.2 384.7M169.4 387.7L174.2 384.7"/>
<path d="M20.4 509.5l9.9-1.5 .5 1.3-9.9 1.5z" color="#a7b164"/>
<path class="mb" d="M20.4 509.5L30.3 508"/>
<path class="mb bd" d="M20.4 509.5L20.9 510.8"/>
<path d="M309.2 500.6l9.4 1.2 1.9 1.1-9.4-1.2z" color="#a2ba63"/>
<path class="mb" d="M318.6 501.8L320.5 502.9M311.1 501.7L320.5 502.9"/>
<path d="M329.8 504l9.4 .8 3 1.8-9.3-.8z" color="#a3bb64"/>
<path class="mb" d="M329.8 504L339.2 504.8"/>
<path class="mb bd" d="M339.2 504.8L342.2 506.6"/>
<path d="M108.8 488.6l4.8-2.6 .9-.1-4.8 2.8z" color="#9c854e"/>
<path d="M113.6 486l4.8-3.1 .9-.5-4.8 3.5z" color="#987a48"/>
<path class="mb" d="M118.4 482.9L119.3 482.4"/>
<path d="M104 490.8l4.8-2.2 .9 .1-4.9 2.5z" color="#9f8e54"/>
<path d="M179 387.4l4.8 7.9 1.3 .4-4.9-5.8z" color="#8d5734"/>
<path class="mb" d="M179 387.4L183.8 395.3"/>
<path d="M118.4 482.9l4.8-3.6 .9-1-4.8 4.1z" color="#99cd63"/>
<path class="mb" d="M118.4 482.9L119.3 482.4"/>
<path d="M99.2 492.8l4.8-2 .8 .4-4.8 2.1z" color="#a29658"/>
<path class="mb" d="M99.2 492.8L100 493.3"/>
<path d="M89.5 496.2l9.7-3.4 .8 .5-9.8 3.7z" color="#a59f5d"/>
<path class="mb" d="M99.2 492.8L100 493.3"/>
<path d="M79.8 499l9.7-2.8 .7 .8-9.7 3z" color="#a6a560"/>
<path class="mb" d="M79.8 499L80.5 500"/>
<path d="M155.3 422l4.7-13.9 1.1-2.1-4.8 12.1z" color="#97de66"/>
<path class="mb" d="M155.3 422L156.3 418.1M155.3 422L160 408.1"/>
<path d="M70 501.5l9.8-2.5 .7 1-9.8 2.6z" color="#a7a861"/>
<path class="mb" d="M79.8 499L80.5 500"/>
<path d="M60.3 503.8l9.7-2.3 .7 1.1-9.8 2.3z" color="#a7ab62"/>
<path class="mb" d="M60.3 503.8L60.9 504.9"/>
<path d="M174.2 384.7l4.8 2.7 1.2 2.5-4.8-1.8z" color="#ade679"/>
<path class="mb" d="M174.2 384.7L175.4 388.1M174.2 384.7L179 387.4"/>
<path d="M299.8 499.1l9.4 1.5 1.9 1.1-9.4-1.6z" color="#a0ba63"/>
<path class="mb" d="M299.8 499.1L301.7 500.1M301.7 500.1L311.1 501.7"/>
<path d="M50.5 505.8l9.8-2 .6 1.1-9.9 2.1z" color="#a7ad63"/>
<path class="mb" d="M60.3 503.8L60.9 504.9"/>
<path d="M160 408.1l4.7-12.2 1.1 .4-4.7 9.7z" color="#915837"/>
<path class="mb" d="M160 408.1L164.7 395.9"/>
<path d="M40.6 507.6l9.9-1.8 .5 1.2-9.9 1.8z" color="#a7ae64"/>
<path class="mb" d="M40.6 507.6L41.1 508.8"/>
<path d="M169.4 387.7l4.8-3 1.2 3.4-4.8 2.2z" color="#b8be75"/>
<path class="mb" d="M174.2 384.7L175.4 388.1M169.4 387.7L174.2 384.7"/>
<path d="M164.7 395.9l4.7-8.2 1.2 2.6-4.8 6z" color="#9e764a"/>
<path class="mb" d="M164.7 395.9L169.4 387.7"/>
<path d="M30.8 509.3l9.8-1.7 .5 1.2-9.9 1.8z" color="#a7b064"/>
<path class="mb" d="M40.6 507.6L41.1 508.8"/>
<path d="M20.9 510.8l9.9-1.5 .4 1.3-9.9 1.5z" color="#a7b164"/>
<path class="mb bd" d="M20.9 510.8L21.3 512.1"/>
<path d="M320.5 502.9l9.3 1.1 3.1 1.8-9.5-1.2z" color="#a2bb64"/>
<path class="mb" d="M320.5 502.9L323.4 504.6M320.5 502.9L329.8 504"/>
<path d="M180.2 389.9l4.9 5.8 1.2 1.7-4.8-4z" color="#a2e370"/>
<path d="M311.1 501.7l9.4 1.2 2.9 1.7-9.4-1.3z" color="#a1bb63"/>
<path class="mb" d="M320.5 502.9L323.4 504.6M311.1 501.7L320.5 502.9"/>
<path d="M109.7 488.7l4.8-2.8 .9-.4-4.9 3.2z" color="#9a7f4b"/>
<path class="mb" d="M110.5 488.7L115.4 485.5"/>
<path d="M104.8 491.2l4.9-2.5 .8 0-4.9 2.7z" color="#9d8951"/>
<path class="mb" d="M105.6 491.4L110.5 488.7"/>
<path d="M151.6 431l4.7-12.9 1.1-2.6-4.7 11.6z" color="#98e068"/>
<path class="mb" d="M156.3 418.1L157.4 415.5"/>
<path d="M100 493.3l4.8-2.1 .8 .2-4.8 2.4z" color="#a09156"/>
<path class="mb" d="M100 493.3L100.8 493.8M100.8 493.8L105.6 491.4"/>
<path d="M114.5 485.9l4.8-3.5 .9-.7-4.8 3.8z" color="#967444"/>
<path class="mb" d="M119.3 482.4L120.2 481.7M115.4 485.5L120.2 481.7"/>
<path d="M90.2 497l9.8-3.7 .8 .5-9.8 3.9z" color="#a49b5b"/>
<path class="mb" d="M100 493.3L100.8 493.8M91 497.7L100.8 493.8"/>
<path d="M80.5 500l9.7-3 .8 .7-9.8 3.2z" color="#a6a460"/>
<path class="mb" d="M80.5 500L81.2 500.9M81.2 500.9L91 497.7"/>
<path d="M175.4 388.1l4.8 1.8 1.3 3.5-4.9-1.2z" color="#b4eb80"/>
<path class="mb" d="M175.4 388.1L176.6 392.2"/>
<path d="M70.7 502.6l9.8-2.6 .7 .9-9.8 2.7z" color="#a7a761"/>
<path class="mb" d="M80.5 500L81.2 500.9M71.4 503.6L81.2 500.9"/>
<path d="M156.3 418.1l4.8-12.1 1.1-.6-4.8 10.1z" color="#8e5334"/>
<path class="mb" d="M156.3 418.1L157.4 415.5"/>
<path d="M60.9 504.9l9.8-2.3 .7 1-9.9 2.4z" color="#a7aa62"/>
<path class="mb" d="M60.9 504.9L61.5 506M61.5 506L71.4 503.6"/>
<path d="M51 507l9.9-2.1 .6 1.1-9.9 2.1z" color="#a7ac63"/>
<path class="mb" d="M60.9 504.9L61.5 506M51.6 508.1L61.5 506"/>
<path d="M170.6 390.3l4.8-2.2 1.2 4.1-4.8 1.5z" color="#bdd17f"/>
<path class="mb" d="M175.4 388.1L176.6 392.2"/>
<path d="M161.1 406l4.7-9.7 1.2 1.8-4.8 7.3z" color="#986741"/>
<path d="M165.8 396.3l4.8-6 1.2 3.4-4.8 4.4z" color="#a9915b"/>
<path d="M41.1 508.8l9.9-1.8 .6 1.1-9.9 2z" color="#a7ae63"/>
<path class="mb" d="M41.1 508.8L41.7 510.1M41.7 510.1L51.6 508.1"/>
<path d="M332.9 505.8l9.3 .8 3.2 1.9-9.5-.9z" color="#a3bb64"/>
<path class="mb" d="M335.9 507.6L345.4 508.5"/>
<path class="mb bd" d="M342.2 506.6L345.4 508.5"/>
<path d="M31.2 510.6l9.9-1.8 .6 1.3-10 1.7z" color="#a7af64"/>
<path class="mb" d="M41.1 508.8L41.7 510.1M31.7 511.8L41.7 510.1"/>
<path d="M21.3 512.1l9.9-1.5 .5 1.2-10 1.6z" color="#a7b164"/>
<path class="mb" d="M21.7 513.4L31.7 511.8"/>
<path class="mb bd" d="M21.3 512.1L21.7 513.4"/>
<path d="M301.7 500.1l9.4 1.6 2.9 1.6-9.5-1.8z" color="#a0ba62"/>
<path class="mb" d="M301.7 500.1L304.5 501.5M301.7 500.1L311.1 501.7"/>
<path d="M186.3 397.4l4.9 7 1.2 1-4.8-5.2z" color="#9cdc69"/>
<path class="mb" d="M187.6 400.2L192.4 405.4"/>
<path d="M181.5 393.4l4.8 4 1.3 2.8-4.9-2.8z" color="#abeb79"/>
<path class="mb" d="M182.7 397.4L187.6 400.2"/>
<path d="M147.9 439l4.8-11.9 1-2.6-4.8 11.1z" color="#98df68"/>
<path class="mb" d="M148.9 435.6L153.7 424.5"/>
<path d="M323.4 504.6l9.5 1.2 3 1.8-9.5-1.3z" color="#a2bb64"/>
<path class="mb" d="M323.4 504.6L326.4 506.3M326.4 506.3L335.9 507.6"/>
<path d="M105.6 491.4l4.9-2.7 .9-.1-4.9 3z" color="#9c834e"/>
<path class="mb" d="M105.6 491.4L110.5 488.7"/>
<path d="M100.8 493.8l4.8-2.4 .9 .2-4.9 2.5z" color="#9f8d53"/>
<path class="mb" d="M100.8 493.8L101.6 494.1M100.8 493.8L105.6 491.4"/>
<path d="M110.5 488.7l4.9-3.2 .8-.4-4.8 3.5z" color="#987948"/>
<path class="mb" d="M110.5 488.7L115.4 485.5"/>
<path d="M91 497.7l9.8-3.9 .8 .3-9.8 4.2z" color="#a39859"/>
<path class="mb" d="M100.8 493.8L101.6 494.1M91 497.7L100.8 493.8"/>
<path d="M115.4 485.5l4.8-3.8 .9-.9-4.9 4.3z" color="#946e41"/>
<path class="mb" d="M120.2 481.7L121.1 480.8M115.4 485.5L120.2 481.7"/>
<path d="M176.6 392.2l4.9 1.2 1.2 4-4.8-.7z" color="#b9ee85"/>
<path class="mb" d="M176.6 392.2L177.9 396.7M177.9 396.7L182.7 397.4"/>
<path d="M152.7 427.1l4.7-11.6 1.1-1-4.8 10z" color="#8d5133"/>
<path class="mb" d="M157.4 415.5L158.5 414.5M153.7 424.5L158.5 414.5"/>
<path d="M81.2 500.9l9.8-3.2 .8 .6-9.9 3.4z" color="#a6a25f"/>
<path class="mb" d="M81.2 500.9L81.9 501.7M81.2 500.9L91 497.7"/>
<path d="M71.4 503.6l9.8-2.7 .7 .8-9.9 2.9z" color="#a6a661"/>
<path class="mb" d="M81.2 500.9L81.9 501.7M71.4 503.6L81.2 500.9"/>
<path d="M171.8 393.7l4.8-1.5 1.3 4.5-4.9 1.1z" color="#bfdd84"/>
<path class="mb" d="M176.6 392.2L177.9 396.7M173 397.8L177.9 396.7"/>
<path d="M157.4 415.5l4.8-10.1 1.1 1-4.8 8.1z" color="#94603d"/>
<path class="mb" d="M157.4 415.5L158.5 414.5M158.5 414.5L163.3 406.4"/>
<path d="M61.5 506l9.9-2.4 .6 1-9.9 2.5z" color="#a7a962"/>
<path class="mb" d="M61.5 506L62.1 507.1M61.5 506L71.4 503.6"/>
<path d="M167 398.1l4.8-4.4 1.2 4.1-4.8 3.1z" color="#b4b06e"/>
<path class="mb" d="M168.2 400.9L173 397.8"/>
<path d="M51.6 508.1l9.9-2.1 .6 1.1-9.9 2.2z" color="#a7ac63"/>
<path class="mb" d="M61.5 506L62.1 507.1M51.6 508.1L61.5 506"/>
<path d="M162.2 405.4l4.8-7.3 1.2 2.8-4.9 5.5z" color="#a17e50"/>
<path class="mb" d="M163.3 406.4L168.2 400.9"/>
<path d="M41.7 510.1l9.9-2 .6 1.2-10 2z" color="#a7ad63"/>
<path class="mb" d="M41.7 510.1L42.2 511.3M41.7 510.1L51.6 508.1"/>
<path d="M31.7 511.8l10-1.7 .5 1.2-10 1.8z" color="#a7af64"/>
<path class="mb" d="M41.7 510.1L42.2 511.3M31.7 511.8L41.7 510.1"/>
<path d="M314 503.3l9.4 1.3 3 1.7-9.5-1.5z" color="#a1bb63"/>
<path class="mb" d="M323.4 504.6L326.4 506.3M316.9 504.8L326.4 506.3"/>
<path d="M21.7 513.4l10-1.6 .5 1.3-10.1 1.7z" color="#a7b064"/>
<path class="mb" d="M21.7 513.4L31.7 511.8"/>
<path class="mb bd" d="M21.7 513.4L22.1 514.8"/>
<path d="M187.6 400.2l4.8 5.2 1.4 2.2-4.9-3.7z" color="#a5e673"/>
<path class="mb" d="M187.6 400.2L192.4 405.4"/>
<path d="M182.7 397.4l4.9 2.8 1.3 3.7-4.9-1.9z" color="#b2f081"/>
<path class="mb" d="M182.7 397.4L187.6 400.2"/>
<path d="M335.9 507.6l9.5 .9 3.1 1.9-9.5-1z" color="#a3bb64"/>
<path class="mb" d="M335.9 507.6L345.4 508.5"/>
<path class="mb bd" d="M345.4 508.5L348.5 510.4"/>
<path d="M304.5 501.5l9.5 1.8 2.9 1.5-9.5-1.9z" color="#a0bb62"/>
<path class="mb" d="M304.5 501.5L307.4 502.9M307.4 502.9L316.9 504.8"/>
<path d="M177.9 396.7l4.8 .7 1.3 4.6-4.9-.4z" color="#bcef87"/>
<path class="mb" d="M177.9 396.7L179.1 401.6M177.9 396.7L182.7 397.4"/>
<path d="M148.9 435.6l4.8-11.1 1.1-1.2-4.8 9.9z" color="#8d5132"/>
<path class="mb" d="M148.9 435.6L153.7 424.5"/>
<path d="M101.6 494.1l4.9-2.5 .8 0-4.9 2.8z" color="#9d8850"/>
<path class="mb" d="M101.6 494.1L102.4 494.4"/>
<path d="M106.5 491.6l4.9-3 .8-.3-4.9 3.3z" color="#9a7f4b"/>
<path d="M91.8 498.3l9.8-4.2 .8 .3-9.9 4.5z" color="#a19457"/>
<path class="mb" d="M101.6 494.1L102.4 494.4"/>
<path d="M111.4 488.6l4.8-3.5 .9-.6-4.9 3.8z" color="#977445"/>
<path d="M173 397.8l4.9-1.1 1.2 4.9-4.8 .8z" color="#c0e487"/>
<path class="mb" d="M177.9 396.7L179.1 401.6M173 397.8L177.9 396.7"/>
<path d="M81.9 501.7l9.9-3.4 .7 .6-9.9 3.6z" color="#a5a05e"/>
<path class="mb" d="M81.9 501.7L82.6 502.5"/>
<path d="M116.2 485.1l4.9-4.3 .9-1-4.9 4.7z" color="#936a3f"/>
<path class="mb" d="M121.1 480.8L122 479.8"/>
<path d="M153.7 424.5l4.8-10 1.1 .4-4.8 8.4z" color="#935d3a"/>
<path class="mb" d="M158.5 414.5L159.6 414.9M153.7 424.5L158.5 414.5"/>
<path d="M72 504.6l9.9-2.9 .7 .8-9.9 3z" color="#a6a560"/>
<path class="mb" d="M81.9 501.7L82.6 502.5"/>
<path d="M168.2 400.9l4.8-3.1 1.3 4.6-4.9 2.2z" color="#becc7e"/>
<path class="mb" d="M168.2 400.9L173 397.8"/>
<path d="M193.8 407.6l4.8 5.9 1.3 1.6-4.8-4.4z" color="#a0e06e"/>
<path class="mb" d="M198.6 413.5L199.9 415.1"/>
<path d="M158.5 414.5l4.8-8.1 1.2 2.2-4.9 6.3z" color="#9d7449"/>
<path class="mb" d="M158.5 414.5L159.6 414.9M158.5 414.5L163.3 406.4"/>
<path d="M62.1 507.1l9.9-2.5 .7 .9-10 2.6z" color="#a7a962"/>
<path class="mb" d="M62.1 507.1L62.7 508.1"/>
<path d="M163.3 406.4l4.9-5.5 1.2 3.7-4.9 4z" color="#ac9b61"/>
<path class="mb" d="M163.3 406.4L168.2 400.9"/>
<path d="M52.2 509.3l9.9-2.2 .6 1-10 2.3z" color="#a7ab63"/>
<path class="mb" d="M62.1 507.1L62.7 508.1"/>
<path d="M326.4 506.3l9.5 1.3 3.1 1.8-9.5-1.3z" color="#a2bb64"/>
<path class="mb" d="M326.4 506.3L329.5 508.1M326.4 506.3L335.9 507.6"/>
<path d="M42.2 511.3l10-2 .5 1.1-10 2.1z" color="#a7ad63"/>
<path class="mb" d="M42.2 511.3L42.7 512.5"/>
<path d="M32.2 513.1l10-1.8 .5 1.2-10.1 1.9z" color="#a7af64"/>
<path class="mb" d="M42.2 511.3L42.7 512.5"/>
<path d="M22.1 514.8l10.1-1.7 .4 1.3-10.1 1.7z" color="#a7b064"/>
<path class="mb bd" d="M22.1 514.8L22.5 516.1"/>
<path d="M188.9 403.9l4.9 3.7 1.3 3.1-4.9-2.5z" color="#aded7c"/>
<path d="M184 402l4.9 1.9 1.3 4.3-4.9-1.2z" color="#b8f285"/>
<path d="M179.1 401.6l4.9 .4 1.3 5-4.9-.2z" color="#bef089"/>
<path class="mb" d="M179.1 401.6L180.4 406.8"/>
<path d="M316.9 504.8l9.5 1.5 3.1 1.8-9.6-1.7z" color="#a1bb63"/>
<path class="mb" d="M326.4 506.3L329.5 508.1M316.9 504.8L326.4 506.3"/>
<path d="M199.9 415.1l4.9 6.4 1.4 1.2-4.9-5z" color="#9cdb69"/>
<path class="mb" d="M199.9 415.1L201.3 417.7M201.3 417.7L206.2 422.7"/>
<path d="M145.2 443.5l4.8-10.3 1.1-1.3-4.9 9.5z" color="#8d5233"/>
<path d="M174.3 402.4l4.8-.8 1.3 5.2-4.9 .6z" color="#c1e989"/>
<path class="mb" d="M179.1 401.6L180.4 406.8"/>
<path d="M150 433.2l4.8-9.9 1.1 .1-4.8 8.5z" color="#925b39"/>
<path d="M102.4 494.4l4.9-2.8 .9 0-5 3z" color="#9c844e"/>
<path class="mb" d="M102.4 494.4L103.2 494.6M103.2 494.6L108.2 491.6"/>
<path d="M92.5 498.9l9.9-4.5 .8 .2-9.9 4.9z" color="#a09055"/>
<path class="mb" d="M102.4 494.4L103.2 494.6M93.3 499.5L103.2 494.6"/>
<path d="M169.4 404.6l4.9-2.2 1.2 5-4.9 1.5z" color="#c1da84"/>
<path d="M107.3 491.6l4.9-3.3 .9-.3-4.9 3.6z" color="#997b49"/>
<path class="mb" d="M108.2 491.6L113.1 488"/>
<path d="M82.6 502.5l9.9-3.6 .8 .6-9.9 3.8z" color="#a49d5c"/>
<path class="mb" d="M82.6 502.5L83.4 503.3M83.4 503.3L93.3 499.5"/>
<path d="M112.2 488.3l4.9-3.8 .9-.7-4.9 4.2z" color="#967143"/>
<path class="mb" d="M113.1 488L118 483.8"/>
<path d="M195.1 410.7l4.8 4.4 1.4 2.6-4.9-3.1z" color="#a8e876"/>
<path class="mb" d="M199.9 415.1L201.3 417.7M196.4 414.6L201.3 417.7"/>
<path d="M154.8 423.3l4.8-8.4 1.2 1.7-4.9 6.8z" color="#9a6d44"/>
<path class="mb" d="M159.6 414.9L160.8 416.6"/>
<path d="M164.5 408.6l4.9-4 1.2 4.3-4.9 2.9z" color="#b7b772"/>
<path d="M72.7 505.5l9.9-3 .8 .8-10 3.2z" color="#a6a460"/>
<path class="mb" d="M82.6 502.5L83.4 503.3M73.4 506.5L83.4 503.3"/>
<path d="M117.1 484.5l4.9-4.7 .9-1-4.9 5z" color="#92673d"/>
<path class="mb" d="M122 479.8L122.9 478.8M118 483.8L122.9 478.8"/>
<path d="M159.6 414.9l4.9-6.3 1.2 3.2-4.9 4.8z" color="#a68c58"/>
<path class="mb" d="M159.6 414.9L160.8 416.6"/>
<path d="M339 509.4l9.5 1 3.3 2-9.6-1.2z" color="#a2bb64"/>
<path class="mb" d="M342.2 511.2L351.8 512.4"/>
<path class="mb bd" d="M348.5 510.4L351.8 512.4"/>
<path d="M62.7 508.1l10-2.6 .7 1-10 2.7z" color="#a7a861"/>
<path class="mb" d="M62.7 508.1L63.4 509.2M63.4 509.2L73.4 506.5"/>
<path d="M122 479.8l4.9-5.5 .9-1.4-4.9 5.9z" color="#98d565"/>
<path class="mb" d="M122 479.8L122.9 478.8M122.9 478.8L127.8 472.9"/>
<path d="M52.7 510.4l10-2.3 .7 1.1-10.1 2.4z" color="#a7ab62"/>
<path class="mb" d="M62.7 508.1L63.4 509.2M53.3 511.6L63.4 509.2"/>
<path d="M42.7 512.5l10-2.1 .6 1.2-10.1 2.1z" color="#a7ad63"/>
<path class="mb" d="M42.7 512.5L43.2 513.7M43.2 513.7L53.3 511.6"/>
<path d="M190.2 408.2l4.9 2.5 1.3 3.9-4.9-1.7z" color="#b4f082"/>
<path class="mb" d="M191.5 412.9L196.4 414.6"/>
<path d="M307.4 502.9l9.5 1.9 3 1.6-9.6-2z" color="#9fbb62"/>
<path class="mb" d="M307.4 502.9L310.3 504.4M307.4 502.9L316.9 504.8"/>
<path d="M32.6 514.4l10.1-1.9 .5 1.2-10.1 2z" color="#a7ae64"/>
<path class="mb" d="M42.7 512.5L43.2 513.7M33.1 515.7L43.2 513.7"/>
<path d="M22.5 516.1l10.1-1.7 .5 1.3-10.1 1.7z" color="#a7b064"/>
<path class="mb" d="M23 517.4L33.1 515.7"/>
<path class="mb bd" d="M22.5 516.1L23 517.4"/>
<path d="M206.2 422.7l4.8 6.7 1.5 .8-4.9-5.4z" color="#8f5c37"/>
<path class="mb" d="M206.2 422.7L211 429.4"/>
<path d="M185.3 407l4.9 1.2 1.3 4.7-4.9-.6z" color="#bcf288"/>
<path class="mb" d="M186.6 412.3L191.5 412.9"/>
<path d="M136.6 459.8l4.8-8.8 1-1.8-4.9 8.7z" color="#8d5232"/>
<path class="mb" d="M141.4 451L142.4 449.2M137.5 457.9L142.4 449.2"/>
<path d="M180.4 406.8l4.9 .2 1.3 5.3-4.9-.1z" color="#c0f18a"/>
<path class="mb" d="M180.4 406.8L181.7 412.2M181.7 412.2L186.6 412.3"/>
<path d="M329.5 508.1l9.5 1.3 3.2 1.8-9.6-1.4z" color="#a2bb64"/>
<path class="mb" d="M329.5 508.1L332.6 509.8M332.6 509.8L342.2 511.2"/>
<path d="M141.4 451l4.8-9.6 1.1-1.2-4.9 9z" color="#8e5434"/>
<path class="mb" d="M141.4 451L142.4 449.2M142.4 449.2L147.3 440.2"/>
<path d="M201.3 417.7l4.9 5 1.4 2.1-4.9-3.7z" color="#a3e371"/>
<path class="mb" d="M201.3 417.7L202.7 421.1M201.3 417.7L206.2 422.7"/>
<path d="M175.5 407.4l4.9-.6 1.3 5.4-5 .4z" color="#c1ec8a"/>
<path class="mb" d="M180.4 406.8L181.7 412.2M176.7 412.6L181.7 412.2"/>
<path d="M146.2 441.4l4.9-9.5 1.1-.2-4.9 8.5z" color="#915b39"/>
<path class="mb" d="M147.3 440.2L152.2 431.7"/>
<path d="M170.6 408.9l4.9-1.5 1.2 5.2-4.9 1.1z" color="#c1e387"/>
<path class="mb" d="M171.8 413.7L176.7 412.6"/>
<path d="M196.4 414.6l4.9 3.1 1.4 3.4-4.9-2.2z" color="#afed7d"/>
<path class="mb" d="M201.3 417.7L202.7 421.1M196.4 414.6L201.3 417.7"/>
<path d="M151.1 431.9l4.8-8.5 1.1 1.2-4.8 7.1z" color="#976841"/>
<path class="mb" d="M152.2 431.7L157 424.6"/>
<path d="M165.7 411.8l4.9-2.9 1.2 4.8-4.9 2z" color="#c0d080"/>
<path class="mb" d="M166.9 415.7L171.8 413.7"/>
<path d="M155.9 423.4l4.9-6.8 1.2 2.6-5 5.4z" color="#a28051"/>
<path class="mb" d="M160.8 416.6L162 419.2M157 424.6L162 419.2"/>
<path d="M93.3 499.5l9.9-4.9 .9 .1-10 5.3z" color="#9f8d53"/>
<path class="mb" d="M103.2 494.6L104.1 494.7M93.3 499.5L103.2 494.6"/>
<path d="M103.2 494.6l5-3 .8-.1-4.9 3.2z" color="#9b804c"/>
<path class="mb" d="M103.2 494.6L104.1 494.7M103.2 494.6L108.2 491.6"/>
<path d="M160.8 416.6l4.9-4.8 1.2 3.9-4.9 3.5z" color="#b1a668"/>
<path class="mb" d="M160.8 416.6L162 419.2M162 419.2L166.9 415.7"/>
<path d="M83.4 503.3l9.9-3.8 .8 .5-10 4.1z" color="#a49a5b"/>
<path class="mb" d="M83.4 503.3L84.1 504.1M83.4 503.3L93.3 499.5"/>
<path d="M108.2 491.6l4.9-3.6 .9-.4-5 3.9z" color="#987747"/>
<path class="mb" d="M108.2 491.6L113.1 488"/>
<path d="M73.4 506.5l10-3.2 .7 .8-10 3.3z" color="#a6a360"/>
<path class="mb" d="M83.4 503.3L84.1 504.1M73.4 506.5L83.4 503.3"/>
<path d="M63.4 509.2l10-2.7 .7 .9-10.1 2.9z" color="#a7a761"/>
<path class="mb" d="M63.4 509.2L64 510.3M63.4 509.2L73.4 506.5"/>
<path d="M118 483.8l4.9-5 .9-1-4.9 5.3z" color="#92653d"/>
<path class="mb" d="M122.9 478.8L123.8 477.8M118 483.8L122.9 478.8"/>
<path d="M191.5 412.9l4.9 1.7 1.4 4.3-5-.9z" color="#b9f185"/>
<path class="mb" d="M191.5 412.9L196.4 414.6"/>
<path d="M319.9 506.4l9.6 1.7 3.1 1.7-9.7-1.8z" color="#a0bb63"/>
<path class="mb" d="M329.5 508.1L332.6 509.8M322.9 508L332.6 509.8"/>
<path d="M53.3 511.6l10.1-2.4 .6 1.1-10.1 2.5z" color="#a7aa62"/>
<path class="mb" d="M63.4 509.2L64 510.3M53.3 511.6L63.4 509.2"/>
<path d="M122.9 478.8l4.9-5.9 1-1.3-5 6.2z" color="#905e39"/>
<path class="mb" d="M122.9 478.8L123.8 477.8M122.9 478.8L127.8 472.9"/>
<path d="M43.2 513.7l10.1-2.1 .6 1.2-10.1 2.2z" color="#a7ac63"/>
<path class="mb" d="M43.2 513.7L43.8 515M43.2 513.7L53.3 511.6"/>
<path d="M33.1 515.7l10.1-2 .6 1.3-10.2 2z" color="#a7ae64"/>
<path class="mb" d="M43.2 513.7L43.8 515M33.1 515.7L43.2 513.7"/>
<path d="M23 517.4l10.1-1.7 .5 1.3-10.2 1.8z" color="#a7b064"/>
<path class="mb" d="M23 517.4L33.1 515.7"/>
<path class="mb bd" d="M23 517.4L23.4 518.8"/>
<path d="M186.6 412.3l4.9 .6 1.3 5.1-4.9-.3z" color="#bef189"/>
<path class="mb" d="M186.6 412.3L191.5 412.9"/>
<path d="M207.6 424.8l4.9 5.4 1.4 1.6-4.9-4.2z" color="#9fdd6c"/>
<path d="M132.7 465.9l4.8-8 1.1-1.4-4.9 7.9z" color="#8e5635"/>
<path class="mb" d="M132.7 465.9L137.5 457.9"/>
<path d="M181.7 412.2l4.9 .1 1.3 5.4-4.9 0z" color="#c0f08b"/>
<path class="mb" d="M181.7 412.2L183 417.7M181.7 412.2L186.6 412.3"/>
<path d="M342.2 511.2l9.6 1.2 3.2 1.9-9.6-1.2z" color="#a2bb64"/>
<path class="mb" d="M342.2 511.2L351.8 512.4"/>
<path class="mb bd" d="M351.8 512.4L355 514.3"/>
<path d="M137.5 457.9l4.9-8.7 1-1.1-4.8 8.4z" color="#8f5736"/>
<path class="mb" d="M142.4 449.2L143.4 448.1M137.5 457.9L142.4 449.2"/>
<path d="M202.7 421.1l4.9 3.7 1.4 2.8-4.9-2.7z" color="#aae878"/>
<path class="mb" d="M202.7 421.1L204.1 424.9"/>
<path d="M176.7 412.6l5-.4 1.3 5.5-5 .3z" color="#c1ee8b"/>
<path class="mb" d="M181.7 412.2L183 417.7M176.7 412.6L181.7 412.2"/>
<path d="M310.3 504.4l9.6 2 3 1.6-9.7-2.2z" color="#9fbb62"/>
<path class="mb" d="M310.3 504.4L313.2 505.8M313.2 505.8L322.9 508"/>
<path d="M142.4 449.2l4.9-9 1.1-.3-5 8.2z" color="#915b39"/>
<path class="mb" d="M142.4 449.2L143.4 448.1M142.4 449.2L147.3 440.2"/>
<path d="M171.8 413.7l4.9-1.1 1.3 5.4-4.9 .7z" color="#c1e889"/>
<path class="mb" d="M171.8 413.7L176.7 412.6"/>
<path d="M197.8 418.9l4.9 2.2 1.4 3.8-5-1.3z" color="#b5ee82"/>
<path class="mb" d="M202.7 421.1L204.1 424.9"/>
<path d="M147.3 440.2l4.9-8.5 1.1 .8-4.9 7.4z" color="#96653f"/>
<path class="mb" d="M147.3 440.2L152.2 431.7"/>
<path d="M166.9 415.7l4.9-2 1.3 5-5 1.4z" color="#c1dc85"/>
<path class="mb" d="M166.9 415.7L171.8 413.7"/>
<path d="M162 419.2l4.9-3.5 1.2 4.4-5 2.5z" color="#bac077"/>
<path class="mb" d="M162 419.2L163.1 422.6M162 419.2L166.9 415.7"/>
<path d="M152.2 431.7l4.8-7.1 1.2 2.1-4.9 5.8z" color="#9e784b"/>
<path class="mb" d="M152.2 431.7L157 424.6"/>
<path d="M157 424.6l5-5.4 1.1 3.4-4.9 4.1z" color="#ab975f"/>
<path class="mb" d="M162 419.2L163.1 422.6M157 424.6L162 419.2"/>
<path d="M213.9 431.8l4.9 5.8 1.4 1.2-4.9-4.7z" color="#9cd868"/>
<path class="mb" d="M215.3 434.1L220.2 438.8"/>
<path d="M192.8 418l5 .9 1.3 4.7-4.9-.4z" color="#bcf087"/>
<path d="M94.1 500l10-5.3 .8 .1-10 5.7z" color="#9e8a51"/>
<path class="mb" d="M104.1 494.7L104.9 494.8"/>
<path d="M84.1 504.1l10-4.1 .8 .5-10 4.3z" color="#a39859"/>
<path class="mb" d="M84.1 504.1L84.9 504.8"/>
<path d="M104.1 494.7l4.9-3.2 .9-.2-5 3.5z" color="#9a7d4a"/>
<path class="mb" d="M104.1 494.7L104.9 494.8"/>
<path d="M332.6 509.8l9.6 1.4 3.2 1.9-9.7-1.6z" color="#a1bc64"/>
<path class="mb" d="M332.6 509.8L335.7 511.5M332.6 509.8L342.2 511.2"/>
<path d="M109 491.5l5-3.9 .9-.4-5 4.1z" color="#977445"/>
<path d="M74.1 507.4l10-3.3 .8 .7-10.1 3.6z" color="#a6a25f"/>
<path class="mb" d="M84.1 504.1L84.9 504.8"/>
<path d="M114 487.6l4.9-4.5 .9-.6-4.9 4.7z" color="#956c41"/>
<path d="M64 510.3l10.1-2.9 .7 1-10.1 3z" color="#a7a661"/>
<path class="mb" d="M64 510.3L64.7 511.4"/>
<path d="M53.9 512.8l10.1-2.5 .7 1.1-10.2 2.5z" color="#a7aa62"/>
<path class="mb" d="M64 510.3L64.7 511.4"/>
<path d="M118.9 483.1l4.9-5.3 1-.9-5 5.6z" color="#92643c"/>
<path class="mb" d="M123.8 477.8L124.8 476.9"/>
<path d="M187.9 417.7l4.9 .3 1.4 5.2-5 0z" color="#bff08a"/>
<path d="M43.8 515l10.1-2.2 .6 1.1-10.2 2.3z" color="#a7ac63"/>
<path class="mb" d="M43.8 515L44.3 516.2"/>
<path d="M33.6 517l10.2-2 .5 1.2-10.2 2.1z" color="#a7ae64"/>
<path class="mb" d="M43.8 515L44.3 516.2"/>
<path d="M209 427.6l4.9 4.2 1.4 2.3-4.9-3.1z" color="#a5e373"/>
<path class="mb" d="M210.4 431L215.3 434.1"/>
<path d="M123.8 477.8l5-6.2 .9-1.1-4.9 6.4z" color="#905e39"/>
<path class="mb" d="M123.8 477.8L124.8 476.9"/>
<path d="M23.4 518.8l10.2-1.8 .5 1.3-10.3 1.9z" color="#a7af64"/>
<path class="mb bd" d="M23.4 518.8L23.8 520.2"/>
<path d="M183 417.7l4.9 0 1.3 5.5-4.9 .1z" color="#c1f08b"/>
<path class="mb" d="M183 417.7L184.3 423.3"/>
<path d="M128.8 471.6l4.9-7.2 .9-1.1-4.9 7.2z" color="#905b37"/>
<path d="M178 418l5-.3 1.3 5.6-5 .3z" color="#c1ef8b"/>
<path class="mb" d="M183 417.7L184.3 423.3"/>
<path d="M133.7 464.4l4.9-7.9 1-.9-5 7.7z" color="#905a37"/>
<path d="M204.1 424.9l4.9 2.7 1.4 3.4-5-1.8z" color="#b0eb7d"/>
<path class="mb" d="M204.1 424.9L205.4 429.2M205.4 429.2L210.4 431"/>
<path d="M322.9 508l9.7 1.8 3.1 1.7-9.7-1.9z" color="#a0bc63"/>
<path class="mb" d="M332.6 509.8L335.7 511.5M322.9 508L332.6 509.8"/>
<path d="M173.1 418.7l4.9-.7 1.3 5.6-5 .3z" color="#c1eb8a"/>
<path d="M138.6 456.5l4.8-8.4 1.1-.4-4.9 7.9z" color="#925d39"/>
<path class="mb" d="M143.4 448.1L144.5 447.7"/>
<path d="M199.1 423.6l5 1.3 1.3 4.3-4.9-.7z" color="#b9ee85"/>
<path class="mb" d="M204.1 424.9L205.4 429.2M200.5 428.5L205.4 429.2"/>
<path d="M168.1 420.1l5-1.4 1.2 5.2-5 .9z" color="#c1e387"/>
<path d="M143.4 448.1l5-8.2 1 .5-4.9 7.3z" color="#95643e"/>
<path class="mb" d="M143.4 448.1L144.5 447.7"/>
<path d="M163.1 422.6l5-2.5 1.2 4.7-5 1.7z" color="#bfd381"/>
<path class="mb" d="M163.1 422.6L164.3 426.5"/>
<path d="M148.4 439.9l4.9-7.4 1.1 1.7-5 6.2z" color="#9b7247"/>
<path d="M220.2 438.8l4.9 5.9 2.3 1.5-4.9-4.5z" color="#906039"/>
<path class="mb" d="M225.1 444.7L227.4 446.2M220.2 438.8L225.1 444.7"/>
<path d="M158.2 426.7l4.9-4.1 1.2 3.9-4.9 3z" color="#b4b06d"/>
<path class="mb" d="M163.1 422.6L164.3 426.5"/>
<path d="M153.3 432.5l4.9-5.8 1.2 2.8-5 4.7z" color="#a68b57"/>
<path d="M194.2 423.2l4.9 .4 1.4 4.9-5 0z" color="#beee88"/>
<path class="mb" d="M195.5 428.5L200.5 428.5"/>
<path d="M345.4 513.1l9.6 1.2 3.4 2-9.8-1.3z" color="#a2bc64"/>
<path class="mb" d="M348.6 515L358.4 516.3"/>
<path class="mb bd" d="M355 514.3L358.4 516.3"/>
<path d="M189.2 423.2l5 0 1.3 5.3-4.9 .2z" color="#c0ef8a"/>
<path class="mb" d="M190.6 428.7L195.5 428.5"/>
<path d="M94.9 500.5l10-5.7 .9 .1-10.1 6z" color="#9d8750"/>
<path class="mb" d="M104.9 494.8L105.8 494.9M95.7 500.9L105.8 494.9"/>
<path d="M84.9 504.8l10-4.3 .8 .4-10.1 4.7z" color="#a29558"/>
<path class="mb" d="M84.9 504.8L85.6 505.6M85.6 505.6L95.7 500.9"/>
<path d="M104.9 494.8l5-3.5 .9-.1-5 3.7z" color="#997b49"/>
<path class="mb" d="M104.9 494.8L105.8 494.9M105.8 494.9L110.8 491.2"/>
<path d="M74.8 508.4l10.1-3.6 .7 .8-10.1 3.7z" color="#a6a05e"/>
<path class="mb" d="M84.9 504.8L85.6 505.6M75.5 509.3L85.6 505.6"/>
<path d="M109.9 491.3l5-4.1 .9-.3-5 4.3z" color="#977244"/>
<path class="mb" d="M110.8 491.2L115.8 486.9"/>
<path d="M64.7 511.4l10.1-3 .7 .9-10.2 3.1z" color="#a7a661"/>
<path class="mb" d="M64.7 511.4L65.3 512.4M65.3 512.4L75.5 509.3"/>
<path d="M313.2 505.8l9.7 2.2 3.1 1.6-9.8-2.4z" color="#9fbc62"/>
<path class="mb" d="M313.2 505.8L316.2 507.2M313.2 505.8L322.9 508"/>
<path d="M215.3 434.1l4.9 4.7 2.3 2.9-5-3.2z" color="#a2de6f"/>
<path class="mb" d="M215.3 434.1L220.2 438.8"/>
<path d="M114.9 487.2l4.9-4.7 1-.6-5 5z" color="#946b40"/>
<path class="mb" d="M115.8 486.9L120.8 481.9"/>
<path d="M54.5 513.9l10.2-2.5 .6 1-10.2 2.7z" color="#a7a962"/>
<path class="mb" d="M64.7 511.4L65.3 512.4M55.1 515.1L65.3 512.4"/>
<path d="M184.3 423.3l4.9-.1 1.4 5.5-5 .2z" color="#c1ef8b"/>
<path class="mb" d="M184.3 423.3L185.6 428.9M185.6 428.9L190.6 428.7"/>
<path d="M44.3 516.2l10.2-2.3 .6 1.2-10.2 2.4z" color="#a7ab63"/>
<path class="mb" d="M44.3 516.2L44.9 517.5M44.9 517.5L55.1 515.1"/>
<path d="M119.8 482.5l5-5.6 .9-.8-4.9 5.8z" color="#93643d"/>
<path class="mb" d="M124.8 476.9L125.7 476.1M120.8 481.9L125.7 476.1"/>
<path d="M34.1 518.3l10.2-2.1 .6 1.3-10.3 2.1z" color="#a7ad63"/>
<path class="mb" d="M44.3 516.2L44.9 517.5M34.6 519.6L44.9 517.5"/>
<path d="M23.8 520.2l10.3-1.9 .5 1.3-10.3 2z" color="#a7af64"/>
<path class="mb" d="M24.3 521.6L34.6 519.6"/>
<path class="mb bd" d="M23.8 520.2L24.3 521.6"/>
<path d="M124.8 476.9l4.9-6.4 1-.9-5 6.5z" color="#91603a"/>
<path class="mb" d="M124.8 476.9L125.7 476.1M125.7 476.1L130.7 469.6"/>
<path d="M179.3 423.6l5-.3 1.3 5.6-5 .2z" color="#c1ef8b"/>
<path class="mb" d="M184.3 423.3L185.6 428.9M180.6 429.1L185.6 428.9"/>
<path d="M210.4 431l4.9 3.1 2.2 4.4-5-1.8z" color="#ace679"/>
<path class="mb" d="M210.4 431L215.3 434.1"/>
<path d="M129.7 470.5l4.9-7.2 1.1-.7-5 7z" color="#915e39"/>
<path class="mb" d="M130.7 469.6L135.7 462.6"/>
<path d="M174.3 423.9l5-.3 1.3 5.5-5 .1z" color="#c0ed8a"/>
<path class="mb" d="M175.6 429.2L180.6 429.1"/>
<path d="M335.7 511.5l9.7 1.6 3.2 1.9-9.7-1.7z" color="#a1bc63"/>
<path class="mb" d="M335.7 511.5L338.9 513.3M338.9 513.3L348.6 515"/>
<path d="M134.6 463.3l5-7.7 1-.4-4.9 7.4z" color="#925f3a"/>
<path class="mb" d="M135.7 462.6L140.6 455.2"/>
<path d="M169.3 424.8l5-.9 1.3 5.3-5 .5z" color="#c0e888"/>
<path class="mb" d="M170.6 429.7L175.6 429.2"/>
<path d="M205.4 429.2l5 1.8 2.1 5.7-4.9-.7z" color="#b6eb81"/>
<path class="mb" d="M205.4 429.2L207.6 436M205.4 429.2L210.4 431"/>
<path d="M139.6 455.6l4.9-7.9 1.1 .3-5 7.2z" color="#95643e"/>
<path class="mb" d="M144.5 447.7L145.6 448M140.6 455.2L145.6 448"/>
<path d="M164.3 426.5l5-1.7 1.3 4.9-5 1.1z" color="#bfdc84"/>
<path class="mb" d="M164.3 426.5L165.6 430.8M165.6 430.8L170.6 429.7"/>
<path d="M144.5 447.7l4.9-7.3 1.2 1.2-5 6.4z" color="#996e45"/>
<path class="mb" d="M144.5 447.7L145.6 448M145.6 448L150.6 441.6"/>
<path d="M159.4 429.5l4.9-3 1.3 4.3-5 2.1z" color="#bbc67a"/>
<path class="mb" d="M164.3 426.5L165.6 430.8M160.6 432.9L165.6 430.8"/>
<path d="M200.5 428.5l4.9 .7 2.2 6.8-5 0z" color="#bceb86"/>
<path class="mb" d="M205.4 429.2L207.6 436M200.5 428.5L205.4 429.2"/>
<path d="M149.4 440.4l5-6.2 1.2 2.3-5 5.1z" color="#a28251"/>
<path class="mb" d="M150.6 441.6L155.6 436.5"/>
<path d="M154.4 434.2l5-4.7 1.2 3.4-5 3.6z" color="#aea064"/>
<path class="mb" d="M155.6 436.5L160.6 432.9"/>
<path d="M195.5 428.5l5 0 2.1 7.5-5 .4z" color="#bfec88"/>
<path class="mb" d="M195.5 428.5L200.5 428.5"/>
<path d="M326 509.6l9.7 1.9 3.2 1.8-9.8-2.1z" color="#a0bc63"/>
<path class="mb" d="M335.7 511.5L338.9 513.3M329.1 511.2L338.9 513.3"/>
<path d="M190.6 428.7l4.9-.2 2.1 7.9-5 .5z" color="#c0ec8a"/>
<path class="mb" d="M190.6 428.7L195.5 428.5"/>
<path d="M185.6 428.9l5-.2 2 8.2-5 .3z" color="#c0ee8a"/>
<path class="mb" d="M185.6 428.9L187.6 437.2M185.6 428.9L190.6 428.7"/>
<path d="M222.5 441.7l4.9 4.5 2.3 2.6-5-3.2z" color="#a1db6d"/>
<path class="mb" d="M227.4 446.2L229.7 448.8M224.7 445.6L229.7 448.8"/>
<path d="M85.6 505.6l10.1-4.7 1.2 .7-10.1 5z" color="#a19256"/>
<path class="mb" d="M85.6 505.6L86.8 506.6M85.6 505.6L95.7 500.9"/>
<path d="M95.7 500.9l10.1-6 1.3 .1-10.2 6.6z" color="#9d844e"/>
<path class="mb" d="M105.8 494.9L107.1 495M95.7 500.9L105.8 494.9"/>
<path d="M75.5 509.3l10.1-3.7 1.2 1-10.2 4z" color="#a59e5d"/>
<path class="mb" d="M85.6 505.6L86.8 506.6M75.5 509.3L85.6 505.6"/>
<path d="M348.6 515l9.8 1.3 3.4 2-9.8-1.4z" color="#a2bc64"/>
<path class="mb" d="M348.6 515L358.4 516.3"/>
<path class="mb bd" d="M358.4 516.3L361.8 518.3"/>
<path d="M105.8 494.9l5-3.7 1.3-.2-5 4z" color="#997848"/>
<path class="mb" d="M105.8 494.9L107.1 495M105.8 494.9L110.8 491.2"/>
<path d="M65.3 512.4l10.2-3.1 1.1 1.3-10.3 3.4z" color="#a7a560"/>
<path class="mb" d="M65.3 512.4L66.3 514M65.3 512.4L75.5 509.3"/>
<path d="M110.8 491.2l5-4.3 1.3-.5-5 4.6z" color="#977144"/>
<path class="mb" d="M110.8 491.2L115.8 486.9"/>
<path d="M180.6 429.1l5-.2 2 8.3-5.1 .1z" color="#c0ef8a"/>
<path class="mb" d="M185.6 428.9L187.6 437.2M180.6 429.1L185.6 428.9"/>
<path d="M55.1 515.1l10.2-2.7 1 1.6-10.3 2.9z" color="#a7a862"/>
<path class="mb" d="M65.3 512.4L66.3 514M55.1 515.1L65.3 512.4"/>
<path d="M44.9 517.5l10.2-2.4 .9 1.8-10.3 2.5z" color="#a7ab63"/>
<path class="mb" d="M44.9 517.5L45.7 519.4M44.9 517.5L55.1 515.1"/>
<path d="M115.8 486.9l5-5 1.4-.7-5.1 5.2z" color="#956a40"/>
<path class="mb" d="M115.8 486.9L120.8 481.9"/>
<path d="M34.6 519.6l10.3-2.1 .8 1.9-10.3 2.2z" color="#a7ad63"/>
<path class="mb" d="M44.9 517.5L45.7 519.4M34.6 519.6L44.9 517.5"/>
<path d="M24.3 521.6l10.3-2 .8 2-10.4 2.1z" color="#a7af64"/>
<path class="mb" d="M24.3 521.6L34.6 519.6"/>
<path class="mb bd" d="M24.3 521.6L25 523.7"/>
<path d="M217.5 438.5l5 3.2 2.2 3.9-5-1.9z" color="#aae276"/>
<path class="mb" d="M219.7 443.7L224.7 445.6"/>
<path d="M120.8 481.9l4.9-5.8 1.5-.8-5 5.9z" color="#93653e"/>
<path class="mb" d="M125.7 476.1L127.2 475.3M120.8 481.9L125.7 476.1"/>
<path d="M175.6 429.2l5-.1 1.9 8.2-5-.1z" color="#c0ee8a"/>
<path class="mb" d="M175.6 429.2L180.6 429.1"/>
<path d="M316.2 507.2l9.8 2.4 3.1 1.6-9.8-2.6z" color="#9ebc62"/>
<path class="mb" d="M316.2 507.2L319.3 508.6M319.3 508.6L329.1 511.2"/>
<path d="M125.7 476.1l5-6.5 1.5-.7-5 6.4z" color="#93633c"/>
<path class="mb" d="M125.7 476.1L127.2 475.3M125.7 476.1L130.7 469.6"/>
<path d="M170.6 429.7l5-.5 1.9 8-5 0z" color="#bfeb88"/>
<path class="mb" d="M170.6 429.7L175.6 429.2"/>
<path d="M130.7 469.6l5-7 1.5-.4-5 6.7z" color="#93633d"/>
<path class="mb" d="M130.7 469.6L135.7 462.6"/>
<path d="M212.5 436.7l5 1.8 2.2 5.2-5-.8z" color="#b3e77e"/>
<path class="mb" d="M214.7 442.9L219.7 443.7"/>
<path d="M165.6 430.8l5-1.1 1.9 7.5-5.1 .4z" color="#bfe486"/>
<path class="mb" d="M165.6 430.8L167.4 437.6M165.6 430.8L170.6 429.7"/>
<path d="M135.7 462.6l4.9-7.4 1.6 .4-5 6.6z" color="#95663f"/>
<path class="mb" d="M135.7 462.6L140.6 455.2"/>
<path d="M338.9 513.3l9.7 1.7 3.4 1.9-9.9-1.8z" color="#a1bc63"/>
<path class="mb" d="M338.9 513.3L342.1 515.1M338.9 513.3L348.6 515"/>
<path d="M160.6 432.9l5-2.1 1.8 6.8-5 1.1z" color="#bed580"/>
<path class="mb" d="M165.6 430.8L167.4 437.6M160.6 432.9L165.6 430.8"/>
<path d="M140.6 455.2l5-7.2 1.6 1.6-5 6z" color="#996e45"/>
<path class="mb" d="M145.6 448L147.2 449.6M140.6 455.2L145.6 448"/>
<path d="M207.6 436l4.9 .7 2.2 6.2-5 .1z" color="#bae883"/>
<path class="mb" d="M207.6 436L209.7 443M209.7 443L214.7 442.9"/>
<path d="M155.6 436.5l5-3.6 1.8 5.8-5.1 2.3z" color="#b7ba73"/>
<path class="mb" d="M155.6 436.5L160.6 432.9"/>
<path d="M145.6 448l5-6.4 1.7 3-5.1 5z" color="#a07e4e"/>
<path class="mb" d="M145.6 448L147.2 449.6M145.6 448L150.6 441.6"/>
<path d="M150.6 441.6l5-5.1 1.7 4.5-5 3.6z" color="#aa975e"/>
<path class="mb" d="M150.6 441.6L155.6 436.5"/>
<path d="M202.6 436l5 0 2.1 7-5 .6z" color="#bee786"/>
<path class="mb" d="M207.6 436L209.7 443M204.7 443.6L209.7 443"/>
<path d="M197.6 436.4l5-.4 2.1 7.6-5 .7z" color="#bfe888"/>
<path class="mb" d="M199.7 444.3L204.7 443.6"/>
<path d="M229.7 448.8l5 4.3 2.3 2.4-5-3.2z" color="#9fd76b"/>
<path class="mb" d="M229.7 448.8L232 452.3M229.7 448.8L234.7 453.1"/>
<path d="M192.6 436.9l5-.5 2.1 7.9-5.1 .6z" color="#c0e988"/>
<path class="mb" d="M194.6 444.9L199.7 444.3"/>
<path d="M329.1 511.2l9.8 2.1 3.2 1.8-9.8-2.2z" color="#a0bc63"/>
<path class="mb" d="M338.9 513.3L342.1 515.1M329.1 511.2L338.9 513.3"/>
<path d="M187.6 437.2l5-.3 2 8-5 .3z" color="#c0eb89"/>
<path class="mb" d="M187.6 437.2L189.6 445.2M189.6 445.2L194.6 444.9"/>
<path d="M224.7 445.6l5 3.2 2.3 3.5-5-2z" color="#a8de73"/>
<path class="mb" d="M229.7 448.8L232 452.3M224.7 445.6L229.7 448.8"/>
<path d="M182.5 437.3l5.1-.1 2 8-5.1 .1z" color="#bfed89"/>
<path class="mb" d="M187.6 437.2L189.6 445.2M184.5 445.3L189.6 445.2"/>
<path d="M352 516.9l9.8 1.4 3.4 2-9.9-1.5z" color="#a2bc64"/>
<path class="mb" d="M355.3 518.8L365.2 520.3"/>
<path class="mb bd" d="M361.8 518.3L365.2 520.3"/>
<path d="M177.5 437.2l5 .1 2 8-5.1-.2z" color="#beee89"/>
<path class="mb" d="M179.4 445.1L184.5 445.3"/>
<path d="M86.8 506.6l10.1-5 1.3 .6-10.3 5.4z" color="#a08f55"/>
<path class="mb" d="M86.8 506.6L87.9 507.6M87.9 507.6L98.2 502.2"/>
<path d="M76.6 510.6l10.2-4 1.1 1-10.2 4.4z" color="#a49b5b"/>
<path class="mb" d="M86.8 506.6L87.9 507.6M77.7 512L87.9 507.6"/>
<path d="M96.9 501.6l10.2-6.6 1.3 .2-10.2 7z" color="#9c814d"/>
<path class="mb" d="M107.1 495L108.4 495.2M98.2 502.2L108.4 495.2"/>
<path d="M66.3 514l10.3-3.4 1.1 1.4-10.4 3.6z" color="#a7a360"/>
<path class="mb" d="M66.3 514L67.3 515.6M67.3 515.6L77.7 512"/>
<path d="M219.7 443.7l5 1.9 2.3 4.7-5-.9z" color="#b0e27b"/>
<path class="mb" d="M219.7 443.7L224.7 445.6"/>
<path d="M107.1 495l5-4 1.4-.1-5.1 4.3z" color="#997747"/>
<path class="mb" d="M107.1 495L108.4 495.2M108.4 495.2L113.5 490.9"/>
<path d="M56 516.9l10.3-2.9 1 1.6-10.3 3z" color="#a7a761"/>
<path class="mb" d="M66.3 514L67.3 515.6M57 518.6L67.3 515.6"/>
<path d="M45.7 519.4l10.3-2.5 1 1.7-10.4 2.7z" color="#a7aa62"/>
<path class="mb" d="M45.7 519.4L46.6 521.3M46.6 521.3L57 518.6"/>
<path d="M112.1 491l5-4.6 1.4-.3-5 4.8z" color="#977044"/>
<path class="mb" d="M113.5 490.9L118.5 486.1"/>
<path d="M172.5 437.2l5 0 1.9 7.9-5-.3z" color="#beed88"/>
<path class="mb" d="M174.4 444.8L179.4 445.1"/>
<path d="M35.4 521.6l10.3-2.2 .9 1.9-10.5 2.4z" color="#a7ad63"/>
<path class="mb" d="M45.7 519.4L46.6 521.3M36.1 523.7L46.6 521.3"/>
<path d="M319.3 508.6l9.8 2.6 3.2 1.7-9.9-2.8z" color="#9ebd62"/>
<path class="mb" d="M319.3 508.6L322.4 510.1M319.3 508.6L329.1 511.2"/>
<path d="M117.1 486.4l5.1-5.2 1.4-.4-5.1 5.3z" color="#956b41"/>
<path class="mb" d="M118.5 486.1L123.6 480.8"/>
<path d="M25 523.7l10.4-2.1 .7 2.1-10.5 2.1z" color="#a7ae64"/>
<path class="mb" d="M25.6 525.8L36.1 523.7"/>
<path class="mb bd" d="M25 523.7L25.6 525.8"/>
<path d="M214.7 442.9l5 .8 2.3 5.7-5.1 0z" color="#b8e380"/>
<path class="mb" d="M214.7 442.9L219.7 443.7"/>
<path d="M122.2 481.2l5-5.9 1.5-.3-5.1 5.8z" color="#95683f"/>
<path class="mb" d="M127.2 475.3L128.7 475M123.6 480.8L128.7 475"/>
<path d="M167.4 437.6l5.1-.4 1.9 7.6-5.1-.1z" color="#bde986"/>
<path class="mb" d="M167.4 437.6L169.3 444.7M169.3 444.7L174.4 444.8"/>
<path d="M127.2 475.3l5-6.4 1.5 0-5 6.1z" color="#95673f"/>
<path class="mb" d="M127.2 475.3L128.7 475M128.7 475L133.7 468.9"/>
<path d="M162.4 438.7l5-1.1 1.9 7.1-5.1 .4z" color="#bde083"/>
<path class="mb" d="M167.4 437.6L169.3 444.7M164.2 445.1L169.3 444.7"/>
<path d="M209.7 443l5-.1 2.2 6.5-5 .7z" color="#bce384"/>
<path class="mb" d="M209.7 443L211.9 450.1M209.7 443L214.7 442.9"/>
<path d="M132.2 468.9l5-6.7 1.6 .6-5.1 6.1z" color="#976a41"/>
<path class="mb" d="M133.7 468.9L138.8 462.8"/>
<path d="M342.1 515.1l9.9 1.8 3.3 1.9-9.9-1.9z" color="#a1bc63"/>
<path class="mb" d="M342.1 515.1L345.4 516.9M345.4 516.9L355.3 518.8"/>
<path d="M157.3 441l5.1-2.3 1.8 6.4-5.1 1.2z" color="#bcd07d"/>
<path class="mb" d="M159.1 446.3L164.2 445.1"/>
<path d="M137.2 462.2l5-6.6 1.7 1.5-5.1 5.7z" color="#9a7146"/>
<path class="mb" d="M138.8 462.8L143.9 457.1"/>
<path d="M142.2 455.6l5-6 1.7 2.7-5 4.8z" color="#9f7e4e"/>
<path class="mb" d="M147.2 449.6L148.9 452.3M143.9 457.1L148.9 452.3"/>
<path d="M152.3 444.6l5-3.6 1.8 5.3-5.1 2.3z" color="#b4b46f"/>
<path class="mb" d="M154 448.6L159.1 446.3"/>
<path d="M204.7 443.6l5-.6 2.2 7.1-5.1 .9z" color="#bee385"/>
<path class="mb" d="M209.7 443L211.9 450.1M204.7 443.6L209.7 443"/>
<path d="M147.2 449.6l5.1-5 1.7 4-5.1 3.7z" color="#a8945c"/>
<path class="mb" d="M147.2 449.6L148.9 452.3M148.9 452.3L154 448.6"/>
<path d="M237 455.5l5 4.1 2.4 2.1-5-3.1z" color="#9ed469"/>
<path class="mb" d="M239.4 458.6L244.4 461.7"/>
<path d="M199.7 444.3l5-.7 2.1 7.4-5 .9z" color="#bfe486"/>
<path class="mb" d="M199.7 444.3L204.7 443.6"/>
<path d="M194.6 444.9l5.1-.6 2.1 7.6-5.1 .7z" color="#bfe687"/>
<path class="mb" d="M194.6 444.9L199.7 444.3"/>
<path d="M232 452.3l5 3.2 2.4 3.1-5-2.2z" color="#a5da70"/>
<path class="mb" d="M232 452.3L234.4 456.4M234.4 456.4L239.4 458.6"/>
<path d="M189.6 445.2l5-.3 2.1 7.7-5.1 .4z" color="#bfe987"/>
<path class="mb" d="M189.6 445.2L191.6 453M189.6 445.2L194.6 444.9"/>
<path d="M332.3 512.9l9.8 2.2 3.3 1.8-9.9-2.4z" color="#9fbd63"/>
<path class="mb" d="M342.1 515.1L345.4 516.9M335.5 514.5L345.4 516.9"/>
<path d="M184.5 445.3l5.1-.1 2 7.8-5.1 .1z" color="#beeb88"/>
<path class="mb" d="M189.6 445.2L191.6 453M184.5 445.3L189.6 445.2"/>
<path d="M227 450.3l5 2 2.4 4.1-5.1-1z" color="#adde77"/>
<path class="mb" d="M232 452.3L234.4 456.4M229.3 455.4L234.4 456.4"/>
<path d="M179.4 445.1l5.1 .2 2 7.8-5.1-.3z" color="#bded87"/>
<path class="mb" d="M179.4 445.1L184.5 445.3"/>
<path d="M222 449.4l5 .9 2.3 5.1-5-.1z" color="#b5df7d"/>
<path class="mb" d="M224.3 455.3L229.3 455.4"/>
<path d="M174.4 444.8l5 .3 2 7.7-5.1-.5z" color="#bced87"/>
<path class="mb" d="M174.4 444.8L179.4 445.1"/>
<path d="M77.7 512l10.2-4.4 1.2 1-10.3 4.7z" color="#a3985a"/>
<path class="mb" d="M87.9 507.6L89.1 508.6M77.7 512L87.9 507.6"/>
<path d="M87.9 507.6l10.3-5.4 1.3 .6-10.4 5.8z" color="#a08c53"/>
<path class="mb" d="M87.9 507.6L89.1 508.6M87.9 507.6L98.2 502.2"/>
<path d="M67.3 515.6l10.4-3.6 1.1 1.3-10.4 3.9z" color="#a6a25f"/>
<path class="mb" d="M67.3 515.6L68.4 517.2M67.3 515.6L77.7 512"/>
<path d="M98.2 502.2l10.2-7 1.3 .2-10.2 7.4z" color="#9c7f4c"/>
<path class="mb" d="M108.4 495.2L109.7 495.4M98.2 502.2L108.4 495.2"/>
<path d="M57 518.6l10.3-3 1.1 1.6-10.5 3.2z" color="#a7a661"/>
<path class="mb" d="M67.3 515.6L68.4 517.2M57 518.6L67.3 515.6"/>
<path d="M216.9 449.4l5.1 0 2.3 5.9-5.1 .7z" color="#badf81"/>
<path class="mb" d="M219.2 456L224.3 455.3"/>
<path d="M169.3 444.7l5.1 .1 1.9 7.5-5.1-.5z" color="#bbeb86"/>
<path class="mb" d="M169.3 444.7L171.2 451.8M169.3 444.7L174.4 444.8"/>
<path d="M46.6 521.3l10.4-2.7 .9 1.8-10.5 2.8z" color="#a7aa62"/>
<path class="mb" d="M46.6 521.3L47.4 523.2M46.6 521.3L57 518.6"/>
<path d="M108.4 495.2l5.1-4.3 1.4 .1-5.2 4.4z" color="#997647"/>
<path class="mb" d="M108.4 495.2L109.7 495.4M108.4 495.2L113.5 490.9"/>
<path d="M322.4 510.1l9.9 2.8 3.2 1.6-10-3z" color="#9ebd62"/>
<path class="mb" d="M322.4 510.1L325.5 511.5M325.5 511.5L335.5 514.5"/>
<path d="M36.1 523.7l10.5-2.4 .8 1.9-10.5 2.5z" color="#a7ac63"/>
<path class="mb" d="M46.6 521.3L47.4 523.2M36.1 523.7L46.6 521.3"/>
<path d="M113.5 490.9l5-4.8 1.5 0-5.1 4.9z" color="#977144"/>
<path class="mb" d="M113.5 490.9L118.5 486.1"/>
<path d="M25.6 525.8l10.5-2.1 .8 2-10.6 2.2z" color="#a7ae64"/>
<path class="mb" d="M25.6 525.8L36.1 523.7"/>
<path class="mb bd" d="M25.6 525.8L26.3 527.9"/>
<path d="M118.5 486.1l5.1-5.3 1.5 0-5.1 5.3z" color="#976e43"/>
<path class="mb" d="M118.5 486.1L123.6 480.8"/>
<path d="M164.2 445.1l5.1-.4 1.9 7.1-5.1-.2z" color="#bbe584"/>
<path class="mb" d="M169.3 444.7L171.2 451.8M164.2 445.1L169.3 444.7"/>
<path d="M211.9 450.1l5-.7 2.3 6.6-5.1 1z" color="#bdde83"/>
<path class="mb" d="M211.9 450.1L214.1 457M214.1 457L219.2 456"/>
<path d="M123.6 480.8l5.1-5.8 1.5 .2-5.1 5.6z" color="#976c42"/>
<path class="mb" d="M128.7 475L130.2 475.2M123.6 480.8L128.7 475"/>
<path d="M244.4 461.7l5 4 2.6 1.9-5.1-3.2z" color="#9dd167"/>
<path class="mb" d="M244.4 461.7L249.4 465.7"/>
<path d="M159.1 446.3l5.1-1.2 1.9 6.5-5.2 .4z" color="#bbda80"/>
<path class="mb" d="M159.1 446.3L164.2 445.1"/>
<path d="M206.8 451l5.1-.9 2.2 6.9-5.1 1.2z" color="#bedf84"/>
<path class="mb" d="M211.9 450.1L214.1 457M209 458.2L214.1 457"/>
<path d="M128.7 475l5-6.1 1.6 .6-5.1 5.7z" color="#986e44"/>
<path class="mb" d="M128.7 475L130.2 475.2M128.7 475L133.7 468.9"/>
<path d="M133.7 468.9l5.1-6.1 1.6 1.4-5.1 5.3z" color="#9a7447"/>
<path class="mb" d="M133.7 468.9L138.8 462.8"/>
<path d="M154 448.6l5.1-2.3 1.8 5.7-5.1 1.4z" color="#b9ca7a"/>
<path class="mb" d="M154 448.6L159.1 446.3"/>
<path d="M138.8 462.8l5.1-5.7 1.6 2.4-5.1 4.7z" color="#9f7f4e"/>
<path class="mb" d="M138.8 462.8L143.9 457.1"/>
<path d="M201.8 451.9l5-.9 2.2 7.2-5.1 1.1z" color="#bfe185"/>
<path class="mb" d="M203.9 459.3L209 458.2"/>
<path d="M148.9 452.3l5.1-3.7 1.8 4.8-5.2 2.4z" color="#b1ad6a"/>
<path class="mb" d="M148.9 452.3L150.6 455.8M148.9 452.3L154 448.6"/>
<path d="M143.9 457.1l5-4.8 1.7 3.5-5.1 3.7z" color="#a7925a"/>
<path class="mb" d="M148.9 452.3L150.6 455.8M143.9 457.1L148.9 452.3"/>
<path d="M355.3 518.8l9.9 1.5 7 4.1-10-1.7z" color="#a1bd64"/>
<path class="mb" d="M355.3 518.8L365.2 520.3M362.2 522.7L372.2 524.4"/>
<path class="mb bd" d="M365.2 520.3L372.2 524.4"/>
<path d="M239.4 458.6l5 3.1 2.5 2.7-5-2.2z" color="#a3d66d"/>
<path class="mb" d="M239.4 458.6L244.4 461.7"/>
<path d="M196.7 452.6l5.1-.7 2.1 7.4-5.1 .8z" color="#bee385"/>
<path class="mb" d="M198.8 460.1L203.9 459.3"/>
<path d="M191.6 453l5.1-.4 2.1 7.5-5.1 .4z" color="#bee686"/>
<path class="mb" d="M191.6 453L193.7 460.5M193.7 460.5L198.8 460.1"/>
<path d="M234.4 456.4l5 2.2 2.5 3.6-5.1-1.2z" color="#aad974"/>
<path class="mb" d="M234.4 456.4L236.8 461M234.4 456.4L239.4 458.6"/>
<path d="M186.5 453.1l5.1-.1 2.1 7.5-5.1 0z" color="#bde986"/>
<path class="mb" d="M191.6 453L193.7 460.5M188.6 460.5L193.7 460.5"/>
<path d="M229.3 455.4l5.1 1 2.4 4.6-5.1-.2z" color="#b2db7a"/>
<path class="mb" d="M234.4 456.4L236.8 461M229.3 455.4L234.4 456.4"/>
<path d="M181.4 452.8l5.1 .3 2.1 7.4-5.2-.3z" color="#bceb86"/>
<path class="mb" d="M183.4 460.2L188.6 460.5"/>
<path d="M345.4 516.9l9.9 1.9 6.9 3.9-10-2.2z" color="#a0bd63"/>
<path class="mb" d="M345.4 516.9L352.2 520.5M345.4 516.9L355.3 518.8M352.2 520.5L362.2 522.7"/>
<path d="M176.3 452.3l5.1 .5 2 7.4-5.1-.6z" color="#bbec85"/>
<path class="mb" d="M178.3 459.6L183.4 460.2"/>
<path d="M224.3 455.3l5 .1 2.4 5.4-5.1 .6z" color="#b7db7e"/>
<path class="mb" d="M224.3 455.3L229.3 455.4"/>
<path d="M171.2 451.8l5.1 .5 2 7.3-5.2-.8z" color="#baeb84"/>
<path class="mb" d="M171.2 451.8L173.1 458.8M173.1 458.8L178.3 459.6"/>
<path d="M219.2 456l5.1-.7 2.3 6.1-5.1 1.1z" color="#bbda80"/>
<path class="mb" d="M219.2 456L224.3 455.3"/>
<path d="M252 467.6l5 3.8 2.6 1.7-5.1-3.1z" color="#9cce65"/>
<path class="mb" d="M257 471.4L259.6 473.1M254.5 470L259.6 473.1"/>
<path d="M78.8 513.3l10.3-4.7 1.2 1.1-10.4 4.9z" color="#a39659"/>
<path class="mb" d="M89.1 508.6L90.3 509.7M79.9 514.6L90.3 509.7"/>
<path d="M68.4 517.2l10.4-3.9 1.1 1.3-10.5 4.1z" color="#a69f5e"/>
<path class="mb" d="M68.4 517.2L69.4 518.7M69.4 518.7L79.9 514.6"/>
<path d="M214.1 457l5.1-1 2.3 6.5-5.2 1.3z" color="#bdda81"/>
<path class="mb" d="M214.1 457L216.3 463.8M214.1 457L219.2 456"/>
<path d="M89.1 508.6l10.4-5.8 1.2 .7-10.4 6.2z" color="#9f8a52"/>
<path class="mb" d="M89.1 508.6L90.3 509.7M90.3 509.7L100.7 503.5"/>
<path d="M166.1 451.6l5.1 .2 1.9 7-5.2-.6z" color="#b9e883"/>
<path class="mb" d="M171.2 451.8L173.1 458.8M167.9 458.2L173.1 458.8"/>
<path d="M57.9 520.4l10.5-3.2 1 1.5-10.5 3.5z" color="#a7a661"/>
<path class="mb" d="M68.4 517.2L69.4 518.7M58.9 522.2L69.4 518.7"/>
<path d="M47.4 523.2l10.5-2.8 1 1.8-10.6 3z" color="#a7a962"/>
<path class="mb" d="M47.4 523.2L48.3 525.2M48.3 525.2L58.9 522.2"/>
<path d="M99.5 502.8l10.2-7.4 1.4 .3-10.4 7.8z" color="#9b7e4c"/>
<path class="mb" d="M109.7 495.4L111.1 495.7M100.7 503.5L111.1 495.7"/>
<path d="M36.9 525.7l10.5-2.5 .9 2-10.6 2.6z" color="#a7ab63"/>
<path class="mb" d="M47.4 523.2L48.3 525.2M37.7 527.8L48.3 525.2"/>
<path d="M109.7 495.4l5.2-4.4 1.4 .2-5.2 4.5z" color="#997647"/>
<path class="mb" d="M109.7 495.4L111.1 495.7M111.1 495.7L116.3 491.2"/>
<path d="M26.3 527.9l10.6-2.2 .8 2.1-10.6 2.3z" color="#a8ae64"/>
<path class="mb" d="M27.1 530.1L37.7 527.8"/>
<path class="mb bd" d="M26.3 527.9L27.1 530.1"/>
<path d="M209 458.2l5.1-1.2 2.2 6.8-5.1 1.4z" color="#bedb82"/>
<path class="mb" d="M214.1 457L216.3 463.8M209 458.2L214.1 457"/>
<path d="M335.5 514.5l9.9 2.4 6.8 3.6-10.1-2.6z" color="#9fbd62"/>
<path class="mb" d="M345.4 516.9L352.2 520.5M335.5 514.5L345.4 516.9M342.1 517.9L352.2 520.5"/>
<path d="M160.9 452l5.2-.4 1.8 6.6-5.1-.2z" color="#b9e181"/>
<path class="mb" d="M162.8 458L167.9 458.2"/>
<path d="M114.9 491l5.1-4.9 1.4 .3-5.1 4.8z" color="#987346"/>
<path class="mb" d="M116.3 491.2L121.4 486.4"/>
<path d="M246.9 464.4l5.1 3.2 2.5 2.4-5.1-2.4z" color="#a1d26a"/>
<path class="mb" d="M249.4 467.6L254.5 470"/>
<path d="M120 486.1l5.1-5.3 1.5 .4-5.2 5.2z" color="#987145"/>
<path class="mb" d="M121.4 486.4L126.6 481.2"/>
<path d="M203.9 459.3l5.1-1.1 2.2 7-5.1 1.2z" color="#bedd83"/>
<path class="mb" d="M203.9 459.3L209 458.2"/>
<path d="M155.8 453.4l5.1-1.4 1.9 6-5.2 .6z" color="#b9d47d"/>
<path class="mb" d="M157.6 458.6L162.8 458"/>
<path d="M125.1 480.8l5.1-5.6 1.5 .8-5.1 5.2z" color="#997246"/>
<path class="mb" d="M130.2 475.2L131.7 476M126.6 481.2L131.7 476"/>
<path d="M130.2 475.2l5.1-5.7 1.6 1.4-5.2 5.1z" color="#9b7648"/>
<path class="mb" d="M130.2 475.2L131.7 476M131.7 476L136.9 470.9"/>
<path d="M150.6 455.8l5.2-2.4 1.8 5.2-5.2 1.5z" color="#b7c376"/>
<path class="mb" d="M150.6 455.8L152.4 460.1M152.4 460.1L157.6 458.6"/>
<path d="M198.8 460.1l5.1-.8 2.2 7.1-5.2 .8z" color="#bde084"/>
<path class="mb" d="M198.8 460.1L203.9 459.3"/>
<path d="M135.3 469.5l5.1-5.3 1.7 2.2-5.2 4.5z" color="#9f7f4e"/>
<path class="mb" d="M136.9 470.9L142.1 466.4"/>
<path d="M145.5 459.5l5.1-3.7 1.8 4.3-5.2 2.6z" color="#aea766"/>
<path class="mb" d="M150.6 455.8L152.4 460.1M147.2 462.7L152.4 460.1"/>
<path d="M140.4 464.2l5.1-4.7 1.7 3.2-5.1 3.7z" color="#a58f58"/>
<path class="mb" d="M142.1 466.4L147.2 462.7"/>
<path d="M241.9 462.2l5 2.2 2.5 3.2-5.1-1.4z" color="#a8d570"/>
<path class="mb" d="M244.3 466.2L249.4 467.6"/>
<path d="M193.7 460.5l5.1-.4 2.1 7.1-5.1 .5z" color="#bde384"/>
<path class="mb" d="M193.7 460.5L195.8 467.7M193.7 460.5L198.8 460.1"/>
<path d="M188.6 460.5l5.1 0 2.1 7.2-5.2 0z" color="#bbe684"/>
<path class="mb" d="M193.7 460.5L195.8 467.7M188.6 460.5L193.7 460.5"/>
<path d="M236.8 461l5.1 1.2 2.4 4-5.1-.4z" color="#afd776"/>
<path class="mb" d="M236.8 461L239.2 465.8M239.2 465.8L244.3 466.2"/>
<path d="M325.5 511.5l10 3 6.6 3.4-10.1-3.4z" color="#9dbe61"/>
<path class="mb" d="M325.5 511.5L332 514.5M325.5 511.5L335.5 514.5M332 514.5L342.1 517.9"/>
<path d="M183.4 460.2l5.2 .3 2 7.2-5.2-.4z" color="#bae984"/>
<path class="mb" d="M183.4 460.2L188.6 460.5"/>
<path d="M231.7 460.8l5.1 .2 2.4 4.8-5.1 .5z" color="#b5d77a"/>
<path class="mb" d="M236.8 461L239.2 465.8M234.1 466.3L239.2 465.8"/>
<path d="M178.3 459.6l5.1 .6 2 7.1-5.1-.7z" color="#b9ea84"/>
<path class="mb" d="M178.3 459.6L183.4 460.2"/>
<path d="M226.6 461.4l5.1-.6 2.4 5.5-5.2 1.1z" color="#b9d67d"/>
<path class="mb" d="M228.9 467.4L234.1 466.3"/>
<path d="M259.6 473.1l5 3.7 2.7 1.6-5.1-3.1z" color="#9bcc64"/>
<path class="mb" d="M259.6 473.1L262.2 475.3M259.6 473.1L264.6 476.8"/>
<path d="M173.1 458.8l5.2 .8 2 7-5.2-.9z" color="#b8ea83"/>
<path class="mb" d="M173.1 458.8L175.1 465.7M173.1 458.8L178.3 459.6"/>
<path d="M221.5 462.5l5.1-1.1 2.3 6-5.1 1.5z" color="#bbd57f"/>
<path class="mb" d="M223.8 468.9L228.9 467.4"/>
<path d="M216.3 463.8l5.2-1.3 2.3 6.4-5.2 1.5z" color="#bcd680"/>
<path class="mb" d="M216.3 463.8L218.6 470.4M218.6 470.4L223.8 468.9"/>
<path d="M167.9 458.2l5.2 .6 2 6.9-5.2-.9z" color="#b7e882"/>
<path class="mb" d="M173.1 458.8L175.1 465.7M167.9 458.2L173.1 458.8"/>
<path d="M254.5 470l5.1 3.1 2.6 2.2-5.1-2.5z" color="#9fcf68"/>
<path class="mb" d="M259.6 473.1L262.2 475.3M254.5 470L259.6 473.1"/>
<path d="M211.2 465.2l5.1-1.4 2.3 6.6-5.1 1.5z" color="#bdd781"/>
<path class="mb" d="M216.3 463.8L218.6 470.4M213.5 471.9L218.6 470.4"/>
<path d="M162.8 458l5.1 .2 2 6.6-5.3-.7z" color="#b7e480"/>
<path class="mb" d="M162.8 458L167.9 458.2"/>
<path d="M79.9 514.6l10.4-4.9 1.3 1-10.6 5.3z" color="#a29457"/>
<path class="mb" d="M90.3 509.7L91.6 510.7M79.9 514.6L90.3 509.7"/>
<path d="M69.4 518.7l10.5-4.1 1.1 1.4-10.5 4.3z" color="#a59d5d"/>
<path class="mb" d="M69.4 518.7L70.5 520.3M69.4 518.7L79.9 514.6"/>
<path d="M58.9 522.2l10.5-3.5 1.1 1.6-10.7 3.7z" color="#a7a561"/>
<path class="mb" d="M69.4 518.7L70.5 520.3M58.9 522.2L69.4 518.7"/>
<path d="M90.3 509.7l10.4-6.2 1.3 .7-10.4 6.5z" color="#9f8951"/>
<path class="mb" d="M90.3 509.7L91.6 510.7M90.3 509.7L100.7 503.5"/>
<path d="M48.3 525.2l10.6-3 .9 1.8-10.6 3.1z" color="#a7a862"/>
<path class="mb" d="M48.3 525.2L49.2 527.1M48.3 525.2L58.9 522.2"/>
<path d="M206.1 466.4l5.1-1.2 2.3 6.7-5.2 1.3z" color="#bdda81"/>
<path class="mb" d="M208.3 473.2L213.5 471.9"/>
<path d="M37.7 527.8l10.6-2.6 .9 1.9-10.7 2.8z" color="#a8ab63"/>
<path class="mb" d="M48.3 525.2L49.2 527.1M37.7 527.8L48.3 525.2"/>
<path d="M100.7 503.5l10.4-7.8 1.4 .5-10.5 8z" color="#9c7e4c"/>
<path class="mb" d="M111.1 495.7L112.5 496.2M100.7 503.5L111.1 495.7"/>
<path d="M27.1 530.1l10.6-2.3 .8 2.1-10.7 2.4z" color="#a8ad64"/>
<path class="mb" d="M27.1 530.1L37.7 527.8"/>
<path class="mb bd" d="M27.1 530.1L27.8 532.3"/>
<path d="M249.4 467.6l5.1 2.4 2.6 2.8-5.1-1.6z" color="#a5d26d"/>
<path class="mb" d="M249.4 467.6L254.5 470"/>
<path d="M157.6 458.6l5.2-.6 1.8 6.1-5.2-.1z" color="#b7db7e"/>
<path class="mb" d="M157.6 458.6L162.8 458"/>
<path d="M111.1 495.7l5.2-4.5 1.4 .5-5.2 4.5z" color="#9a7848"/>
<path class="mb" d="M111.1 495.7L112.5 496.2M111.1 495.7L116.3 491.2"/>
<path d="M200.9 467.2l5.2-.8 2.2 6.8-5.2 .9z" color="#bcdd82"/>
<path class="mb" d="M203.1 474.1L208.3 473.2"/>
<path d="M116.3 491.2l5.1-4.8 1.5 .5-5.2 4.8z" color="#9a7547"/>
<path class="mb" d="M116.3 491.2L121.4 486.4"/>
<path d="M152.4 460.1l5.2-1.5 1.8 5.4-5.2 .7z" color="#b7ce79"/>
<path class="mb" d="M152.4 460.1L154.2 464.7M152.4 460.1L157.6 458.6"/>
<path d="M121.4 486.4l5.2-5.2 1.5 .8-5.2 4.9z" color="#9a7648"/>
<path class="mb" d="M121.4 486.4L126.6 481.2"/>
<path d="M362.2 522.7l10 1.7 7.3 4.3-10.1-2z" color="#a1bd64"/>
<path class="mb" d="M362.2 522.7L372.2 524.4M369.4 526.7L379.5 528.7"/>
<path class="mb bd" d="M372.2 524.4L379.5 528.7"/>
<path d="M126.6 481.2l5.1-5.2 1.6 1.2-5.2 4.8z" color="#9c794a"/>
<path class="mb" d="M131.7 476L133.3 477.2M126.6 481.2L131.7 476"/>
<path d="M147.2 462.7l5.2-2.6 1.8 4.6-5.2 1.7z" color="#b5bd72"/>
<path class="mb" d="M152.4 460.1L154.2 464.7M147.2 462.7L152.4 460.1"/>
<path d="M195.8 467.7l5.1-.5 2.2 6.9-5.2 .4z" color="#bbe182"/>
<path class="mb" d="M195.8 467.7L197.9 474.5M197.9 474.5L203.1 474.1"/>
<path d="M131.7 476l5.2-5.1 1.6 1.9-5.2 4.4z" color="#9f804e"/>
<path class="mb" d="M131.7 476L133.3 477.2M131.7 476L136.9 470.9"/>
<path d="M244.3 466.2l5.1 1.4 2.6 3.6-5.2-.6z" color="#acd473"/>
<path class="mb" d="M244.3 466.2L249.4 467.6"/>
<path d="M142.1 466.4l5.1-3.7 1.8 3.7-5.3 2.7z" color="#aba163"/>
<path class="mb" d="M142.1 466.4L147.2 462.7"/>
<path d="M136.9 470.9l5.2-4.5 1.6 2.7-5.2 3.7z" color="#a48d56"/>
<path class="mb" d="M136.9 470.9L142.1 466.4"/>
<path d="M190.6 467.7l5.2 0 2.1 6.8-5.2 .1z" color="#bae482"/>
<path class="mb" d="M195.8 467.7L197.9 474.5M192.7 474.6L197.9 474.5"/>
<path d="M239.2 465.8l5.1 .4 2.5 4.4-5.1 .2z" color="#b2d477"/>
<path class="mb" d="M239.2 465.8L241.7 470.8M239.2 465.8L244.3 466.2"/>
<path d="M185.4 467.3l5.2 .4 2.1 6.9-5.2-.4z" color="#b9e682"/>
<path class="mb" d="M187.5 474.2L192.7 474.6"/>
<path d="M267.3 478.4l5.1 3.5 2.8 1.5-5.2-3.1z" color="#967746"/>
<path class="mb" d="M270 480.3L275.2 483.4"/>
<path d="M234.1 466.3l5.1-.5 2.5 5-5.2 1z" color="#b6d27a"/>
<path class="mb" d="M239.2 465.8L241.7 470.8M234.1 466.3L239.2 465.8"/>
<path d="M180.3 466.6l5.1 .7 2.1 6.9-5.2-.8z" color="#b8e882"/>
<path class="mb" d="M182.3 473.4L187.5 474.2"/>
<path d="M228.9 467.4l5.2-1.1 2.4 5.5-5.2 1.5z" color="#b9d17c"/>
<path class="mb" d="M228.9 467.4L234.1 466.3"/>
<path d="M352.2 520.5l10 2.2 7.2 4-10.2-2.4z" color="#a0be63"/>
<path class="mb" d="M352.2 520.5L359.2 524.3M352.2 520.5L362.2 522.7M359.2 524.3L369.4 526.7"/>
<path d="M175.1 465.7l5.2 .9 2 6.8-5.3-1z" color="#b6e981"/>
<path class="mb" d="M175.1 465.7L177 472.4M177 472.4L182.3 473.4"/>
<path d="M262.2 475.3l5.1 3.1 2.7 1.9-5.1-2.5z" color="#9ecc66"/>
<path class="mb" d="M262.2 475.3L264.9 477.8M264.9 477.8L270 480.3"/>
<path d="M223.8 468.9l5.1-1.5 2.4 5.9-5.2 1.8z" color="#bbd17d"/>
<path class="mb" d="M223.8 468.9L228.9 467.4"/>
<path d="M218.6 470.4l5.2-1.5 2.3 6.2-5.2 1.7z" color="#bcd27e"/>
<path class="mb" d="M218.6 470.4L220.9 476.8M218.6 470.4L223.8 468.9"/>
<path d="M169.9 464.8l5.2 .9 1.9 6.7-5.2-1.1z" color="#b6e880"/>
<path class="mb" d="M175.1 465.7L177 472.4M171.8 471.3L177 472.4"/>
<path d="M213.5 471.9l5.1-1.5 2.3 6.4-5.2 1.6z" color="#bcd47f"/>
<path class="mb" d="M218.6 470.4L220.9 476.8M213.5 471.9L218.6 470.4"/>
<path d="M257.1 472.8l5.1 2.5 2.7 2.5-5.1-1.8z" color="#a3cf6b"/>
<path class="mb" d="M262.2 475.3L264.9 477.8M259.8 476L264.9 477.8"/>
<path d="M164.6 464.1l5.3 .7 1.9 6.5-5.3-1z" color="#b5e57f"/>
<path class="mb" d="M166.5 470.3L171.8 471.3"/>
<path d="M208.3 473.2l5.2-1.3 2.2 6.5-5.2 1.3z" color="#bcd780"/>
<path class="mb" d="M208.3 473.2L213.5 471.9"/>
<path d="M159.4 464l5.2 .1 1.9 6.2-5.2-.7z" color="#b5df7d"/>
<path class="mb" d="M161.3 469.6L166.5 470.3"/>
<path d="M342.1 517.9l10.1 2.6 7 3.8-10.3-3z" color="#9fbe62"/>
<path class="mb" d="M352.2 520.5L359.2 524.3M342.1 517.9L352.2 520.5M348.9 521.3L359.2 524.3"/>
<path d="M203.1 474.1l5.2-.9 2.2 6.5-5.2 .9z" color="#bbda80"/>
<path class="mb" d="M203.1 474.1L208.3 473.2"/>
<path d="M70.5 520.3l10.5-4.3 1.2 1.3-10.7 4.6z" color="#a59b5c"/>
<path class="mb" d="M70.5 520.3L71.5 521.9M71.5 521.9L82.2 517.3"/>
<path d="M252 471.2l5.1 1.6 2.7 3.2-5.2-.9z" color="#a9d170"/>
<path class="mb" d="M254.6 475.1L259.8 476"/>
<path d="M81 516l10.6-5.3 1.2 1.1-10.6 5.5z" color="#a29257"/>
<path class="mb" d="M91.6 510.7L92.8 511.8M82.2 517.3L92.8 511.8"/>
<path d="M59.8 524l10.7-3.7 1 1.6-10.7 3.9z" color="#a7a460"/>
<path class="mb" d="M70.5 520.3L71.5 521.9M60.8 525.8L71.5 521.9"/>
<path d="M49.2 527.1l10.6-3.1 1 1.8-10.7 3.3z" color="#a8a762"/>
<path class="mb" d="M49.2 527.1L50.1 529.1M50.1 529.1L60.8 525.8"/>
<path d="M91.6 510.7l10.4-6.5 1.4 .8-10.6 6.8z" color="#9f8751"/>
<path class="mb" d="M91.6 510.7L92.8 511.8M92.8 511.8L103.4 505"/>
<path d="M38.5 529.9l10.7-2.8 .9 2-10.8 2.9z" color="#a8aa63"/>
<path class="mb" d="M49.2 527.1L50.1 529.1M39.3 532L50.1 529.1"/>
<path d="M27.8 532.3l10.7-2.4 .8 2.1-10.8 2.5z" color="#a8ad64"/>
<path class="mb" d="M28.5 534.5L39.3 532"/>
<path class="mb bd" d="M27.8 532.3L28.5 534.5"/>
<path d="M154.2 464.7l5.2-.7 1.9 5.6-5.3 0z" color="#b5d57a"/>
<path class="mb" d="M154.2 464.7L156 469.6M156 469.6L161.3 469.6"/>
<path d="M102 504.2l10.5-8 1.4 .7-10.5 8.1z" color="#9c7e4c"/>
<path class="mb" d="M112.5 496.2L113.9 496.9M103.4 505L113.9 496.9"/>
<path d="M197.9 474.5l5.2-.4 2.2 6.5-5.2 .5z" color="#bade80"/>
<path class="mb" d="M197.9 474.5L200.1 481.1M197.9 474.5L203.1 474.1"/>
<path d="M112.5 496.2l5.2-4.5 1.5 .7-5.3 4.5z" color="#9b7a4a"/>
<path class="mb" d="M112.5 496.2L113.9 496.9M113.9 496.9L119.2 492.4"/>
<path d="M149 466.4l5.2-1.7 1.8 4.9-5.3 .9z" color="#b5c775"/>
<path class="mb" d="M154.2 464.7L156 469.6M150.7 470.5L156 469.6"/>
<path d="M117.7 491.7l5.2-4.8 1.5 .9-5.2 4.6z" color="#9b794a"/>
<path class="mb" d="M119.2 492.4L124.4 487.8"/>
<path d="M246.8 470.6l5.2 .6 2.6 3.9-5.2 0z" color="#afd174"/>
<path class="mb" d="M249.4 475.1L254.6 475.1"/>
<path d="M122.9 486.9l5.2-4.9 1.6 1.3-5.3 4.5z" color="#9c7b4b"/>
<path class="mb" d="M124.4 487.8L129.7 483.3"/>
<path d="M192.7 474.6l5.2-.1 2.2 6.6-5.3 0z" color="#b9e181"/>
<path class="mb" d="M197.9 474.5L200.1 481.1M192.7 474.6L197.9 474.5"/>
<path d="M143.7 469.1l5.3-2.7 1.7 4.1-5.2 1.9z" color="#b2b56d"/>
<path class="mb" d="M145.5 472.4L150.7 470.5"/>
<path d="M128.1 482l5.2-4.8 1.6 1.8-5.2 4.3z" color="#9f814f"/>
<path class="mb" d="M133.3 477.2L134.9 479M129.7 483.3L134.9 479"/>
<path d="M138.5 472.8l5.2-3.7 1.8 3.3-5.3 2.9z" color="#a99d5f"/>
<path class="mb" d="M140.2 475.3L145.5 472.4"/>
<path d="M133.3 477.2l5.2-4.4 1.7 2.5-5.3 3.7z" color="#a38b55"/>
<path class="mb" d="M133.3 477.2L134.9 479M134.9 479L140.2 475.3"/>
<path d="M241.7 470.8l5.1-.2 2.6 4.5-5.2 .9z" color="#b4d077"/>
<path class="mb" d="M241.7 470.8L244.2 476M244.2 476L249.4 475.1"/>
<path d="M187.5 474.2l5.2 .4 2.1 6.5-5.2-.4z" color="#b7e480"/>
<path class="mb" d="M187.5 474.2L192.7 474.6"/>
<path d="M236.5 471.8l5.2-1 2.5 5.2-5.2 1.4z" color="#b7ce7a"/>
<path class="mb" d="M241.7 470.8L244.2 476M239 477.4L244.2 476"/>
<path d="M332 514.5l10.1 3.4 6.8 3.4-10.2-3.7z" color="#9dbf61"/>
<path class="mb" d="M332 514.5L338.7 517.6M332 514.5L342.1 517.9M338.7 517.6L348.9 521.3"/>
<path d="M182.3 473.4l5.2 .8 2.1 6.5-5.3-.8z" color="#b6e680"/>
<path class="mb" d="M182.3 473.4L187.5 474.2"/>
<path d="M231.3 473.3l5.2-1.5 2.5 5.6-5.2 1.8z" color="#b9cd7b"/>
<path class="mb" d="M233.8 479.2L239 477.4"/>
<path d="M177 472.4l5.3 1 2 6.5-5.2-1.1z" color="#b5e780"/>
<path class="mb" d="M177 472.4L179.1 478.8M177 472.4L182.3 473.4"/>
<path d="M226.1 475.1l5.2-1.8 2.5 5.9-5.3 1.9z" color="#bbcd7c"/>
<path class="mb" d="M228.5 481.1L233.8 479.2"/>
<path d="M220.9 476.8l5.2-1.7 2.4 6-5.2 1.9z" color="#bbcf7c"/>
<path class="mb" d="M220.9 476.8L223.3 483M223.3 483L228.5 481.1"/>
<path d="M171.8 471.3l5.2 1.1 2.1 6.4-5.3-1.2z" color="#b4e77f"/>
<path class="mb" d="M177 472.4L179.1 478.8M171.8 471.3L177 472.4"/>
<path d="M275.2 483.4l5 3.4 5.8 3.1-5.2-2.7z" color="#9bc863"/>
<path class="mb" d="M275.2 483.4L280.2 486.8M280.8 487.2L286 489.9"/>
<path d="M215.7 478.4l5.2-1.6 2.4 6.2-5.3 1.7z" color="#bbd17d"/>
<path class="mb" d="M220.9 476.8L223.3 483M218 484.7L223.3 483"/>
<path d="M166.5 470.3l5.3 1 2 6.3-5.3-1.3z" color="#b4e57e"/>
<path class="mb" d="M166.5 470.3L171.8 471.3"/>
<path d="M210.5 479.7l5.2-1.3 2.3 6.3-5.2 1.3z" color="#bbd47e"/>
<path class="mb" d="M212.8 486L218 484.7"/>
<path d="M321.9 510.3l10.1 4.2 6.7 3.1-10.3-4.5z" color="#9bc061"/>
<path class="mb" d="M332 514.5L338.7 517.6M321.9 510.3L332 514.5M328.4 513.1L338.7 517.6"/>
<path d="M205.3 480.6l5.2-.9 2.3 6.3-5.3 .9z" color="#bad87e"/>
<path class="mb" d="M207.5 486.9L212.8 486"/>
<path d="M161.3 469.6l5.2 .7 2 6-5.3-1z" color="#b4e17d"/>
<path class="mb" d="M161.3 469.6L166.5 470.3"/>
<path d="M270 480.3l5.2 3.1 5.6 3.8-5.2-2.1z" color="#9eca66"/>
<path class="mb" d="M270 480.3L275.2 483.4M275.6 485.1L280.8 487.2"/>
<path d="M200.1 481.1l5.2-.5 2.2 6.3-5.2 .5z" color="#b9db7f"/>
<path class="mb" d="M200.1 481.1L202.3 487.4M202.3 487.4L207.5 486.9"/>
<path d="M156 469.6l5.3 0 1.9 5.7-5.3-.5z" color="#b4da7b"/>
<path class="mb" d="M156 469.6L157.9 474.8M156 469.6L161.3 469.6"/>
<path d="M71.5 521.9l10.7-4.6 1.2 1.4-10.8 4.8z" color="#a49a5b"/>
<path class="mb" d="M71.5 521.9L72.6 523.5M71.5 521.9L82.2 517.3"/>
<path d="M60.8 525.8l10.7-3.9 1.1 1.6-10.8 4.1z" color="#a7a260"/>
<path class="mb" d="M71.5 521.9L72.6 523.5M60.8 525.8L71.5 521.9"/>
<path d="M82.2 517.3l10.6-5.5 1.3 1.1-10.7 5.8z" color="#a19056"/>
<path class="mb" d="M92.8 511.8L94.1 512.9M82.2 517.3L92.8 511.8"/>
<path d="M50.1 529.1l10.7-3.3 1 1.8-10.8 3.5z" color="#a8a762"/>
<path class="mb" d="M50.1 529.1L51 531.1M50.1 529.1L60.8 525.8"/>
<path d="M39.3 532l10.8-2.9 .9 2-10.8 3z" color="#a8aa63"/>
<path class="mb" d="M50.1 529.1L51 531.1M39.3 532L50.1 529.1"/>
<path d="M92.8 511.8l10.6-6.8 1.3 .9-10.6 7z" color="#9f8751"/>
<path class="mb" d="M92.8 511.8L94.1 512.9M92.8 511.8L103.4 505"/>
<path d="M28.5 534.5l10.8-2.5 .9 2.1-10.9 2.7z" color="#a8ac63"/>
<path class="mb" d="M28.5 534.5L39.3 532"/>
<path class="mb bd" d="M28.5 534.5L29.3 536.8"/>
<path d="M194.8 481.1l5.3 0 2.2 6.3-5.3 0z" color="#b8df7f"/>
<path class="mb" d="M200.1 481.1L202.3 487.4M197 487.4L202.3 487.4"/>
<path d="M150.7 470.5l5.3-.9 1.9 5.2-5.4 .2z" color="#b4cf77"/>
<path class="mb" d="M156 469.6L157.9 474.8M150.7 470.5L156 469.6"/>
<path d="M369.4 526.7l10.1 2 7.6 4.4-10.3-2.2z" color="#a1be64"/>
<path class="mb" d="M369.4 526.7L379.5 528.7M376.8 530.9L387.1 533.1"/>
<path class="mb bd" d="M379.5 528.7L387.1 533.1"/>
<path d="M264.9 477.8l5.1 2.5 5.6 4.8-5.2-1.4z" color="#a2cc69"/>
<path class="mb" d="M264.9 477.8L270.4 483.7M264.9 477.8L270 480.3M270.4 483.7L275.6 485.1"/>
<path d="M103.4 505l10.5-8.1 1.5 .9-10.7 8.1z" color="#9d7f4d"/>
<path class="mb" d="M113.9 496.9L115.4 497.8M103.4 505L113.9 496.9"/>
<path d="M113.9 496.9l5.3-4.5 1.5 1-5.3 4.4z" color="#9c7d4b"/>
<path class="mb" d="M113.9 496.9L115.4 497.8M113.9 496.9L119.2 492.4"/>
<path d="M145.5 472.4l5.2-1.9 1.8 4.5-5.3 1.1z" color="#b3c072"/>
<path class="mb" d="M145.5 472.4L150.7 470.5"/>
<path d="M119.2 492.4l5.2-4.6 1.6 1.3-5.3 4.3z" color="#9d7e4c"/>
<path class="mb" d="M119.2 492.4L124.4 487.8"/>
<path d="M140.2 475.3l5.3-2.9 1.7 3.7-5.3 2.1z" color="#aead69"/>
<path class="mb" d="M140.2 475.3L145.5 472.4"/>
<path d="M189.6 480.7l5.2 .4 2.2 6.3-5.3-.4z" color="#b6e17f"/>
<path class="mb" d="M191.7 487L197 487.4"/>
<path d="M124.4 487.8l5.3-4.5 1.6 1.6-5.3 4.2z" color="#9f824f"/>
<path class="mb" d="M124.4 487.8L129.7 483.3"/>
<path d="M129.7 483.3l5.2-4.3 1.7 2.2-5.3 3.7z" color="#a28a54"/>
<path class="mb" d="M134.9 479L136.6 481.2M129.7 483.3L134.9 479"/>
<path d="M134.9 479l5.3-3.7 1.7 2.9-5.3 3z" color="#a7985d"/>
<path class="mb" d="M134.9 479L136.6 481.2M134.9 479L140.2 475.3"/>
<path d="M259.8 476l5.1 1.8 5.5 5.9-5.2-.6z" color="#a7cd6e"/>
<path class="mb" d="M264.9 477.8L270.4 483.7M259.8 476L264.9 477.8M265.2 483.1L270.4 483.7"/>
<path d="M184.3 479.9l5.3 .8 2.1 6.3-5.3-.8z" color="#b5e47e"/>
<path class="mb" d="M186.4 486.2L191.7 487"/>
<path d="M254.6 475.1l5.2 .9 5.4 7.1-5.3 .3z" color="#adcd72"/>
<path class="mb" d="M254.6 475.1L259.8 476M259.9 483.4L265.2 483.1"/>
<path d="M179.1 478.8l5.2 1.1 2.1 6.3-5.3-1.1z" color="#b4e57e"/>
<path class="mb" d="M179.1 478.8L181.1 485.1M181.1 485.1L186.4 486.2"/>
<path d="M359.2 524.3l10.2 2.4 7.4 4.2-10.4-2.7z" color="#a0be63"/>
<path class="mb" d="M359.2 524.3L366.4 528.2M359.2 524.3L369.4 526.7M366.4 528.2L376.8 530.9"/>
<path d="M249.4 475.1l5.2 0 5.3 8.3-5.3 1.1z" color="#b2cb75"/>
<path class="mb" d="M249.4 475.1L254.6 475.1M254.6 484.5L259.9 483.4"/>
<path d="M173.8 477.6l5.3 1.2 2 6.3-5.3-1.4z" color="#b3e57d"/>
<path class="mb" d="M179.1 478.8L181.1 485.1M175.8 483.7L181.1 485.1"/>
<path d="M244.2 476l5.2-.9 5.2 9.4-5.3 1.7z" color="#b5ca77"/>
<path class="mb" d="M244.2 476L249.3 486.2M244.2 476L249.4 475.1M249.3 486.2L254.6 484.5"/>
<path d="M168.5 476.3l5.3 1.3 2 6.1-5.4-1.5z" color="#b2e47d"/>
<path class="mb" d="M170.4 482.2L175.8 483.7"/>
<path d="M239 477.4l5.2-1.4 5.1 10.2-5.3 2.1z" color="#b8c878"/>
<path class="mb" d="M244.2 476L249.3 486.2M239 477.4L244.2 476M244 488.3L249.3 486.2"/>
<path d="M163.2 475.3l5.3 1 1.9 5.9-5.3-1.3z" color="#b2e27c"/>
<path class="mb" d="M165.1 480.9L170.4 482.2"/>
<path d="M233.8 479.2l5.2-1.8 5 10.9-5.3 2.2z" color="#b9c879"/>
<path class="mb" d="M233.8 479.2L239 477.4M238.7 490.5L244 488.3"/>
<path d="M228.5 481.1l5.3-1.9 4.9 11.3-5.3 2.2z" color="#bac979"/>
<path class="mb" d="M228.5 481.1L233.8 479.2M233.4 492.7L238.7 490.5"/>
<path d="M348.9 521.3l10.3 3 7.2 3.9-10.4-3.3z" color="#9ebf62"/>
<path class="mb" d="M359.2 524.3L366.4 528.2M348.9 521.3L359.2 524.3M356 524.9L366.4 528.2"/>
<path d="M157.9 474.8l5.3 .5 1.9 5.6-5.4-.9z" color="#b2dd7a"/>
<path class="mb" d="M157.9 474.8L159.7 480M159.7 480L165.1 480.9"/>
<path d="M223.3 483l5.2-1.9 4.9 11.6-5.3 2.1z" color="#baca7a"/>
<path class="mb" d="M223.3 483L228.1 494.8M223.3 483L228.5 481.1M228.1 494.8L233.4 492.7"/>
<path d="M152.5 475l5.4-.2 1.8 5.2-5.3-.4z" color="#b2d478"/>
<path class="mb" d="M157.9 474.8L159.7 480M154.4 479.6L159.7 480"/>
<path d="M61.8 527.6l10.8-4.1 1.1 1.7-10.8 4.3z" color="#a6a05f"/>
<path class="mb" d="M72.6 523.5L73.7 525.2M62.9 529.5L73.7 525.2"/>
<path d="M72.6 523.5l10.8-4.8 1.2 1.4-10.9 5.1z" color="#a4985a"/>
<path class="mb" d="M72.6 523.5L73.7 525.2M73.7 525.2L84.6 520.1"/>
<path d="M51 531.1l10.8-3.5 1.1 1.9-10.9 3.6z" color="#a8a662"/>
<path class="mb" d="M51 531.1L52 533.1M52 533.1L62.9 529.5"/>
<path d="M40.2 534.1l10.8-3 1 2-11 3.2z" color="#a8a963"/>
<path class="mb" d="M51 531.1L52 533.1M41 536.3L52 533.1"/>
<path d="M218 484.7l5.3-1.7 4.8 11.8-5.3 1.7z" color="#b9cd7b"/>
<path class="mb" d="M223.3 483L228.1 494.8M218 484.7L223.3 483M222.8 496.5L228.1 494.8"/>
<path d="M83.4 518.7l10.7-5.8 1.3 1.1-10.8 6.1z" color="#a18f55"/>
<path class="mb" d="M94.1 512.9L95.4 514M84.6 520.1L95.4 514"/>
<path d="M29.3 536.8l10.9-2.7 .8 2.2-11 2.8z" color="#a8ac63"/>
<path class="mb" d="M30 539.1L41 536.3"/>
<path class="mb bd" d="M29.3 536.8L30 539.1"/>
<path d="M94.1 512.9l10.6-7 1.4 1-10.7 7.1z" color="#9f8751"/>
<path class="mb" d="M94.1 512.9L95.4 514M95.4 514L106.1 506.9"/>
<path d="M147.2 476.1l5.3-1.1 1.9 4.6-5.4 .5z" color="#b2c874"/>
<path class="mb" d="M149 480.1L154.4 479.6"/>
<path d="M104.7 505.9l10.7-8.1 1.4 1-10.7 8.1z" color="#9d814e"/>
<path class="mb" d="M115.4 497.8L116.8 498.8M106.1 506.9L116.8 498.8"/>
<path d="M291.2 492.9l10.3 6.4 6.2 2.7-10.5-5.7z" color="#997e4a"/>
<path class="mb" d="M291.2 492.9L297.2 496.3M291.2 492.9L301.5 499.3M297.2 496.3L307.7 502"/>
<path d="M212.8 486l5.2-1.3 4.8 11.8-5.4 1.4z" color="#b9d07b"/>
<path class="mb" d="M212.8 486L218 484.7M217.4 497.9L222.8 496.5"/>
<path d="M141.9 478.2l5.3-2.1 1.8 4-5.4 1.4z" color="#b1ba6f"/>
<path class="mb" d="M143.6 481.5L149 480.1"/>
<path d="M115.4 497.8l5.3-4.4 1.5 1.3-5.4 4.1z" color="#9d804e"/>
<path class="mb" d="M115.4 497.8L116.8 498.8M116.8 498.8L122.2 494.7"/>
<path d="M120.7 493.4l5.3-4.3 1.6 1.6-5.4 4z" color="#9f834f"/>
<path class="mb" d="M122.2 494.7L127.6 490.7"/>
<path d="M136.6 481.2l5.3-3 1.7 3.3-5.3 2.3z" color="#aca664"/>
<path class="mb" d="M136.6 481.2L138.3 483.8M138.3 483.8L143.6 481.5"/>
<path d="M126 489.1l5.3-4.2 1.6 2.1-5.3 3.7z" color="#a18a53"/>
<path class="mb" d="M127.6 490.7L132.9 487"/>
<path d="M131.3 484.9l5.3-3.7 1.7 2.6-5.4 3.2z" color="#a6955a"/>
<path class="mb" d="M136.6 481.2L138.3 483.8M132.9 487L138.3 483.8"/>
<path d="M207.5 486.9l5.3-.9 4.6 11.9-5.3 .9z" color="#b8d47c"/>
<path class="mb" d="M207.5 486.9L212.8 486M212.1 498.8L217.4 497.9"/>
<path d="M202.3 487.4l5.2-.5 4.6 11.9-5.3 .5z" color="#b7d77c"/>
<path class="mb" d="M202.3 487.4L206.8 499.3M202.3 487.4L207.5 486.9M206.8 499.3L212.1 498.8"/>
<path d="M338.7 517.6l10.2 3.7 7.1 3.6-10.4-4z" color="#9dc062"/>
<path class="mb" d="M338.7 517.6L345.6 520.9M338.7 517.6L348.9 521.3M345.6 520.9L356 524.9"/>
<path d="M197 487.4l5.3 0 4.5 11.9-5.4 .1z" color="#b6db7c"/>
<path class="mb" d="M202.3 487.4L206.8 499.3M197 487.4L202.3 487.4M201.4 499.4L206.8 499.3"/>
<path d="M286 489.9l5.2 3 6 3.4-5.2-2.4z" color="#9cc763"/>
<path class="mb" d="M291.2 492.9L297.2 496.3M286 489.9L291.2 492.9M292 493.9L297.2 496.3"/>
<path d="M191.7 487l5.3 .4 4.4 12-5.4-.4z" color="#b4de7c"/>
<path class="mb" d="M191.7 487L197 487.4M196 499L201.4 499.4"/>
<path d="M186.4 486.2l5.3 .8 4.3 12-5.3-.9z" color="#b3e07c"/>
<path class="mb" d="M186.4 486.2L191.7 487M190.7 498.1L196 499"/>
<path d="M280.8 487.2l5.2 2.7 6 4-5.3-1.9z" color="#9fc866"/>
<path class="mb" d="M280.8 487.2L286 489.9M286.7 492L292 493.9"/>
<path d="M328.4 513.1l10.3 4.5 6.9 3.3-10.4-4.8z" color="#9bc161"/>
<path class="mb" d="M338.7 517.6L345.6 520.9M328.4 513.1L338.7 517.6M335.2 516.1L345.6 520.9"/>
<path d="M181.1 485.1l5.3 1.1 4.3 11.9-5.4-1.2z" color="#b2e27c"/>
<path class="mb" d="M181.1 485.1L185.3 496.9M181.1 485.1L186.4 486.2M185.3 496.9L190.7 498.1"/>
<path d="M275.6 485.1l5.2 2.1 5.9 4.8-5.3-1.1z" color="#a3c969"/>
<path class="mb" d="M275.6 485.1L280.8 487.2M281.4 490.9L286.7 492"/>
<path d="M175.8 483.7l5.3 1.4 4.2 11.8-5.4-1.5z" color="#b1e37b"/>
<path class="mb" d="M181.1 485.1L185.3 496.9M175.8 483.7L181.1 485.1M179.9 495.4L185.3 496.9"/>
<path d="M376.8 530.9l10.3 2.2 7.8 4.5-10.5-2.4z" color="#a0be64"/>
<path class="mb" d="M376.8 530.9L387.1 533.1M384.4 535.2L394.9 537.6"/>
<path class="mb bd" d="M387.1 533.1L394.9 537.6"/>
<path d="M270.4 483.7l5.2 1.4 5.8 5.8-5.3-.4z" color="#a7c96c"/>
<path class="mb" d="M270.4 483.7L276.1 490.5M270.4 483.7L275.6 485.1M276.1 490.5L281.4 490.9"/>
<path d="M170.4 482.2l5.4 1.5 4.1 11.7-5.5-1.7z" color="#b0e37a"/>
<path class="mb" d="M170.4 482.2L175.8 483.7M174.4 493.7L179.9 495.4"/>
<path d="M265.2 483.1l5.2 .6 5.7 6.8-5.4 .5z" color="#acc870"/>
<path class="mb" d="M270.4 483.7L276.1 490.5M265.2 483.1L270.4 483.7M270.7 491L276.1 490.5"/>
<path d="M165.1 480.9l5.3 1.3 4 11.5-5.4-1.7z" color="#afe17a"/>
<path class="mb" d="M165.1 480.9L170.4 482.2M169 492L174.4 493.7"/>
<path d="M259.9 483.4l5.3-.3 5.5 7.9-5.3 1.3z" color="#b1c672"/>
<path class="mb" d="M259.9 483.4L265.2 483.1M265.4 492.3L270.7 491"/>
<path d="M159.7 480l5.4 .9 3.9 11.1-5.4-1.5z" color="#b0de79"/>
<path class="mb" d="M159.7 480L163.6 490.5M159.7 480L165.1 480.9M163.6 490.5L169 492"/>
<path d="M254.6 484.5l5.3-1.1 5.5 8.9-5.4 1.8z" color="#b4c474"/>
<path class="mb" d="M254.6 484.5L259.9 483.4M260 494.1L265.4 492.3"/>
<path d="M366.4 528.2l10.4 2.7 7.6 4.3-10.5-3z" color="#9fbf63"/>
<path class="mb" d="M366.4 528.2L373.9 532.2M366.4 528.2L376.8 530.9M373.9 532.2L384.4 535.2"/>
<path d="M154.4 479.6l5.3 .4 3.9 10.5-5.5-1.2z" color="#b0d977"/>
<path class="mb" d="M159.7 480L163.6 490.5M154.4 479.6L159.7 480M158.1 489.3L163.6 490.5"/>
<path d="M249.3 486.2l5.3-1.7 5.4 9.6-5.4 2.3z" color="#b6c275"/>
<path class="mb" d="M249.3 486.2L254.6 496.4M249.3 486.2L254.6 484.5M254.6 496.4L260 494.1"/>
<path d="M149 480.1l5.4-.5 3.7 9.7-5.4-.6z" color="#b0d075"/>
<path class="mb" d="M149 480.1L154.4 479.6M152.7 488.7L158.1 489.3"/>
<path d="M52 533.1l10.9-3.6 2.1 3.7-11.1 4.1z" color="#a8a561"/>
<path class="mb" d="M52 533.1L53.9 537.3M52 533.1L62.9 529.5M53.9 537.3L65 533.2"/>
<path d="M62.9 529.5l10.8-4.3 2.3 3.3-11 4.7z" color="#a69e5e"/>
<path class="mb" d="M73.7 525.2L76 528.5M62.9 529.5L73.7 525.2M65 533.2L76 528.5"/>
<path d="M244 488.3l5.3-2.1 5.3 10.2-5.3 2.5z" color="#b7c276"/>
<path class="mb" d="M249.3 486.2L254.6 496.4M244 488.3L249.3 486.2M249.3 498.9L254.6 496.4"/>
<path d="M41 536.3l11-3.2 1.9 4.2-11.2 3.5z" color="#a8a862"/>
<path class="mb" d="M52 533.1L53.9 537.3M41 536.3L52 533.1M42.7 540.8L53.9 537.3"/>
<path d="M73.7 525.2l10.9-5.1 2.5 2.9-11.1 5.5z" color="#a39659"/>
<path class="mb" d="M73.7 525.2L76 528.5M73.7 525.2L84.6 520.1M76 528.5L87.1 523"/>
<path d="M30 539.1l11-2.8 1.7 4.5-11.1 3z" color="#a8ab63"/>
<path class="mb" d="M30 539.1L41 536.3M31.6 543.8L42.7 540.8"/>
<path class="mb bd" d="M30 539.1L31.6 543.8"/>
<path d="M143.6 481.5l5.4-1.4 3.7 8.6-5.5 .2z" color="#b0c471"/>
<path class="mb" d="M143.6 481.5L149 480.1M147.2 488.9L152.7 488.7"/>
<path d="M84.6 520.1l10.8-6.1 2.6 2.6-10.9 6.4z" color="#a18e55"/>
<path class="mb" d="M95.4 514L98 516.6M84.6 520.1L95.4 514M87.1 523L98 516.6"/>
<path d="M95.4 514l10.7-7.1 2.9 2.4-11 7.3z" color="#9f8751"/>
<path class="mb" d="M95.4 514L98 516.6M95.4 514L106.1 506.9M98 516.6L109 509.3"/>
<path d="M238.7 490.5l5.3-2.2 5.3 10.6-5.4 2.5z" color="#b8c276"/>
<path class="mb" d="M238.7 490.5L244 488.3M243.9 501.4L249.3 498.9"/>
<path d="M138.3 483.8l5.3-2.3 3.6 7.4-5.5 1.1z" color="#b0b76d"/>
<path class="mb" d="M138.3 483.8L141.7 490M138.3 483.8L143.6 481.5M141.7 490L147.2 488.9"/>
<path d="M307.7 502l10.4 5.8 6.6 3-10.6-5.6z" color="#9a814b"/>
<path class="mb" d="M318.1 507.8L324.7 510.8M307.7 502L318.1 507.8M314.1 505.2L324.7 510.8"/>
<path d="M106.1 506.9l10.7-8.1 3.1 2.8-10.9 7.7z" color="#9f8550"/>
<path class="mb" d="M116.8 498.8L119.9 501.6M106.1 506.9L116.8 498.8M109 509.3L119.9 501.6"/>
<path d="M132.9 487l5.4-3.2 3.4 6.2-5.4 2z" color="#aba664"/>
<path class="mb" d="M138.3 483.8L141.7 490M132.9 487L138.3 483.8M136.3 492L141.7 490"/>
<path d="M116.8 498.8l5.4-4.1 3.1 3.3-5.4 3.6z" color="#a08752"/>
<path class="mb" d="M116.8 498.8L119.9 501.6M116.8 498.8L122.2 494.7M119.9 501.6L125.3 498"/>
<path d="M127.6 490.7l5.3-3.7 3.4 5-5.5 2.7z" color="#a6975b"/>
<path class="mb" d="M127.6 490.7L132.9 487M130.8 494.7L136.3 492"/>
<path d="M122.2 494.7l5.4-4 3.2 4-5.5 3.3z" color="#a28d55"/>
<path class="mb" d="M122.2 494.7L127.6 490.7M125.3 498L130.8 494.7"/>
<path d="M233.4 492.7l5.3-2.2 5.2 10.9-5.4 2.3z" color="#b8c377"/>
<path class="mb" d="M233.4 492.7L238.7 490.5M238.5 503.7L243.9 501.4"/>
<path d="M228.1 494.8l5.3-2.1 5.1 11-5.4 2.1z" color="#b8c677"/>
<path class="mb" d="M228.1 494.8L233.1 505.8M228.1 494.8L233.4 492.7M233.1 505.8L238.5 503.7"/>
<path d="M356 524.9l10.4 3.3 7.5 4-10.5-3.6z" color="#9ec062"/>
<path class="mb" d="M366.4 528.2L373.9 532.2M356 524.9L366.4 528.2M363.4 528.6L373.9 532.2"/>
<path d="M222.8 496.5l5.3-1.7 5 11-5.4 1.8z" color="#b8c978"/>
<path class="mb" d="M228.1 494.8L233.1 505.8M222.8 496.5L228.1 494.8M227.7 507.6L233.1 505.8"/>
<path d="M217.4 497.9l5.4-1.4 4.9 11.1-5.5 1.4z" color="#b7cc79"/>
<path class="mb" d="M217.4 497.9L222.8 496.5M222.2 509L227.7 507.6"/>
<path d="M212.1 498.8l5.3-.9 4.8 11.1-5.4 1z" color="#b6cf79"/>
<path class="mb" d="M212.1 498.8L217.4 497.9M216.8 510L222.2 509"/>
<path d="M297.2 496.3l10.5 5.7 6.4 3.2-10.6-4.8z" color="#9cc663"/>
<path class="mb" d="M297.2 496.3L303.5 500.4M297.2 496.3L307.7 502M303.5 500.4L314.1 505.2"/>
<path d="M206.8 499.3l5.3-.5 4.7 11.2-5.4 .5z" color="#b5d379"/>
<path class="mb" d="M206.8 499.3L211.4 510.5M206.8 499.3L212.1 498.8M211.4 510.5L216.8 510"/>
<path d="M201.4 499.4l5.4-.1 4.6 11.2-5.4 0z" color="#b4d679"/>
<path class="mb" d="M206.8 499.3L211.4 510.5M201.4 499.4L206.8 499.3M206 510.5L211.4 510.5"/>
<path d="M345.6 520.9l10.4 4 7.4 3.7-10.6-4.2z" color="#9dc162"/>
<path class="mb" d="M345.6 520.9L352.8 524.4M345.6 520.9L356 524.9M352.8 524.4L363.4 528.6"/>
<path d="M196 499l5.4 .4 4.6 11.1-5.5-.3z" color="#b2d979"/>
<path class="mb" d="M196 499L201.4 499.4M200.5 510.2L206 510.5"/>
<path d="M292 493.9l5.2 2.4 6.3 4.1-5.4-1.7z" color="#9fc666"/>
<path class="mb" d="M297.2 496.3L303.5 500.4M292 493.9L297.2 496.3M298.1 498.7L303.5 500.4"/>
<path d="M190.7 498.1l5.3 .9 4.5 11.2-5.5-.9z" color="#b1dc79"/>
<path class="mb" d="M190.7 498.1L196 499M195 509.3L200.5 510.2"/>
<path d="M286.7 492l5.3 1.9 6.1 4.8-5.4-1z" color="#a3c768"/>
<path class="mb" d="M286.7 492L292 493.9M292.7 497.7L298.1 498.7"/>
<path d="M185.3 496.9l5.4 1.2 4.3 11.2-5.4-1.2z" color="#b0de79"/>
<path class="mb" d="M185.3 496.9L189.6 508.1M185.3 496.9L190.7 498.1M189.6 508.1L195 509.3"/>
<path d="M335.2 516.1l10.4 4.8 7.2 3.5-10.6-5z" color="#9bc261"/>
<path class="mb" d="M345.6 520.9L352.8 524.4M335.2 516.1L345.6 520.9M342.2 519.4L352.8 524.4"/>
<path d="M179.9 495.4l5.4 1.5 4.3 11.2-5.5-1.5z" color="#aedf78"/>
<path class="mb" d="M185.3 496.9L189.6 508.1M179.9 495.4L185.3 496.9M184.1 506.6L189.6 508.1"/>
<path d="M281.4 490.9l5.3 1.1 6 5.7-5.3-.3z" color="#a7c66b"/>
<path class="mb" d="M281.4 490.9L286.7 492M287.4 497.4L292.7 497.7"/>
<path d="M174.4 493.7l5.5 1.7 4.2 11.2-5.5-1.8z" color="#aee078"/>
<path class="mb" d="M174.4 493.7L179.9 495.4M178.6 504.8L184.1 506.6"/>
<path d="M384.4 535.2l10.5 2.4 8.1 4.7-10.7-2.7z" color="#a0bf64"/>
<path class="mb" d="M384.4 535.2L394.9 537.6M392.3 539.6L403 542.3"/>
<path class="mb bd" d="M394.9 537.6L403 542.3"/>
<path d="M276.1 490.5l5.3 .4 6 6.5-5.5 .6z" color="#acc46e"/>
<path class="mb" d="M276.1 490.5L281.9 498M276.1 490.5L281.4 490.9M281.9 498L287.4 497.4"/>
<path d="M169 492l5.4 1.7 4.2 11.1-5.5-2z" color="#ade077"/>
<path class="mb" d="M169 492L174.4 493.7M173.1 502.8L178.6 504.8"/>
<path d="M270.7 491l5.4-.5 5.8 7.5-5.4 1.3z" color="#b0c270"/>
<path class="mb" d="M276.1 490.5L281.9 498M270.7 491L276.1 490.5M276.5 499.3L281.9 498"/>
<path d="M265.4 492.3l5.3-1.3 5.8 8.3-5.4 2z" color="#b3c072"/>
<path class="mb" d="M265.4 492.3L270.7 491M271.1 501.3L276.5 499.3"/>
<path d="M163.6 490.5l5.4 1.5 4.1 10.8-5.6-2z" color="#adde77"/>
<path class="mb" d="M163.6 490.5L167.5 500.8M163.6 490.5L169 492M167.5 500.8L173.1 502.8"/>
<path d="M324.7 510.8l10.5 5.3 7 3.3-10.7-5.3z" color="#9a844c"/>
<path class="mb" d="M324.7 510.8L331.5 514.1M324.7 510.8L335.2 516.1M331.5 514.1L342.2 519.4"/>
<path d="M260 494.1l5.4-1.8 5.7 9-5.5 2.4z" color="#b5be72"/>
<path class="mb" d="M260 494.1L265.4 492.3M265.6 503.7L271.1 501.3"/>
<path d="M158.1 489.3l5.5 1.2 3.9 10.3-5.5-1.7z" color="#addb76"/>
<path class="mb" d="M163.6 490.5L167.5 500.8M158.1 489.3L163.6 490.5M162 499.1L167.5 500.8"/>
<path d="M373.9 532.2l10.5 3 7.9 4.4-10.6-3.2z" color="#9fc063"/>
<path class="mb" d="M373.9 532.2L381.7 536.4M373.9 532.2L384.4 535.2M381.7 536.4L392.3 539.6"/>
<path d="M254.6 496.4l5.4-2.3 5.6 9.6-5.5 2.7z" color="#b5bb72"/>
<path class="mb" d="M254.6 496.4L260.1 506.4M254.6 496.4L260 494.1M260.1 506.4L265.6 503.7"/>
<path d="M249.3 498.9l5.3-2.5 5.5 10-5.4 2.7z" color="#b5ba72"/>
<path class="mb" d="M254.6 496.4L260.1 506.4M249.3 498.9L254.6 496.4M254.7 509.1L260.1 506.4"/>
<path d="M152.7 488.7l5.4 .6 3.9 9.8-5.6-1.3z" color="#add675"/>
<path class="mb" d="M152.7 488.7L158.1 489.3M156.4 497.8L162 499.1"/>
<path d="M243.9 501.4l5.4-2.5 5.4 10.2-5.5 2.7z" color="#b5bc72"/>
<path class="mb" d="M243.9 501.4L249.3 498.9M249.2 511.8L254.7 509.1"/>
<path d="M147.2 488.9l5.5-.2 3.7 9.1-5.5-.8z" color="#aece73"/>
<path class="mb" d="M147.2 488.9L152.7 488.7M150.9 497L156.4 497.8"/>
<path d="M238.5 503.7l5.4-2.3 5.3 10.4-5.5 2.4z" color="#b7bf74"/>
<path class="mb" d="M238.5 503.7L243.9 501.4M243.7 514.2L249.2 511.8"/>
<path d="M141.7 490l5.5-1.1 3.7 8.1-5.6 .1z" color="#aec36f"/>
<path class="mb" d="M141.7 490L145.3 497.1M141.7 490L147.2 488.9M145.3 497.1L150.9 497"/>
<path d="M42.7 540.8l11.2-3.5 2 4.2-11.3 3.8z" color="#a8a762"/>
<path class="mb" d="M53.9 537.3L55.9 541.5M42.7 540.8L53.9 537.3M44.6 545.3L55.9 541.5"/>
<path d="M31.6 543.8l11.1-3 1.9 4.5-11.4 3.4z" color="#a8aa63"/>
<path class="mb" d="M31.6 543.8L42.7 540.8M33.2 548.7L44.6 545.3"/>
<path class="mb bd" d="M31.6 543.8L33.2 548.7"/>
<path d="M53.9 537.3l11.1-4.1 2.2 3.9-11.3 4.4z" color="#a7a360"/>
<path class="mb" d="M53.9 537.3L55.9 541.5M53.9 537.3L65 533.2M55.9 541.5L67.2 537.1"/>
<path d="M65 533.2l11-4.7 2.4 3.5-11.2 5.1z" color="#a59c5c"/>
<path class="mb" d="M76 528.5L78.4 532M65 533.2L76 528.5M67.2 537.1L78.4 532"/>
<path d="M233.1 505.8l5.4-2.1 5.2 10.5-5.5 2.2z" color="#b6c275"/>
<path class="mb" d="M233.1 505.8L238.2 516.4M233.1 505.8L238.5 503.7M238.2 516.4L243.7 514.2"/>
<path d="M76 528.5l11.1-5.5 2.5 3.2-11.2 5.8z" color="#a39458"/>
<path class="mb" d="M76 528.5L78.4 532M76 528.5L87.1 523M78.4 532L89.6 526.2"/>
<path d="M314.1 505.2l10.6 5.6 6.8 3.3-10.8-5.1z" color="#9cc462"/>
<path class="mb" d="M324.7 510.8L331.5 514.1M314.1 505.2L324.7 510.8M320.7 509L331.5 514.1"/>
<path d="M87.1 523l10.9-6.4 2.8 2.9-11.2 6.7z" color="#a18e55"/>
<path class="mb" d="M98 516.6L100.8 519.5M87.1 523L98 516.6M89.6 526.2L100.8 519.5"/>
<path d="M136.3 492l5.4-2 3.6 7.1-5.6 .9z" color="#aeb86c"/>
<path class="mb" d="M141.7 490L145.3 497.1M136.3 492L141.7 490M139.7 498L145.3 497.1"/>
<path d="M98 516.6l11-7.3 2.9 2.9-11.1 7.3z" color="#a08952"/>
<path class="mb" d="M98 516.6L100.8 519.5M98 516.6L109 509.3M100.8 519.5L111.9 512.2"/>
<path d="M227.7 507.6l5.4-1.8 5.1 10.6-5.5 1.8z" color="#b6c576"/>
<path class="mb" d="M233.1 505.8L238.2 516.4M227.7 507.6L233.1 505.8M232.7 518.2L238.2 516.4"/>
<path d="M130.8 494.7l5.5-2.7 3.4 6-5.5 1.7z" color="#acab66"/>
<path class="mb" d="M130.8 494.7L136.3 492M134.2 499.7L139.7 498"/>
<path d="M109 509.3l10.9-7.7 3.1 3.6-11.1 7z" color="#a18b54"/>
<path class="mb" d="M119.9 501.6L123 505.2M109 509.3L119.9 501.6M111.9 512.2L123 505.2"/>
<path d="M125.3 498l5.5-3.3 3.4 5-5.6 2.5z" color="#a79c5e"/>
<path class="mb" d="M125.3 498L130.8 494.7M128.6 502.2L134.2 499.7"/>
<path d="M119.9 501.6l5.4-3.6 3.3 4.2-5.6 3z" color="#a49258"/>
<path class="mb" d="M119.9 501.6L123 505.2M119.9 501.6L125.3 498M123 505.2L128.6 502.2"/>
<path d="M363.4 528.6l10.5 3.6 7.8 4.2-10.7-3.9z" color="#9ec162"/>
<path class="mb" d="M373.9 532.2L381.7 536.4M363.4 528.6L373.9 532.2M371 532.5L381.7 536.4"/>
<path d="M222.2 509l5.5-1.4 5 10.6-5.5 1.4z" color="#b5c876"/>
<path class="mb" d="M222.2 509L227.7 507.6M227.2 519.6L232.7 518.2"/>
<path d="M216.8 510l5.4-1 5 10.6-5.5 .9z" color="#b4cc77"/>
<path class="mb" d="M216.8 510L222.2 509M221.7 520.5L227.2 519.6"/>
<path d="M211.4 510.5l5.4-.5 4.9 10.5-5.5 .5z" color="#b3cf77"/>
<path class="mb" d="M211.4 510.5L216.2 521M211.4 510.5L216.8 510M216.2 521L221.7 520.5"/>
<path d="M303.5 500.4l10.6 4.8 6.6 3.8-10.8-3.8z" color="#9fc565"/>
<path class="mb" d="M303.5 500.4L309.9 505.2M303.5 500.4L314.1 505.2M309.9 505.2L320.7 509"/>
<path d="M206 510.5l5.4 0 4.8 10.5-5.5 .1z" color="#b2d277"/>
<path class="mb" d="M211.4 510.5L216.2 521M206 510.5L211.4 510.5M210.7 521.1L216.2 521"/>
<path d="M200.5 510.2l5.5 .3 4.7 10.6-5.6-.3z" color="#b1d677"/>
<path class="mb" d="M200.5 510.2L206 510.5M205.1 520.8L210.7 521.1"/>
<path d="M352.8 524.4l10.6 4.2 7.6 3.9-10.8-4.5z" color="#9cc162"/>
<path class="mb" d="M352.8 524.4L360.2 528M352.8 524.4L363.4 528.6M360.2 528L371 532.5"/>
<path d="M195 509.3l5.5 .9 4.6 10.6-5.5-.8z" color="#afd877"/>
<path class="mb" d="M195 509.3L200.5 510.2M199.6 520L205.1 520.8"/>
<path d="M298.1 498.7l5.4 1.7 6.4 4.8-5.4-1z" color="#a3c567"/>
<path class="mb" d="M303.5 500.4L309.9 505.2M298.1 498.7L303.5 500.4M304.5 504.2L309.9 505.2"/>
<path d="M189.6 508.1l5.4 1.2 4.6 10.7-5.6-1.2z" color="#aeda76"/>
<path class="mb" d="M189.6 508.1L194 518.8M189.6 508.1L195 509.3M194 518.8L199.6 520"/>
<path d="M292.7 497.7l5.4 1 6.4 5.5-5.5-.2z" color="#a6c46a"/>
<path class="mb" d="M292.7 497.7L298.1 498.7M299 504L304.5 504.2"/>
<path d="M184.1 506.6l5.5 1.5 4.4 10.7-5.6-1.6z" color="#addc76"/>
<path class="mb" d="M189.6 508.1L194 518.8M184.1 506.6L189.6 508.1M188.4 517.2L194 518.8"/>
<path d="M287.4 497.4l5.3 .3 6.3 6.3-5.5 .6z" color="#abc26c"/>
<path class="mb" d="M287.4 497.4L292.7 497.7M293.5 504.6L299 504"/>
<path d="M342.2 519.4l10.6 5 7.4 3.6-10.8-5z" color="#9cc261"/>
<path class="mb" d="M352.8 524.4L360.2 528M342.2 519.4L352.8 524.4M349.4 523L360.2 528"/>
<path d="M178.6 504.8l5.5 1.8 4.3 10.6-5.5-1.9z" color="#acdd76"/>
<path class="mb" d="M178.6 504.8L184.1 506.6M182.9 515.3L188.4 517.2"/>
<path d="M392.3 539.6l10.7 2.7 8.3 4.8-10.8-2.9z" color="#a0c064"/>
<path class="mb" d="M392.3 539.6L403 542.3M400.5 544.2L411.3 547.1"/>
<path class="mb bd" d="M403 542.3L411.3 547.1"/>
<path d="M281.9 498l5.5-.6 6.1 7.2-5.5 1.3z" color="#aebf6e"/>
<path class="mb" d="M281.9 498L288 505.9M281.9 498L287.4 497.4M288 505.9L293.5 504.6"/>
<path d="M173.1 502.8l5.5 2 4.3 10.5-5.6-2.1z" color="#abde75"/>
<path class="mb" d="M173.1 502.8L178.6 504.8M177.3 513.2L182.9 515.3"/>
<path d="M276.5 499.3l5.4-1.3 6.1 7.9-5.5 2z" color="#b1bc70"/>
<path class="mb" d="M281.9 498L288 505.9M276.5 499.3L281.9 498M282.5 507.9L288 505.9"/>
<path d="M167.5 500.8l5.6 2 4.2 10.4-5.7-2.2z" color="#abdd75"/>
<path class="mb" d="M167.5 500.8L171.6 511M167.5 500.8L173.1 502.8M171.6 511L177.3 513.2"/>
<path d="M271.1 501.3l5.4-2 6 8.6-5.6 2.5z" color="#b3ba70"/>
<path class="mb" d="M271.1 501.3L276.5 499.3M276.9 510.4L282.5 507.9"/>
<path d="M265.6 503.7l5.5-2.4 5.8 9.1-5.5 2.8z" color="#b3b66f"/>
<path class="mb" d="M265.6 503.7L271.1 501.3M271.4 513.2L276.9 510.4"/>
<path d="M331.5 514.1l10.7 5.3 7.2 3.6-10.8-5.2z" color="#9cc362"/>
<path class="mb" d="M331.5 514.1L338.6 517.8M331.5 514.1L342.2 519.4M338.6 517.8L349.4 523"/>
<path d="M162 499.1l5.5 1.7 4.1 10.2-5.6-2.1z" color="#aadc74"/>
<path class="mb" d="M167.5 500.8L171.6 511M162 499.1L167.5 500.8M166 508.9L171.6 511"/>
<path d="M260.1 506.4l5.5-2.7 5.8 9.5-5.6 3z" color="#b3b46e"/>
<path class="mb" d="M260.1 506.4L265.8 516.2M260.1 506.4L265.6 503.7M265.8 516.2L271.4 513.2"/>
<path d="M381.7 536.4l10.6 3.2 8.2 4.6-10.8-3.5z" color="#9fc063"/>
<path class="mb" d="M381.7 536.4L389.7 540.7M381.7 536.4L392.3 539.6M389.7 540.7L400.5 544.2"/>
<path d="M254.7 509.1l5.4-2.7 5.7 9.8-5.6 2.9z" color="#b3b56e"/>
<path class="mb" d="M260.1 506.4L265.8 516.2M254.7 509.1L260.1 506.4M260.2 519.1L265.8 516.2"/>
<path d="M156.4 497.8l5.6 1.3 4 9.8-5.7-1.9z" color="#abd874"/>
<path class="mb" d="M156.4 497.8L162 499.1M160.3 507L166 508.9"/>
<path d="M249.2 511.8l5.5-2.7 5.5 10-5.5 2.7z" color="#b4b770"/>
<path class="mb" d="M249.2 511.8L254.7 509.1M254.7 521.8L260.2 519.1"/>
<path d="M243.7 514.2l5.5-2.4 5.5 10-5.6 2.5z" color="#b5bb72"/>
<path class="mb" d="M243.7 514.2L249.2 511.8M249.1 524.3L254.7 521.8"/>
<path d="M150.9 497l5.5 .8 3.9 9.2-5.6-1.4z" color="#abd372"/>
<path class="mb" d="M150.9 497L156.4 497.8M154.7 505.6L160.3 507"/>
<path d="M238.2 516.4l5.5-2.2 5.4 10.1-5.6 2.2z" color="#b5bf73"/>
<path class="mb" d="M238.2 516.4L243.5 526.5M238.2 516.4L243.7 514.2M243.5 526.5L249.1 524.3"/>
<path d="M145.3 497.1l5.6-.1 3.8 8.6-5.7-.8z" color="#accc70"/>
<path class="mb" d="M145.3 497.1L149 504.8M145.3 497.1L150.9 497M149 504.8L154.7 505.6"/>
<path d="M232.7 518.2l5.5-1.8 5.3 10.1-5.6 1.8z" color="#b4c274"/>
<path class="mb" d="M238.2 516.4L243.5 526.5M232.7 518.2L238.2 516.4M237.9 528.3L243.5 526.5"/>
<path d="M320.7 509l10.8 5.1 7.1 3.7-11-4.5z" color="#9dc463"/>
<path class="mb" d="M331.5 514.1L338.6 517.8M320.7 509L331.5 514.1M327.6 513.3L338.6 517.8"/>
<path d="M139.7 498l5.6-.9 3.7 7.7-5.6 0z" color="#adc26e"/>
<path class="mb" d="M145.3 497.1L149 504.8M139.7 498L145.3 497.1M143.4 504.8L149 504.8"/>
<path d="M227.2 519.6l5.5-1.4 5.2 10.1-5.6 1.4z" color="#b4c574"/>
<path class="mb" d="M227.2 519.6L232.7 518.2M232.3 529.7L237.9 528.3"/>
<path d="M33.2 548.7l11.4-3.4 1.8 4.8-11.6 3.6z" color="#a8a963"/>
<path class="mb" d="M33.2 548.7L44.6 545.3M34.8 553.7L46.4 550.1"/>
<path class="mb bd" d="M33.2 548.7L34.8 553.7"/>
<path d="M44.6 545.3l11.3-3.8 2 4.4-11.5 4.2z" color="#a8a662"/>
<path class="mb" d="M55.9 541.5L57.9 545.9M44.6 545.3L55.9 541.5M46.4 550.1L57.9 545.9"/>
<path d="M55.9 541.5l11.3-4.4 2.2 4.1-11.5 4.7z" color="#a7a15f"/>
<path class="mb" d="M55.9 541.5L57.9 545.9M55.9 541.5L67.2 537.1M57.9 545.9L69.4 541.2"/>
<path d="M67.2 537.1l11.2-5.1 2.5 3.7-11.5 5.5z" color="#a59a5b"/>
<path class="mb" d="M78.4 532L80.9 535.7M67.2 537.1L78.4 532M69.4 541.2L80.9 535.7"/>
<path d="M134.2 499.7l5.5-1.7 3.7 6.8-5.7 .9z" color="#adb76b"/>
<path class="mb" d="M134.2 499.7L139.7 498M137.7 505.7L143.4 504.8"/>
<path d="M78.4 532l11.2-5.8 2.7 3.3-11.4 6.2z" color="#a39358"/>
<path class="mb" d="M78.4 532L80.9 535.7M78.4 532L89.6 526.2M80.9 535.7L92.3 529.5"/>
<path d="M371 532.5l10.7 3.9 8 4.3-10.9-4.1z" color="#9dc162"/>
<path class="mb" d="M381.7 536.4L389.7 540.7M371 532.5L381.7 536.4M378.8 536.6L389.7 540.7"/>
<path d="M221.7 520.5l5.5-.9 5.1 10.1-5.5 .9z" color="#b3c974"/>
<path class="mb" d="M221.7 520.5L227.2 519.6M226.8 530.6L232.3 529.7"/>
<path d="M89.6 526.2l11.2-6.7 2.8 3.2-11.3 6.8z" color="#a18e55"/>
<path class="mb" d="M100.8 519.5L103.6 522.7M89.6 526.2L100.8 519.5M92.3 529.5L103.6 522.7"/>
<path d="M128.6 502.2l5.6-2.5 3.5 6-5.7 1.6z" color="#acad67"/>
<path class="mb" d="M128.6 502.2L134.2 499.7M132 507.3L137.7 505.7"/>
<path d="M100.8 519.5l11.1-7.3 3.1 3.6-11.4 6.9z" color="#a18d54"/>
<path class="mb" d="M100.8 519.5L103.6 522.7M100.8 519.5L111.9 512.2M103.6 522.7L115 515.8"/>
<path d="M123 505.2l5.6-3 3.4 5.1-5.7 2.4z" color="#a89f5f"/>
<path class="mb" d="M123 505.2L126.3 509.7M123 505.2L128.6 502.2M126.3 509.7L132 507.3"/>
<path d="M111.9 512.2l11.1-7 3.3 4.5-11.3 6.1z" color="#a49358"/>
<path class="mb" d="M123 505.2L126.3 509.7M111.9 512.2L123 505.2M115 515.8L126.3 509.7"/>
<path d="M216.2 521l5.5-.5 5.1 10.1-5.7 .6z" color="#b2cc75"/>
<path class="mb" d="M216.2 521L221.1 531.2M216.2 521L221.7 520.5M221.1 531.2L226.8 530.6"/>
<path d="M210.7 521.1l5.5-.1 4.9 10.2-5.6 .1z" color="#b0cf75"/>
<path class="mb" d="M216.2 521L221.1 531.2M210.7 521.1L216.2 521M215.5 531.3L221.1 531.2"/>
<path d="M309.9 505.2l10.8 3.8 6.9 4.3-11-2.6z" color="#a1c466"/>
<path class="mb" d="M309.9 505.2L316.6 510.7M309.9 505.2L320.7 509M316.6 510.7L327.6 513.3"/>
<path d="M205.1 520.8l5.6 .3 4.8 10.2-5.6-.4z" color="#afd275"/>
<path class="mb" d="M205.1 520.8L210.7 521.1M209.9 530.9L215.5 531.3"/>
<path d="M360.2 528l10.8 4.5 7.8 4.1-10.9-4.7z" color="#9cc262"/>
<path class="mb" d="M360.2 528L367.9 531.9M360.2 528L371 532.5M367.9 531.9L378.8 536.6"/>
<path d="M199.6 520l5.5 .8 4.8 10.1-5.6-.7z" color="#aed575"/>
<path class="mb" d="M199.6 520L205.1 520.8M204.3 530.2L209.9 530.9"/>
<path d="M304.5 504.2l5.4 1 6.7 5.5-5.5-.3z" color="#a6c269"/>
<path class="mb" d="M309.9 505.2L316.6 510.7M304.5 504.2L309.9 505.2M311.1 510.4L316.6 510.7"/>
<path d="M194 518.8l5.6 1.2 4.7 10.2-5.7-1.2z" color="#add774"/>
<path class="mb" d="M194 518.8L198.6 529M194 518.8L199.6 520M198.6 529L204.3 530.2"/>
<path d="M299 504l5.5 .2 6.6 6.2-5.6 .5z" color="#aac06b"/>
<path class="mb" d="M299 504L304.5 504.2M305.5 510.9L311.1 510.4"/>
<path d="M188.4 517.2l5.6 1.6 4.6 10.2-5.6-1.5z" color="#abd974"/>
<path class="mb" d="M194 518.8L198.6 529M188.4 517.2L194 518.8M193 527.5L198.6 529"/>
<path d="M293.5 504.6l5.5-.6 6.5 6.9-5.6 1.2z" color="#adbd6d"/>
<path class="mb" d="M293.5 504.6L299 504M299.9 512.1L305.5 510.9"/>
<path d="M182.9 515.3l5.5 1.9 4.6 10.3-5.7-1.9z" color="#aadb74"/>
<path class="mb" d="M182.9 515.3L188.4 517.2M187.3 525.6L193 527.5"/>
<path d="M349.4 523l10.8 5 7.7 3.9-11-5z" color="#9cc362"/>
<path class="mb" d="M360.2 528L367.9 531.9M349.4 523L360.2 528M356.9 526.9L367.9 531.9"/>
<path d="M400.5 544.2l10.8 2.9 8.7 5-10.9-3.1z" color="#a0c064"/>
<path class="mb" d="M400.5 544.2L411.3 547.1M409.1 549L420 552.1"/>
<path class="mb bd" d="M411.3 547.1L420 552.1"/>
<path d="M288 505.9l5.5-1.3 6.4 7.5-5.6 2z" color="#b0ba6e"/>
<path class="mb" d="M288 505.9L294.3 514.1M288 505.9L293.5 504.6M294.3 514.1L299.9 512.1"/>
<path d="M177.3 513.2l5.6 2.1 4.4 10.3-5.7-2.2z" color="#a9db73"/>
<path class="mb" d="M177.3 513.2L182.9 515.3M181.6 523.4L187.3 525.6"/>
<path d="M282.5 507.9l5.5-2 6.3 8.2-5.7 2.5z" color="#b2b86f"/>
<path class="mb" d="M288 505.9L294.3 514.1M282.5 507.9L288 505.9M288.6 516.6L294.3 514.1"/>
<path d="M276.9 510.4l5.6-2.5 6.1 8.7-5.6 2.9z" color="#b1b36c"/>
<path class="mb" d="M276.9 510.4L282.5 507.9M283 519.5L288.6 516.6"/>
<path d="M171.6 511l5.7 2.2 4.3 10.2-5.7-2.3z" color="#a9dc73"/>
<path class="mb" d="M171.6 511L175.9 521.1M171.6 511L177.3 513.2M175.9 521.1L181.6 523.4"/>
<path d="M271.4 513.2l5.5-2.8 6.1 9.1-5.6 3.1z" color="#b1b06b"/>
<path class="mb" d="M271.4 513.2L276.9 510.4M277.4 522.6L283 519.5"/>
<path d="M265.8 516.2l5.6-3 6 9.4-5.7 3.2z" color="#b1af6b"/>
<path class="mb" d="M265.8 516.2L271.7 525.8M265.8 516.2L271.4 513.2M271.7 525.8L277.4 522.6"/>
<path d="M166 508.9l5.6 2.1 4.3 10.1-5.8-2.4z" color="#a9db73"/>
<path class="mb" d="M171.6 511L175.9 521.1M166 508.9L171.6 511M170.1 518.7L175.9 521.1"/>
<path d="M260.2 519.1l5.6-2.9 5.9 9.6-5.7 3z" color="#b1b16c"/>
<path class="mb" d="M265.8 516.2L271.7 525.8M260.2 519.1L265.8 516.2M266 528.8L271.7 525.8"/>
<path d="M338.6 517.8l10.8 5.2 7.5 3.9-11-4.9z" color="#9cc462"/>
<path class="mb" d="M338.6 517.8L345.9 522M338.6 517.8L349.4 523M345.9 522L356.9 526.9"/>
<path d="M389.7 540.7l10.8 3.5 8.6 4.8-11.1-3.7z" color="#9ec163"/>
<path class="mb" d="M389.7 540.7L398 545.3M389.7 540.7L400.5 544.2M398 545.3L409.1 549"/>
<path d="M254.7 521.8l5.5-2.7 5.8 9.7-5.6 2.8z" color="#b2b46e"/>
<path class="mb" d="M254.7 521.8L260.2 519.1M260.4 531.6L266 528.8"/>
<path d="M160.3 507l5.7 1.9 4.1 9.8-5.7-2.3z" color="#a9d972"/>
<path class="mb" d="M160.3 507L166 508.9M164.4 516.4L170.1 518.7"/>
<path d="M249.1 524.3l5.6-2.5 5.7 9.8-5.7 2.5z" color="#b3b970"/>
<path class="mb" d="M249.1 524.3L254.7 521.8M254.7 534.1L260.4 531.6"/>
<path d="M243.5 526.5l5.6-2.2 5.6 9.8-5.7 2.2z" color="#b4bd72"/>
<path class="mb" d="M243.5 526.5L249 536.3M243.5 526.5L249.1 524.3M249 536.3L254.7 534.1"/>
<path d="M154.7 505.6l5.6 1.4 4.1 9.4-5.8-1.9z" color="#a9d671"/>
<path class="mb" d="M154.7 505.6L160.3 507M158.6 514.5L164.4 516.4"/>
<path d="M237.9 528.3l5.6-1.8 5.5 9.8-5.6 1.8z" color="#b3c072"/>
<path class="mb" d="M243.5 526.5L249 536.3M237.9 528.3L243.5 526.5M243.4 538.1L249 536.3"/>
<path d="M149 504.8l5.7 .8 3.9 8.9-5.7-1.5z" color="#aad170"/>
<path class="mb" d="M149 504.8L152.9 513M149 504.8L154.7 505.6M152.9 513L158.6 514.5"/>
<path d="M232.3 529.7l5.6-1.4 5.5 9.8-5.7 1.4z" color="#b2c372"/>
<path class="mb" d="M232.3 529.7L237.9 528.3M237.7 539.5L243.4 538.1"/>
<path d="M327.6 513.3l11 4.5 7.3 4.2-11.1-3.8z" color="#9fc464"/>
<path class="mb" d="M338.6 517.8L345.9 522M327.6 513.3L338.6 517.8M334.8 518.2L345.9 522"/>
<path d="M143.4 504.8l5.6 0 3.9 8.2-5.8-.7z" color="#abc96f"/>
<path class="mb" d="M149 504.8L152.9 513M143.4 504.8L149 504.8M147.1 512.3L152.9 513"/>
<path d="M226.8 530.6l5.5-.9 5.4 9.8-5.7 1z" color="#b1c673"/>
<path class="mb" d="M226.8 530.6L232.3 529.7M232 540.5L237.7 539.5"/>
<path d="M378.8 536.6l10.9 4.1 8.3 4.6-11-4.4z" color="#9dc263"/>
<path class="mb" d="M389.7 540.7L398 545.3M378.8 536.6L389.7 540.7M387 540.9L398 545.3"/>
<path d="M137.7 505.7l5.7-.9 3.7 7.5-5.8 0z" color="#abc06c"/>
<path class="mb" d="M137.7 505.7L143.4 504.8M141.3 512.3L147.1 512.3"/>
<path d="M34.8 553.7l11.6-3.6 2 4.9-11.8 3.9z" color="#a9a863"/>
<path class="mb" d="M34.8 553.7L46.4 550.1M36.6 558.9L48.4 555"/>
<path class="mb bd" d="M34.8 553.7L36.6 558.9"/>
<path d="M221.1 531.2l5.7-.6 5.2 9.9-5.7 .5z" color="#b0c973"/>
<path class="mb" d="M221.1 531.2L226.3 541M221.1 531.2L226.8 530.6M226.3 541L232 540.5"/>
<path d="M46.4 550.1l11.5-4.2 2.2 4.6-11.7 4.5z" color="#a8a561"/>
<path class="mb" d="M57.9 545.9L60.1 550.5M46.4 550.1L57.9 545.9M48.4 555L60.1 550.5"/>
<path d="M57.9 545.9l11.5-4.7 2.4 4.2-11.7 5.1z" color="#a69f5e"/>
<path class="mb" d="M57.9 545.9L60.1 550.5M57.9 545.9L69.4 541.2M60.1 550.5L71.8 545.4"/>
<path d="M132 507.3l5.7-1.6 3.6 6.6-5.8 .9z" color="#acb669"/>
<path class="mb" d="M132 507.3L137.7 505.7M135.5 513.2L141.3 512.3"/>
<path d="M69.4 541.2l11.5-5.5 2.5 3.9-11.6 5.8z" color="#a4985b"/>
<path class="mb" d="M80.9 535.7L83.4 539.6M69.4 541.2L80.9 535.7M71.8 545.4L83.4 539.6"/>
<path d="M80.9 535.7l11.4-6.2 2.7 3.7-11.6 6.4z" color="#a39358"/>
<path class="mb" d="M80.9 535.7L83.4 539.6M80.9 535.7L92.3 529.5M83.4 539.6L95 533.2"/>
<path d="M126.3 509.7l5.7-2.4 3.5 5.9-5.8 1.6z" color="#acad67"/>
<path class="mb" d="M126.3 509.7L129.7 514.8M126.3 509.7L132 507.3M129.7 514.8L135.5 513.2"/>
<path d="M92.3 529.5l11.3-6.8 3 3.7-11.6 6.8z" color="#a28f56"/>
<path class="mb" d="M103.6 522.7L106.6 526.4M92.3 529.5L103.6 522.7M95 533.2L106.6 526.4"/>
<path d="M215.5 531.3l5.6-.1 5.2 9.8-5.7 .1z" color="#afcc73"/>
<path class="mb" d="M221.1 531.2L226.3 541M215.5 531.3L221.1 531.2M220.6 541.1L226.3 541"/>
<path d="M115 515.8l11.3-6.1 3.4 5.1-11.5 5.1z" color="#a79d5e"/>
<path class="mb" d="M126.3 509.7L129.7 514.8M115 515.8L126.3 509.7M118.2 519.9L129.7 514.8"/>
<path d="M103.6 522.7l11.4-6.9 3.2 4.1-11.6 6.5z" color="#a39157"/>
<path class="mb" d="M103.6 522.7L106.6 526.4M103.6 522.7L115 515.8M106.6 526.4L118.2 519.9"/>
<path d="M209.9 530.9l5.6 .4 5.1 9.8-5.7-.3z" color="#aecf73"/>
<path class="mb" d="M209.9 530.9L215.5 531.3M214.9 540.8L220.6 541.1"/>
<path d="M316.6 510.7l11 2.6 7.2 4.9-11.3-1.5z" color="#a3c267"/>
<path class="mb" d="M316.6 510.7L323.5 516.7M316.6 510.7L327.6 513.3M323.5 516.7L334.8 518.2"/>
<path d="M204.3 530.2l5.6 .7 5 9.9-5.8-.7z" color="#add273"/>
<path class="mb" d="M204.3 530.2L209.9 530.9M209.1 540.1L214.9 540.8"/>
<path d="M367.9 531.9l10.9 4.7 8.2 4.3-11.1-4.8z" color="#9cc362"/>
<path class="mb" d="M367.9 531.9L375.9 536.1M367.9 531.9L378.8 536.6M375.9 536.1L387 540.9"/>
<path d="M198.6 529l5.7 1.2 4.8 9.9-5.7-1.1z" color="#abd573"/>
<path class="mb" d="M198.6 529L203.4 539M198.6 529L204.3 530.2M203.4 539L209.1 540.1"/>
<path d="M311.1 510.4l5.5 .3 6.9 6-5.6 .3z" color="#a8bf6a"/>
<path class="mb" d="M316.6 510.7L323.5 516.7M311.1 510.4L316.6 510.7M317.9 517L323.5 516.7"/>
<path d="M193 527.5l5.6 1.5 4.8 10-5.8-1.6z" color="#aad773"/>
<path class="mb" d="M198.6 529L203.4 539M193 527.5L198.6 529M197.6 537.4L203.4 539"/>
<path d="M305.5 510.9l5.6-.5 6.8 6.6-5.7 1.2z" color="#acbc6b"/>
<path class="mb" d="M305.5 510.9L311.1 510.4M312.2 518.2L317.9 517"/>
<path d="M187.3 525.6l5.7 1.9 4.6 9.9-5.8-1.9z" color="#a9d872"/>
<path class="mb" d="M187.3 525.6L193 527.5M191.8 535.5L197.6 537.4"/>
<path d="M299.9 512.1l5.6-1.2 6.7 7.3-5.7 1.8z" color="#afb96d"/>
<path class="mb" d="M299.9 512.1L305.5 510.9M306.5 520L312.2 518.2"/>
<path d="M409.1 549l10.9 3.1 9 5.2-11.1-3.3z" color="#9fc164"/>
<path class="mb" d="M409.1 549L420 552.1"/>
<path class="mb bd" d="M420 552.1L429 557.3M417.9 554L429 557.3"/>
<path d="M356.9 526.9l11 5 8 4.2-11.2-5z" color="#9cc362"/>
<path class="mb" d="M367.9 531.9L375.9 536.1M356.9 526.9L367.9 531.9M364.7 531.1L375.9 536.1"/>
<path d="M294.3 514.1l5.6-2 6.6 7.9-5.7 2.5z" color="#b1b66d"/>
<path class="mb" d="M294.3 514.1L300.8 522.5M294.3 514.1L299.9 512.1M300.8 522.5L306.5 520"/>
<path d="M181.6 523.4l5.7 2.2 4.5 9.9-5.7-2.2z" color="#a8d972"/>
<path class="mb" d="M181.6 523.4L187.3 525.6M186.1 533.3L191.8 535.5"/>
<path d="M288.6 516.6l5.7-2.5 6.5 8.4-5.8 3z" color="#b0b06b"/>
<path class="mb" d="M294.3 514.1L300.8 522.5M288.6 516.6L294.3 514.1M295 525.5L300.8 522.5"/>
<path d="M283 519.5l5.6-2.9 6.4 8.9-5.7 3.2z" color="#afad69"/>
<path class="mb" d="M283 519.5L288.6 516.6M289.3 528.7L295 525.5"/>
<path d="M175.9 521.1l5.7 2.3 4.5 9.9-5.9-2.4z" color="#a8da72"/>
<path class="mb" d="M175.9 521.1L180.2 530.9M175.9 521.1L181.6 523.4M180.2 530.9L186.1 533.3"/>
<path d="M277.4 522.6l5.6-3.1 6.3 9.2-5.8 3.3z" color="#afab68"/>
<path class="mb" d="M277.4 522.6L283 519.5M283.5 532L289.3 528.7"/>
<path d="M271.7 525.8l5.7-3.2 6.1 9.4-5.7 3.3z" color="#afac69"/>
<path class="mb" d="M271.7 525.8L277.8 535.3M271.7 525.8L277.4 522.6M277.8 535.3L283.5 532"/>
<path d="M170.1 518.7l5.8 2.4 4.3 9.8-5.8-2.5z" color="#a7da71"/>
<path class="mb" d="M175.9 521.1L180.2 530.9M170.1 518.7L175.9 521.1M174.4 528.4L180.2 530.9"/>
<path d="M266 528.8l5.7-3 6.1 9.5-5.8 3.1z" color="#b0ae6a"/>
<path class="mb" d="M271.7 525.8L277.8 535.3M266 528.8L271.7 525.8M272 538.4L277.8 535.3"/>
<path d="M260.4 531.6l5.6-2.8 6 9.6-5.7 2.9z" color="#b1b26c"/>
<path class="mb" d="M260.4 531.6L266 528.8M266.3 541.3L272 538.4"/>
<path d="M345.9 522l11 4.9 7.8 4.2-11.2-4.5z" color="#9dc463"/>
<path class="mb" d="M345.9 522L353.5 526.6M345.9 522L356.9 526.9M353.5 526.6L364.7 531.1"/>
<path d="M398 545.3l11.1 3.7 8.8 5-11.2-4z" color="#9ec263"/>
<path class="mb" d="M398 545.3L406.7 550M398 545.3L409.1 549"/>
<path class="mb bd" d="M406.7 550L417.9 554"/>
<path d="M254.7 534.1l5.7-2.5 5.9 9.7-5.8 2.5z" color="#b2b76f"/>
<path class="mb" d="M254.7 534.1L260.4 531.6M260.5 543.8L266.3 541.3"/>
<path d="M164.4 516.4l5.7 2.3 4.3 9.7-5.8-2.5z" color="#a7d971"/>
<path class="mb" d="M164.4 516.4L170.1 518.7M168.6 525.9L174.4 528.4"/>
<path d="M249 536.3l5.7-2.2 5.8 9.7-5.8 2.2z" color="#b3bb70"/>
<path class="mb" d="M249 536.3L254.7 546M249 536.3L254.7 534.1M254.7 546L260.5 543.8"/>
<path d="M158.6 514.5l5.8 1.9 4.2 9.5-5.9-2.4z" color="#a7d770"/>
<path class="mb" d="M158.6 514.5L164.4 516.4M162.7 523.5L168.6 525.9"/>
<path d="M243.4 538.1l5.6-1.8 5.7 9.7-5.7 1.7z" color="#b2be71"/>
<path class="mb" d="M249 536.3L254.7 546M243.4 538.1L249 536.3M249 547.7L254.7 546"/>
<path d="M237.7 539.5l5.7-1.4 5.6 9.6-5.8 1.4z" color="#b1c171"/>
<path class="mb" d="M237.7 539.5L243.4 538.1M243.2 549.1L249 547.7"/>
<path d="M152.9 513l5.7 1.5 4.1 9-5.8-1.9z" color="#a8d370"/>
<path class="mb" d="M152.9 513L156.9 521.6M152.9 513L158.6 514.5M156.9 521.6L162.7 523.5"/>
<path d="M232 540.5l5.7-1 5.5 9.6-5.8 1z" color="#b0c471"/>
<path class="mb" d="M232 540.5L237.7 539.5M237.4 550.1L243.2 549.1"/>
<path d="M334.8 518.2l11.1 3.8 7.6 4.6-11.3-3z" color="#a0c365"/>
<path class="mb" d="M345.9 522L353.5 526.6M334.8 518.2L345.9 522M342.2 523.6L353.5 526.6"/>
<path d="M147.1 512.3l5.8 .7 4 8.6-5.9-1.4z" color="#a9ce6f"/>
<path class="mb" d="M152.9 513L156.9 521.6M147.1 512.3L152.9 513M151 520.2L156.9 521.6"/>
<path d="M226.3 541l5.7-.5 5.4 9.6-5.8 .5z" color="#afc771"/>
<path class="mb" d="M226.3 541L231.6 550.6M226.3 541L232 540.5M231.6 550.6L237.4 550.1"/>
<path d="M387 540.9l11 4.4 8.7 4.7-11.2-4.5z" color="#9dc263"/>
<path class="mb" d="M398 545.3L406.7 550M387 540.9L398 545.3"/>
<path class="mb bd" d="M395.5 545.5L406.7 550"/>
<path d="M141.3 512.3l5.8 0 3.9 7.9-5.9-.7z" color="#aac66d"/>
<path class="mb" d="M141.3 512.3L147.1 512.3M145.1 519.5L151 520.2"/>
<path d="M220.6 541.1l5.7-.1 5.3 9.6-5.8 .2z" color="#aeca71"/>
<path class="mb" d="M226.3 541L231.6 550.6M220.6 541.1L226.3 541M225.8 550.8L231.6 550.6"/>
<path d="M135.5 513.2l5.8-.9 3.8 7.2-5.9 .1z" color="#aabd6b"/>
<path class="mb" d="M135.5 513.2L141.3 512.3M139.2 519.6L145.1 519.5"/>
<path d="M36.6 558.9l11.8-3.9 2 5-12 4.2z" color="#a9a863"/>
<path class="mb" d="M36.6 558.9L48.4 555M38.4 564.2L50.4 560"/>
<path class="mb bd" d="M36.6 558.9L38.4 564.2"/>
<path d="M48.4 555l11.7-4.5 2.2 4.8-11.9 4.7z" color="#a8a360"/>
<path class="mb" d="M60.1 550.5L62.3 555.3M48.4 555L60.1 550.5M50.4 560L62.3 555.3"/>
<path d="M60.1 550.5l11.7-5.1 2.4 4.4-11.9 5.5z" color="#a69d5d"/>
<path class="mb" d="M60.1 550.5L62.3 555.3M60.1 550.5L71.8 545.4M62.3 555.3L74.2 549.8"/>
<path d="M129.7 514.8l5.8-1.6 3.7 6.4-5.9 1z" color="#abb468"/>
<path class="mb" d="M129.7 514.8L133.3 520.6M129.7 514.8L135.5 513.2M133.3 520.6L139.2 519.6"/>
<path d="M71.8 545.4l11.6-5.8 2.7 4.2-11.9 6z" color="#a4975a"/>
<path class="mb" d="M83.4 539.6L86.1 543.8M71.8 545.4L83.4 539.6M74.2 549.8L86.1 543.8"/>
<path d="M214.9 540.8l5.7 .3 5.2 9.7-5.8-.3z" color="#adcd72"/>
<path class="mb" d="M214.9 540.8L220.6 541.1M220 550.5L225.8 550.8"/>
<path d="M83.4 539.6l11.6-6.4 2.9 4-11.8 6.6z" color="#a39358"/>
<path class="mb" d="M83.4 539.6L86.1 543.8M83.4 539.6L95 533.2M86.1 543.8L97.9 537.2"/>
<path d="M118.2 519.9l11.5-5.1 3.6 5.8-11.8 4z" color="#aaa864"/>
<path class="mb" d="M129.7 514.8L133.3 520.6M118.2 519.9L129.7 514.8M121.5 524.6L133.3 520.6"/>
<path d="M95 533.2l11.6-6.8 3.1 4.1-11.8 6.7z" color="#a39257"/>
<path class="mb" d="M106.6 526.4L109.7 530.5M95 533.2L106.6 526.4M97.9 537.2L109.7 530.5"/>
<path d="M106.6 526.4l11.6-6.5 3.3 4.7-11.8 5.9z" color="#a5975a"/>
<path class="mb" d="M106.6 526.4L109.7 530.5M106.6 526.4L118.2 519.9M109.7 530.5L121.5 524.6"/>
<path d="M323.5 516.7l11.3 1.5 7.4 5.4-11.5-.4z" color="#a6c068"/>
<path class="mb" d="M323.5 516.7L330.7 523.2M323.5 516.7L334.8 518.2M330.7 523.2L342.2 523.6"/>
<path d="M209.1 540.1l5.8 .7 5.1 9.7-5.9-.7z" color="#acd071"/>
<path class="mb" d="M209.1 540.1L214.9 540.8M214.1 549.8L220 550.5"/>
<path d="M375.9 536.1l11.1 4.8 8.5 4.6-11.3-5z" color="#9dc362"/>
<path class="mb" d="M375.9 536.1L384.2 540.5M375.9 536.1L387 540.9"/>
<path class="mb bd" d="M384.2 540.5L395.5 545.5"/>
<path d="M203.4 539l5.7 1.1 5 9.7-5.8-1.1z" color="#aad271"/>
<path class="mb" d="M203.4 539L208.3 548.7M203.4 539L209.1 540.1M208.3 548.7L214.1 549.8"/>
<path d="M317.9 517l5.6-.3 7.2 6.5-5.8 .9z" color="#abbc6a"/>
<path class="mb" d="M323.5 516.7L330.7 523.2M317.9 517L323.5 516.7M324.9 524.1L330.7 523.2"/>
<path d="M197.6 537.4l5.8 1.6 4.9 9.7-5.8-1.5z" color="#a9d471"/>
<path class="mb" d="M203.4 539L208.3 548.7M197.6 537.4L203.4 539M202.5 547.2L208.3 548.7"/>
<path d="M312.2 518.2l5.7-1.2 7 7.1-5.7 1.8z" color="#aeb86b"/>
<path class="mb" d="M312.2 518.2L317.9 517M319.2 525.9L324.9 524.1"/>
<path d="M191.8 535.5l5.8 1.9 4.9 9.8-5.9-1.9z" color="#a8d671"/>
<path class="mb" d="M191.8 535.5L197.6 537.4M196.6 545.3L202.5 547.2"/>
<path d="M306.5 520l5.7-1.8 7 7.7-5.9 2.4z" color="#b0b56c"/>
<path class="mb" d="M306.5 520L312.2 518.2M313.3 528.3L319.2 525.9"/>
<path d="M300.8 522.5l5.7-2.5 6.8 8.3-5.8 2.9z" color="#afaf6a"/>
<path class="mb" d="M300.8 522.5L307.5 531.2M300.8 522.5L306.5 520M307.5 531.2L313.3 528.3"/>
<path d="M186.1 533.3l5.7 2.2 4.8 9.8-5.9-2.2z" color="#a7d771"/>
<path class="mb" d="M186.1 533.3L191.8 535.5M190.7 543.1L196.6 545.3"/>
<path d="M364.7 531.1l11.2 5 8.3 4.4-11.4-4.9z" color="#9dc463"/>
<path class="mb" d="M375.9 536.1L384.2 540.5M364.7 531.1L375.9 536.1"/>
<path class="mb bd" d="M372.8 535.6L384.2 540.5"/>
<path d="M295 525.5l5.8-3 6.7 8.7-5.8 3.3z" color="#aeab68"/>
<path class="mb" d="M300.8 522.5L307.5 531.2M295 525.5L300.8 522.5M301.7 534.5L307.5 531.2"/>
<path d="M289.3 528.7l5.7-3.2 6.7 9-5.9 3.4z" color="#aea867"/>
<path class="mb" d="M289.3 528.7L295 525.5M295.8 537.9L301.7 534.5"/>
<path d="M180.2 530.9l5.9 2.4 4.6 9.8-5.9-2.4z" color="#a7d870"/>
<path class="mb" d="M180.2 530.9L184.8 540.7M180.2 530.9L186.1 533.3M184.8 540.7L190.7 543.1"/>
<path d="M283.5 532l5.8-3.3 6.5 9.2-5.8 3.5z" color="#aea867"/>
<path class="mb" d="M283.5 532L289.3 528.7M290 541.4L295.8 537.9"/>
<path d="M277.8 535.3l5.7-3.3 6.5 9.4-5.9 3.4z" color="#aeaa67"/>
<path class="mb" d="M277.8 535.3L284.1 544.8M277.8 535.3L283.5 532M284.1 544.8L290 541.4"/>
<path d="M272 538.4l5.8-3.1 6.3 9.5-5.8 3.1z" color="#afac69"/>
<path class="mb" d="M277.8 535.3L284.1 544.8M272 538.4L277.8 535.3M278.3 547.9L284.1 544.8"/>
<path d="M174.4 528.4l5.8 2.5 4.6 9.8-5.9-2.7z" color="#a6d870"/>
<path class="mb" d="M180.2 530.9L184.8 540.7M174.4 528.4L180.2 530.9M178.9 538L184.8 540.7"/>
<path d="M266.3 541.3l5.7-2.9 6.3 9.5-5.9 2.9z" color="#b0b06b"/>
<path class="mb" d="M266.3 541.3L272 538.4M272.4 550.8L278.3 547.9"/>
<path d="M260.5 543.8l5.8-2.5 6.1 9.5-5.9 2.5z" color="#b2b66e"/>
<path class="mb" d="M260.5 543.8L266.3 541.3M266.5 553.3L272.4 550.8"/>
<path d="M353.5 526.6l11.2 4.5 8.1 4.5-11.4-4z" color="#9ec364"/>
<path class="mb" d="M353.5 526.6L361.4 531.6M353.5 526.6L364.7 531.1"/>
<path class="mb bd" d="M361.4 531.6L372.8 535.6"/>
<path d="M168.6 525.9l5.8 2.5 4.5 9.6-6-2.7z" color="#a6d870"/>
<path class="mb" d="M168.6 525.9L174.4 528.4M172.9 535.3L178.9 538"/>
<path d="M254.7 546l5.8-2.2 6 9.5-5.8 2.2z" color="#b2b96f"/>
<path class="mb" d="M254.7 546L260.7 555.5M254.7 546L260.5 543.8M260.7 555.5L266.5 553.3"/>
<path d="M249 547.7l5.7-1.7 6 9.5-5.9 1.8z" color="#b1bc6f"/>
<path class="mb" d="M254.7 546L260.7 555.5M249 547.7L254.7 546M254.8 557.3L260.7 555.5"/>
<path d="M162.7 523.5l5.9 2.4 4.3 9.4-5.9-2.6z" color="#a6d770"/>
<path class="mb" d="M162.7 523.5L168.6 525.9M167 532.7L172.9 535.3"/>
<path d="M243.2 549.1l5.8-1.4 5.8 9.6-5.9 1.3z" color="#b0bf70"/>
<path class="mb" d="M243.2 549.1L249 547.7M248.9 558.6L254.8 557.3"/>
<path d="M156.9 521.6l5.8 1.9 4.3 9.2-6-2.3z" color="#a6d56f"/>
<path class="mb" d="M156.9 521.6L161 530.4M156.9 521.6L162.7 523.5M161 530.4L167 532.7"/>
<path d="M237.4 550.1l5.8-1 5.7 9.5-5.9 1z" color="#afc270"/>
<path class="mb" d="M237.4 550.1L243.2 549.1M243 559.6L248.9 558.6"/>
<path d="M231.6 550.6l5.8-.5 5.6 9.5-5.9 .6z" color="#aec570"/>
<path class="mb" d="M231.6 550.6L237.1 560.2M231.6 550.6L237.4 550.1M237.1 560.2L243 559.6"/>
<path d="M342.2 523.6l11.3 3 7.9 5-11.6-2.2z" color="#a2c266"/>
<path class="mb" d="M353.5 526.6L361.4 531.6M342.2 523.6L353.5 526.6"/>
<path class="mb bd" d="M349.8 529.4L361.4 531.6"/>
<path d="M151 520.2l5.9 1.4 4.1 8.8-6-1.9z" color="#a7d16e"/>
<path class="mb" d="M156.9 521.6L161 530.4M151 520.2L156.9 521.6M155 528.5L161 530.4"/>
<path d="M225.8 550.8l5.8-.2 5.5 9.6-5.9 .1z" color="#adc870"/>
<path class="mb" d="M231.6 550.6L237.1 560.2M225.8 550.8L231.6 550.6M231.2 560.3L237.1 560.2"/>
<path d="M145.1 519.5l5.9 .7 4 8.3-6-1.3z" color="#a8cb6d"/>
<path class="mb" d="M145.1 519.5L151 520.2M149 527.2L155 528.5"/>
<path d="M220 550.5l5.8 .3 5.4 9.5-5.9-.2z" color="#accb70"/>
<path class="mb" d="M220 550.5L225.8 550.8M225.3 560.1L231.2 560.3"/>
<path d="M139.2 519.6l5.9-.1 3.9 7.7-6-.5z" color="#a9c36c"/>
<path class="mb" d="M139.2 519.6L145.1 519.5M143 526.7L149 527.2"/>
<path d="M38.4 564.2l12-4.2 2.1 5.3-12.3 4.5z" color="#a9a763"/>
<path class="mb" d="M38.4 564.2L50.4 560M40.2 569.8L52.5 565.3"/>
<path class="mb bd" d="M38.4 564.2L40.2 569.8"/>
<path d="M133.3 520.6l5.9-1 3.8 7.1-6 .3z" color="#aabb6a"/>
<path class="mb" d="M133.3 520.6L137 527M133.3 520.6L139.2 519.6M137 527L143 526.7"/>
<path d="M50.4 560l11.9-4.7 2.3 4.9-12.1 5.1z" color="#a7a160"/>
<path class="mb" d="M62.3 555.3L64.6 560.2M50.4 560L62.3 555.3M52.5 565.3L64.6 560.2"/>
<path d="M330.7 523.2l11.5 .4 7.6 5.8-11.6 .7z" color="#a8bd69"/>
<path class="mb" d="M330.7 523.2L338.2 530.1M330.7 523.2L342.2 523.6"/>
<path class="mb bd" d="M338.2 530.1L349.8 529.4"/>
<path d="M214.1 549.8l5.9 .7 5.3 9.6-5.9-.7z" color="#abce70"/>
<path class="mb" d="M214.1 549.8L220 550.5M219.4 559.4L225.3 560.1"/>
<path d="M62.3 555.3l11.9-5.5 2.6 4.7-12.2 5.7z" color="#a69c5d"/>
<path class="mb" d="M62.3 555.3L64.6 560.2M62.3 555.3L74.2 549.8M64.6 560.2L76.8 554.5"/>
<path d="M74.2 549.8l11.9-6 2.7 4.4-12 6.3z" color="#a4965a"/>
<path class="mb" d="M86.1 543.8L88.8 548.2M74.2 549.8L86.1 543.8M76.8 554.5L88.8 548.2"/>
<path d="M121.5 524.6l11.8-4 3.7 6.4-12 2.9z" color="#abaf66"/>
<path class="mb" d="M133.3 520.6L137 527M121.5 524.6L133.3 520.6M125 529.9L137 527"/>
<path d="M86.1 543.8l11.8-6.6 3 4.3-12.1 6.7z" color="#a39358"/>
<path class="mb" d="M86.1 543.8L88.8 548.2M86.1 543.8L97.9 537.2M88.8 548.2L100.9 541.5"/>
<path d="M109.7 530.5l11.8-5.9 3.5 5.3-12.1 5.2z" color="#a79e5e"/>
<path class="mb" d="M109.7 530.5L112.9 535.1M109.7 530.5L121.5 524.6M112.9 535.1L125 529.9"/>
<path d="M97.9 537.2l11.8-6.7 3.2 4.6-12 6.4z" color="#a49559"/>
<path class="mb" d="M109.7 530.5L112.9 535.1M97.9 537.2L109.7 530.5M100.9 541.5L112.9 535.1"/>
<path d="M208.3 548.7l5.8 1.1 5.3 9.6-6-1z" color="#aad070"/>
<path class="mb" d="M208.3 548.7L213.4 558.4M208.3 548.7L214.1 549.8M213.4 558.4L219.4 559.4"/>
<path d="M324.9 524.1l5.8-.9 7.5 6.9-5.9 1.5z" color="#acb86a"/>
<path class="mb" d="M330.7 523.2L338.2 530.1M324.9 524.1L330.7 523.2"/>
<path class="mb bd" d="M332.3 531.6L338.2 530.1"/>
<path d="M202.5 547.2l5.8 1.5 5.1 9.7-5.9-1.5z" color="#a9d270"/>
<path class="mb" d="M208.3 548.7L213.4 558.4M202.5 547.2L208.3 548.7M207.5 556.9L213.4 558.4"/>
<path d="M319.2 525.9l5.7-1.8 7.4 7.5-5.9 2.3z" color="#afb56b"/>
<path class="mb" d="M319.2 525.9L324.9 524.1"/>
<path class="mb bd" d="M326.4 533.9L332.3 531.6"/>
<path d="M196.6 545.3l5.9 1.9 5 9.7-6-1.8z" color="#a8d470"/>
<path class="mb" d="M196.6 545.3L202.5 547.2M201.5 555.1L207.5 556.9"/>
<path d="M313.3 528.3l5.9-2.4 7.2 8-5.9 2.8z" color="#afaf6a"/>
<path class="mb" d="M313.3 528.3L319.2 525.9"/>
<path class="mb bd" d="M320.5 536.7L326.4 533.9"/>
<path d="M307.5 531.2l5.8-2.9 7.2 8.4-6 3.3z" color="#aeaa67"/>
<path class="mb" d="M307.5 531.2L314.5 540M307.5 531.2L313.3 528.3"/>
<path class="mb bd" d="M314.5 540L320.5 536.7"/>
<path d="M190.7 543.1l5.9 2.2 4.9 9.8-6-2.2z" color="#a7d670"/>
<path class="mb" d="M190.7 543.1L196.6 545.3M195.5 552.9L201.5 555.1"/>
<path d="M301.7 534.5l5.8-3.3 7 8.8-5.9 3.5z" color="#ada665"/>
<path class="mb" d="M307.5 531.2L314.5 540M301.7 534.5L307.5 531.2"/>
<path class="mb bd" d="M308.6 543.5L314.5 540"/>
<path d="M295.8 537.9l5.9-3.4 6.9 9-6 3.7z" color="#ada565"/>
<path class="mb" d="M295.8 537.9L301.7 534.5"/>
<path class="mb bd" d="M302.6 547.2L308.6 543.5"/>
<path d="M290 541.4l5.8-3.5 6.8 9.3-6 3.6z" color="#ada665"/>
<path class="mb" d="M290 541.4L295.8 537.9"/>
<path class="mb bd" d="M296.6 550.8L302.6 547.2"/>
<path d="M184.8 540.7l5.9 2.4 4.8 9.8-6-2.5z" color="#a6d76f"/>
<path class="mb" d="M184.8 540.7L189.5 550.4M184.8 540.7L190.7 543.1M189.5 550.4L195.5 552.9"/>
<path d="M284.1 544.8l5.9-3.4 6.6 9.4-5.9 3.4z" color="#aea866"/>
<path class="mb" d="M284.1 544.8L290.7 554.2M284.1 544.8L290 541.4"/>
<path class="mb bd" d="M290.7 554.2L296.6 550.8"/>
<path d="M278.3 547.9l5.8-3.1 6.6 9.4-6 3.2z" color="#aeab68"/>
<path class="mb" d="M284.1 544.8L290.7 554.2M278.3 547.9L284.1 544.8"/>
<path class="mb bd" d="M284.7 557.4L290.7 554.2"/>
<path d="M178.9 538l5.9 2.7 4.7 9.7-6-2.7z" color="#a5d76f"/>
<path class="mb" d="M184.8 540.7L189.5 550.4M178.9 538L184.8 540.7M183.5 547.7L189.5 550.4"/>
<path d="M272.4 550.8l5.9-2.9 6.4 9.5-6 2.9z" color="#b0af6a"/>
<path class="mb" d="M272.4 550.8L278.3 547.9"/>
<path class="mb bd" d="M278.7 560.3L284.7 557.4"/>
<path d="M266.5 553.3l5.9-2.5 6.3 9.5-5.9 2.5z" color="#b1b56d"/>
<path class="mb" d="M266.5 553.3L272.4 550.8"/>
<path class="mb bd" d="M272.8 562.8L278.7 560.3"/>
<path d="M172.9 535.3l6 2.7 4.6 9.7-6.1-2.9z" color="#a5d76f"/>
<path class="mb" d="M172.9 535.3L178.9 538M177.4 544.8L183.5 547.7"/>
<path d="M260.7 555.5l5.8-2.2 6.3 9.5-6 2.2z" color="#b1b86e"/>
<path class="mb" d="M260.7 555.5L266.8 565M260.7 555.5L266.5 553.3"/>
<path class="mb bd" d="M266.8 565L272.8 562.8"/>
<path d="M254.8 557.3l5.9-1.8 6.1 9.5-6 1.8z" color="#b0bb6e"/>
<path class="mb" d="M260.7 555.5L266.8 565M254.8 557.3L260.7 555.5"/>
<path class="mb bd" d="M260.8 566.8L266.8 565"/>
<path d="M167 532.7l5.9 2.6 4.5 9.5-6-2.8z" color="#a5d76f"/>
<path class="mb" d="M167 532.7L172.9 535.3M171.4 542L177.4 544.8"/>
<path d="M248.9 558.6l5.9-1.3 6 9.5-6 1.3z" color="#afbe6f"/>
<path class="mb" d="M248.9 558.6L254.8 557.3"/>
<path class="mb bd" d="M254.8 568.1L260.8 566.8"/>
<path d="M243 559.6l5.9-1 5.9 9.5-6 1z" color="#afc16f"/>
<path class="mb" d="M243 559.6L248.9 558.6"/>
<path class="mb bd" d="M248.8 569.1L254.8 568.1"/>
<path d="M161 530.4l6 2.3 4.4 9.3-6.1-2.6z" color="#a5d56e"/>
<path class="mb" d="M161 530.4L165.3 539.4M161 530.4L167 532.7M165.3 539.4L171.4 542"/>
<path d="M237.1 560.2l5.9-.6 5.8 9.5-6 .6z" color="#aec46f"/>
<path class="mb" d="M237.1 560.2L242.8 569.7M237.1 560.2L243 559.6"/>
<path class="mb bd" d="M242.8 569.7L248.8 569.1"/>
<path d="M155 528.5l6 1.9 4.3 9-6.1-2.4z" color="#a6d26e"/>
<path class="mb" d="M161 530.4L165.3 539.4M155 528.5L161 530.4M159.2 537L165.3 539.4"/>
<path d="M231.2 560.3l5.9-.1 5.7 9.5-6 .2z" color="#acc76f"/>
<path class="mb" d="M237.1 560.2L242.8 569.7M231.2 560.3L237.1 560.2"/>
<path class="mb bd" d="M236.8 569.9L242.8 569.7"/>
<path d="M149 527.2l6 1.3 4.2 8.5-6.1-1.7z" color="#a7ce6d"/>
<path class="mb" d="M149 527.2L155 528.5M153.1 535.3L159.2 537"/>
<path d="M225.3 560.1l5.9 .2 5.6 9.6-6-.2z" color="#abc96f"/>
<path class="mb" d="M225.3 560.1L231.2 560.3"/>
<path class="mb bd" d="M230.8 569.7L236.8 569.9"/>
<path d="M143 526.7l6 .5 4.1 8.1-6.2-1.1z" color="#a8c86c"/>
<path class="mb" d="M143 526.7L149 527.2M146.9 534.2L153.1 535.3"/>
<path d="M219.4 559.4l5.9 .7 5.5 9.6-6-.7z" color="#aacc6f"/>
<path class="mb" d="M219.4 559.4L225.3 560.1"/>
<path class="mb bd" d="M224.8 569L230.8 569.7"/>
<path d="M137 527l6-.3 3.9 7.5-6.1-.3z" color="#a9c06b"/>
<path class="mb" d="M137 527L140.8 533.9M137 527L143 526.7M140.8 533.9L146.9 534.2"/>
<path d="M40.2 569.8l12.3-4.5 2.1 5.5-12.4 4.8z" color="#a9a562"/>
<path class="mb" d="M40.2 569.8L52.5 565.3M42.2 575.6L54.6 570.8"/>
<path class="mb bd" d="M40.2 569.8L42.2 575.6"/>
<path d="M52.5 565.3l12.1-5.1 2.4 5.2-12.4 5.4z" color="#a7a05f"/>
<path class="mb" d="M64.6 560.2L67 565.4M52.5 565.3L64.6 560.2M54.6 570.8L67 565.4"/>
<path d="M213.4 558.4l6 1 5.4 9.6-6.1-1z" color="#a9ce6f"/>
<path class="mb" d="M213.4 558.4L218.7 568M213.4 558.4L219.4 559.4"/>
<path class="mb bd" d="M218.7 568L224.8 569"/>
<path d="M125 529.9l12-2.9 3.8 6.9-12.3 1.7z" color="#aab468"/>
<path class="mb" d="M137 527L140.8 533.9M125 529.9L137 527M128.5 535.6L140.8 533.9"/>
<path d="M64.6 560.2l12.2-5.7 2.6 4.9-12.4 6z" color="#a59a5c"/>
<path class="mb" d="M64.6 560.2L67 565.4M64.6 560.2L76.8 554.5M67 565.4L79.4 559.4"/>
<path d="M76.8 554.5l12-6.3 2.9 4.7-12.3 6.5z" color="#a4965a"/>
<path class="mb" d="M88.8 548.2L91.7 552.9M76.8 554.5L88.8 548.2M79.4 559.4L91.7 552.9"/>
<path d="M112.9 535.1l12.1-5.2 3.5 5.7-12.2 4.5z" color="#a9a562"/>
<path class="mb" d="M112.9 535.1L116.3 540.1M112.9 535.1L125 529.9M116.3 540.1L128.5 535.6"/>
<path d="M88.8 548.2l12.1-6.7 3.1 4.7-12.3 6.7z" color="#a49559"/>
<path class="mb" d="M88.8 548.2L91.7 552.9M88.8 548.2L100.9 541.5M91.7 552.9L104 546.2"/>
<path d="M100.9 541.5l12-6.4 3.4 5-12.3 6.1z" color="#a5985b"/>
<path class="mb" d="M112.9 535.1L116.3 540.1M100.9 541.5L112.9 535.1M104 546.2L116.3 540.1"/>
<path d="M207.5 556.9l5.9 1.5 5.3 9.6-6-1.4z" color="#a8d16f"/>
<path class="mb" d="M213.4 558.4L218.7 568M207.5 556.9L213.4 558.4"/>
<path class="mb bd" d="M212.7 566.6L218.7 568"/>
<path d="M201.5 555.1l6 1.8 5.2 9.7-6.1-1.8z" color="#a7d26f"/>
<path class="mb" d="M201.5 555.1L207.5 556.9"/>
<path class="mb bd" d="M206.6 564.8L212.7 566.6"/>
<path d="M195.5 552.9l6 2.2 5.1 9.7-6.1-2.2z" color="#a6d46f"/>
<path class="mb" d="M195.5 552.9L201.5 555.1"/>
<path class="mb bd" d="M200.5 562.6L206.6 564.8"/>
<path d="M189.5 550.4l6 2.5 5 9.7-6.1-2.5z" color="#a5d56f"/>
<path class="mb" d="M189.5 550.4L194.4 560.1M189.5 550.4L195.5 552.9"/>
<path class="mb bd" d="M194.4 560.1L200.5 562.6"/>
<path d="M183.5 547.7l6 2.7 4.9 9.7-6.2-2.7z" color="#a5d66e"/>
<path class="mb" d="M189.5 550.4L194.4 560.1M183.5 547.7L189.5 550.4"/>
<path class="mb bd" d="M188.2 557.4L194.4 560.1"/>
<path d="M177.4 544.8l6.1 2.9 4.7 9.7-6.1-3z" color="#a4d66e"/>
<path class="mb" d="M177.4 544.8L183.5 547.7"/>
<path class="mb bd" d="M182.1 554.4L188.2 557.4"/>
<path d="M171.4 542l6 2.8 4.7 9.6-6.2-3z" color="#a4d66e"/>
<path class="mb" d="M171.4 542L177.4 544.8"/>
<path class="mb bd" d="M175.9 551.4L182.1 554.4"/>
<path d="M165.3 539.4l6.1 2.6 4.5 9.4-6.2-2.9z" color="#a4d56e"/>
<path class="mb" d="M165.3 539.4L169.7 548.5M165.3 539.4L171.4 542"/>
<path class="mb bd" d="M169.7 548.5L175.9 551.4"/>
<path d="M159.2 537l6.1 2.4 4.4 9.1-6.2-2.6z" color="#a5d36d"/>
<path class="mb" d="M165.3 539.4L169.7 548.5M159.2 537L165.3 539.4"/>
<path class="mb bd" d="M163.5 545.9L169.7 548.5"/>
<path d="M153.1 535.3l6.1 1.7 4.3 8.9-6.2-2.2z" color="#a5d06d"/>
<path class="mb" d="M153.1 535.3L159.2 537"/>
<path class="mb bd" d="M157.3 543.7L163.5 545.9"/>
<path d="M146.9 534.2l6.2 1.1 4.2 8.4-6.3-1.6z" color="#a6cb6c"/>
<path class="mb" d="M146.9 534.2L153.1 535.3"/>
<path class="mb bd" d="M151 542.1L157.3 543.7"/>
<path d="M140.8 533.9l6.1 .3 4.1 7.9-6.2-.8z" color="#a7c56b"/>
<path class="mb" d="M140.8 533.9L144.8 541.3M140.8 533.9L146.9 534.2"/>
<path class="mb bd" d="M144.8 541.3L151 542.1"/>
<path d="M42.2 575.6l12.4-4.8 2.3 5.7-12.7 5.1z" color="#a8a461"/>
<path class="mb" d="M42.2 575.6L54.6 570.8"/>
<path class="mb bd" d="M42.2 575.6L44.2 581.6M44.2 581.6L56.9 576.5"/>
<path d="M128.5 535.6l12.3-1.7 4 7.4-12.5 .7z" color="#a9b969"/>
<path class="mb" d="M140.8 533.9L144.8 541.3M128.5 535.6L140.8 533.9"/>
<path class="mb bd" d="M132.3 542L144.8 541.3"/>
<path d="M54.6 570.8l12.4-5.4 2.5 5.4-12.6 5.7z" color="#a79e5e"/>
<path class="mb" d="M67 565.4L69.5 570.8M54.6 570.8L67 565.4"/>
<path class="mb bd" d="M56.9 576.5L69.5 570.8"/>
<path d="M67 565.4l12.4-6 2.7 5.1-12.6 6.3z" color="#a59a5c"/>
<path class="mb" d="M67 565.4L69.5 570.8M67 565.4L79.4 559.4"/>
<path class="mb bd" d="M69.5 570.8L82.1 564.5"/>
<path d="M79.4 559.4l12.3-6.5 3 5-12.6 6.6z" color="#a4965a"/>
<path class="mb" d="M91.7 552.9L94.7 557.9M79.4 559.4L91.7 552.9"/>
<path class="mb bd" d="M82.1 564.5L94.7 557.9"/>
<path d="M116.3 540.1l12.2-4.5 3.8 6.4-12.5 3.6z" color="#aaab65"/>
<path class="mb" d="M116.3 540.1L119.8 545.6M116.3 540.1L128.5 535.6"/>
<path class="mb bd" d="M119.8 545.6L132.3 542"/>
<path d="M91.7 552.9l12.3-6.7 3.2 5.1-12.5 6.6z" color="#a4965a"/>
<path class="mb" d="M91.7 552.9L94.7 557.9M91.7 552.9L104 546.2"/>
<path class="mb bd" d="M94.7 557.9L107.2 551.3"/>
<path d="M104 546.2l12.3-6.1 3.5 5.5-12.6 5.7z" color="#a69d5e"/>
<path class="mb" d="M116.3 540.1L119.8 545.6M104 546.2L116.3 540.1"/>
<path class="mb bd" d="M107.2 551.3L119.8 545.6"/>
</g>
<path class="bx" d="M8.6 379.4L322.3 369.9M8.6 379.4L32.5 441.8M322.3 369.9L444.5 425.1M32.5 441.8L444.5 425.1M12.7 506.7L8.6 379.4M37.3 609.6L32.5 441.8M438.3 582.4L444.5 425.1M12.7 506.7L37.3 609.6M37.3 609.6L438.3 582.4"/>
<path class="bx" d="M320.0 491.1L356.0 518.9"/>
<path class="tk" d="M45.6 609L45.4 602.1M66.1 607.6L65.9 603.2M86.4 606.2L86.3 601.8M106.6 604.9L106.6 600.4M126.7 603.5L126.7 599.1M146.7 602.2L146.6 595.3M166.5 600.8L166.5 596.4M186.2 599.5L186.2 595.1M205.8 598.2L205.8 593.8M225.3 596.8L225.3 592.5M244.6 595.5L244.6 588.8M263.8 594.2L263.8 589.9M282.8 592.9L282.9 588.6M301.8 591.7L301.9 587.4M320.6 590.4L320.7 586.1M339.3 589.1L339.5 582.5M357.9 587.9L358 583.6M376.4 586.6L376.5 582.4M394.7 585.4L394.9 581.1M413 584.1L413.1 579.9M431.1 582.9L431.3 576.4M324.1 370.7L324 376M333.3 374.9L333.3 378.4M343 379.3L342.9 382.8M353.1 383.9L353.1 387.5M363.8 388.7L363.7 392.4M375 393.7L374.9 399.7M386.9 399.1L386.8 403M399.4 404.7L399.2 408.8M412.6 410.7L412.4 414.9M426.6 417L426.4 421.3M441.4 423.7L441.2 430.6M438.5 578L434.3 578.3M438.8 569.4L434.7 569.7M439.2 560.9L435 561.1M439.8 543.6L435.7 543.9M440.2 535L436 535.2M440.5 526.3L436.4 526.5M441.2 508.8L437 509.1M441.6 500.1L437.4 500.3M441.9 491.3L437.7 491.5M442.6 473.7L438.4 473.9M442.9 464.8L438.7 465M443.3 455.9L439.1 456.1M444 438.1L439.8 438.2M444.4 429.1L440.1 429.3M439.5 552.2L433.1 552.6M440.9 517.6L434.4 517.9M442.2 482.5L435.8 482.8M443.6 447L437.1 447.3"/>
<text x="44.4" y="292.0" class="n">−1.0</text>
<text x="139.7" y="283.6" class="n">−0.5</text>
<text x="235.7" y="274.2" class="n">0.0</text>
<text x="324.9" y="266.2" class="n">0.5</text>
<text x="410.9" y="258.4" class="n">1.0</text>
<text x="305.7" y="12.8" class="n">0.0</text>
<text x="358.3" y="41.0" class="n">0.5</text>
<text x="432.1" y="77.0" class="n">1.0</text>
<text x="440.9" y="126.2" class="n">1.0</text>
<text x="435.9" y="182.6" class="n">0.5</text>
<text x="433.8" y="237.2" class="n">0.0</text>
<text x="219.5" y="334.2" class="c">(a)</text>
<text x="229.8" y="303.0" class="axk">k</text>
<text x="235.8" y="290.0" class="h">^</text>
<text x="395.7" y="21.0" class="ax">ω</text>
<text x="400.7" y="11.4" class="h">^</text>
<text x="36.2" y="631.0" class="n">−1.0</text>
<text x="136.7" y="624.0" class="n">−0.5</text>
<text x="236.2" y="617.0" class="n">0.0</text>
<text x="330.8" y="611.0" class="n">0.5</text>
<text x="422.8" y="605.0" class="n">1.0</text>
<text x="323.9" y="363.4" class="n">0.0</text>
<text x="375.6" y="386.0" class="n">0.5</text>
<text x="442.5" y="417.2" class="n">1.0</text>
<text x="452.3" y="449.6" class="n">0.8</text>
<text x="450.4" y="485.4" class="n">0.6</text>
<text x="449.7" y="520.2" class="n">0.4</text>
<text x="447.5" y="554.6" class="n">0.2</text>
<text x="219.5" y="681.5" class="c">(b)</text>
<text x="241.6" y="649.2" class="axk">k</text>
<text x="247.5" y="634.2" class="h">^</text>
<text x="409.5" y="365.6" class="ax">ω</text>
<text x="415.7" y="355.5" class="h">^</text>
<text x="475.1" y="164.2" class="br">|</text>
<text x="479.9" y="163.4" class="L">L</text>
<text x="489.4" y="170.4" class="s">11</text>
<text x="506.0" y="164.2" class="br">|</text>
<text x="486.8" y="504.2" class="br">|</text>
<text x="491.3" y="505.0" class="L">L</text>
<text x="501.3" y="511.2" class="s">12</text>
<text x="517.2" y="504.2" class="br">|</text>

</svg>
</body></html>
